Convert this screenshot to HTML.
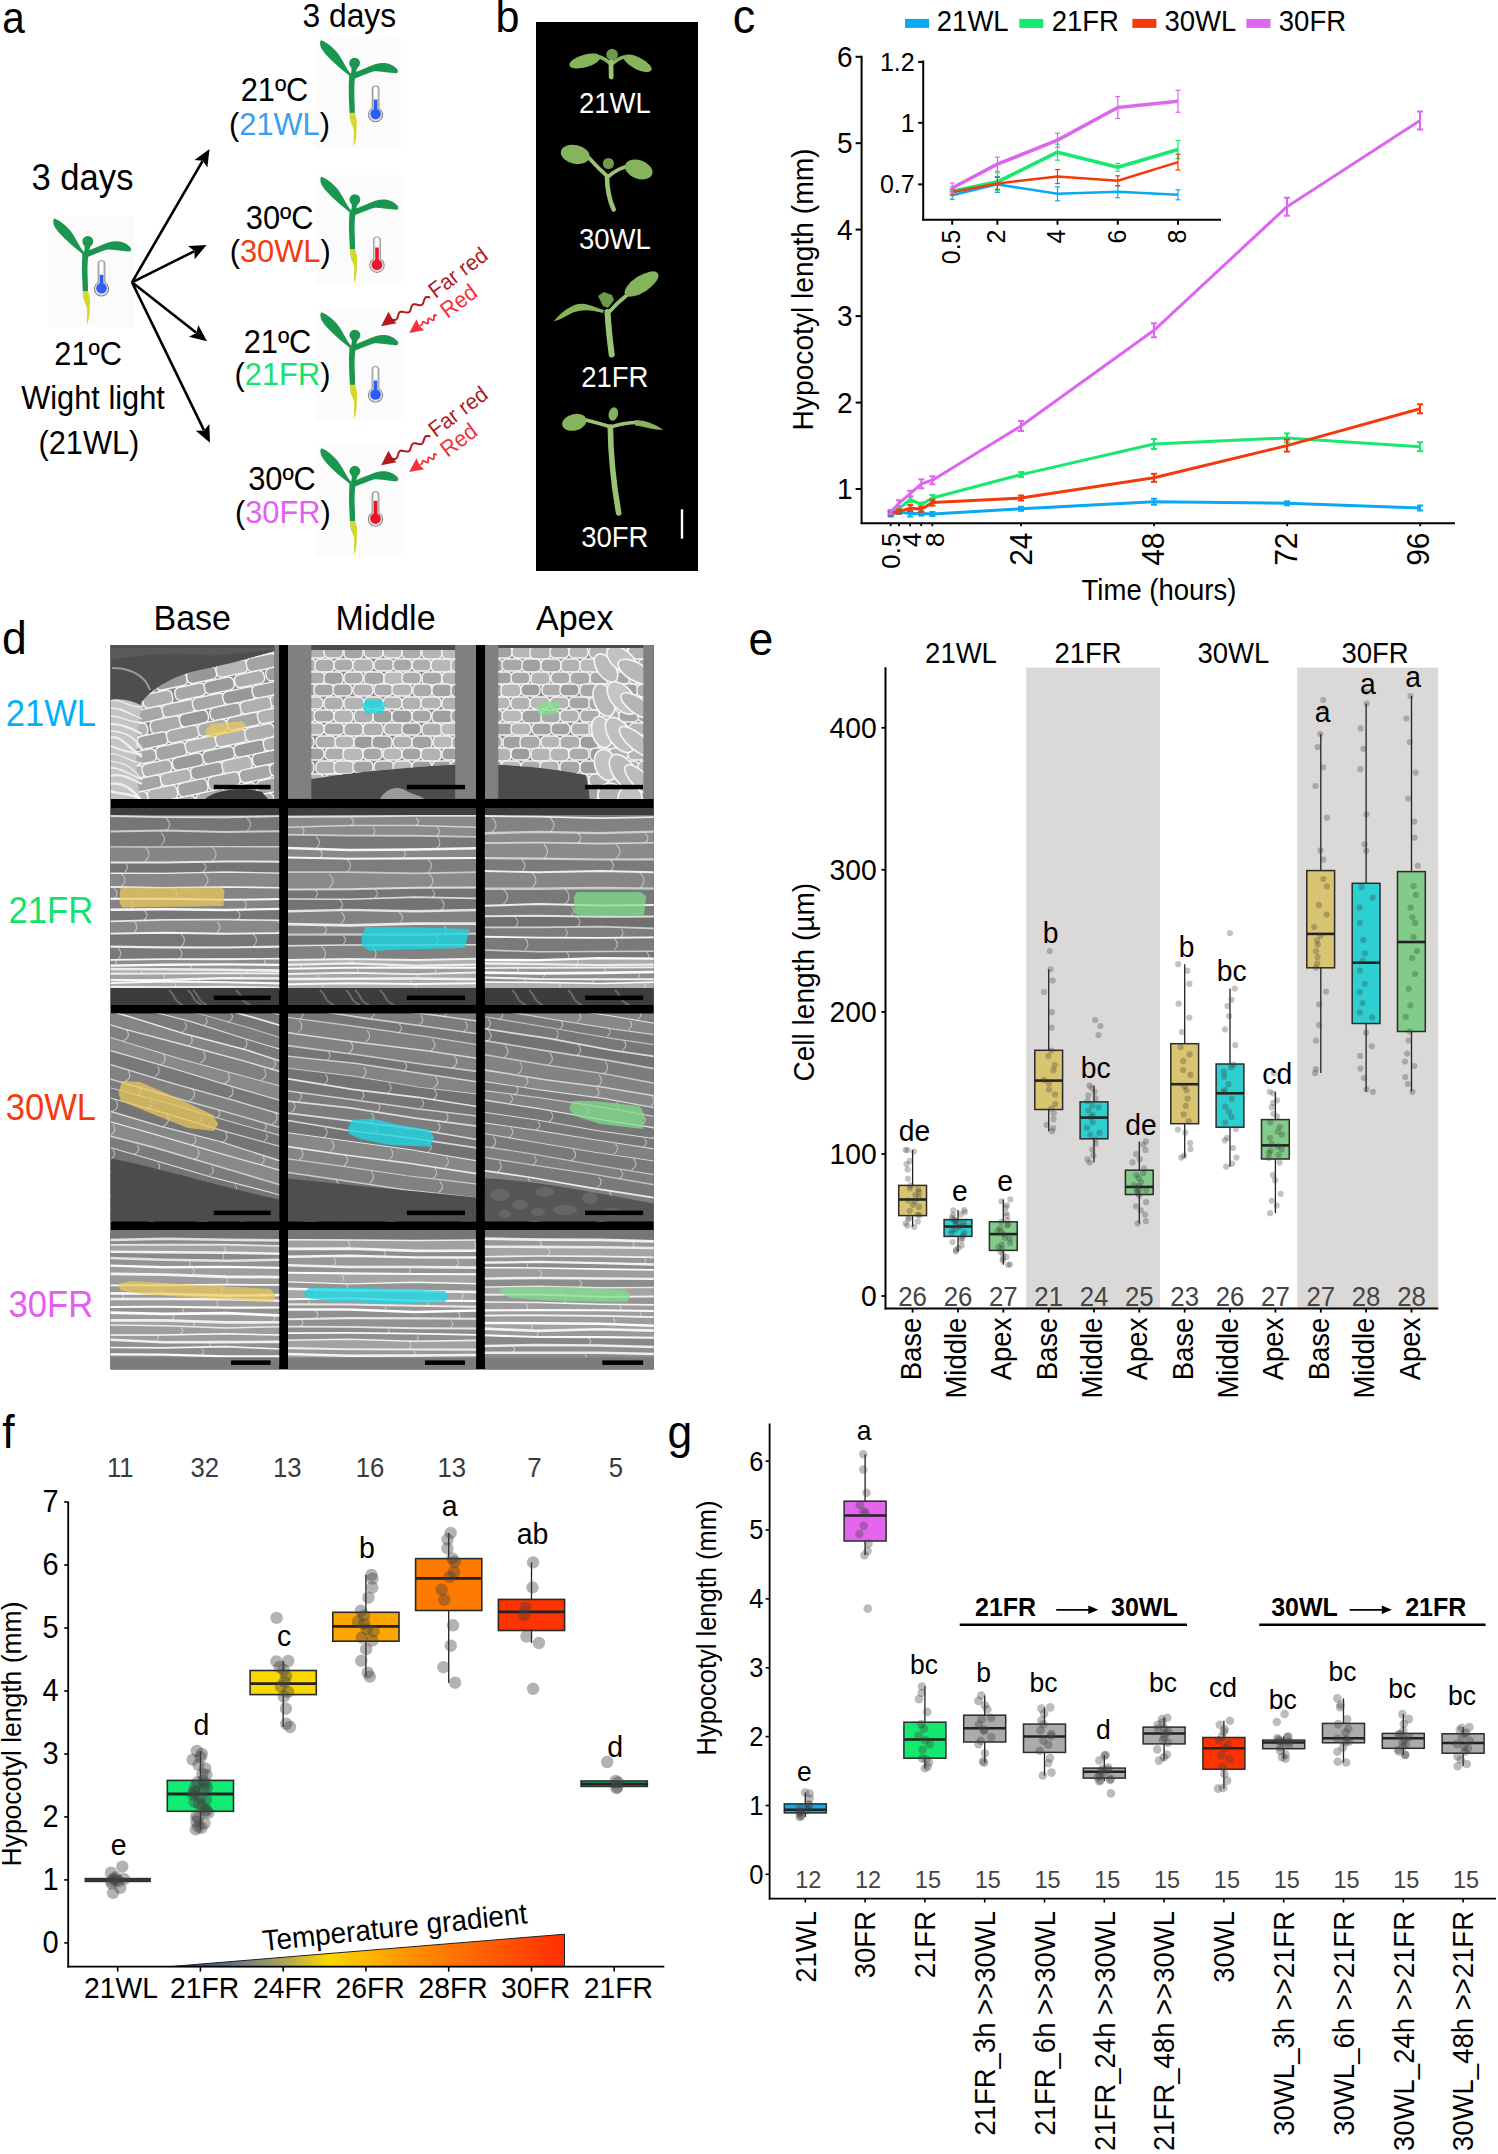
<!DOCTYPE html>
<html><head><meta charset="utf-8"><title>Figure</title>
<style>
html,body{margin:0;padding:0;background:#fff;}
body{width:1498px;height:2154px;overflow:hidden;}
svg{display:block;font-family:"Liberation Sans", sans-serif;}
.h{stroke:#f4f4f4;stroke-width:1.4}
.e{stroke:#f2f2f2;stroke-opacity:.85;stroke-width:1.3}
</style></head><body>
<svg width="1498" height="2154" viewBox="0 0 1498 2154">
<rect width="1498" height="2154" fill="#fff"/>
<defs>
<g id="seed"><rect x="0" y="0" width="86" height="110" fill="#fbfbfb"/><path d="M6.3,1.7 C9,2.6 12.5,4.7 16,7.8 C20.5,11.5 24,16 26.8,20.9 C29.5,25.5 32,30.5 35.2,34.4 L37,36.6 L35,37.6 C31.5,35 28.5,32.5 26,30.5 C22,27 17.5,23 12.5,17.8 C8.5,13.5 5.8,10 5.2,6.5 C4.8,3.5 5.3,2 6.3,1.7 Z" fill="#1b9650"/><circle cx="39.6" cy="24.6" r="5.4" fill="#1b9650"/><path d="M36.2,27 L43,27 L41.2,33 L40.8,37 L35.5,37 L36.5,32 Z" fill="#1b9650"/><path d="M38.3,34.6 C42,33.2 46,31.5 49.5,30 C53,28.5 56.5,27 60,25.8 C64,24.6 68,24.3 71.5,24.8 C75.5,25.4 78.5,27.2 81,29.5 C82.3,30.6 83,31.5 82.9,33.2 C82.5,34.6 81,34.8 79,34.6 C75,34.3 71,33.6 67,33.2 C63.5,32.9 60.5,32.4 57.5,33.2 C53.5,34.4 49.5,36.3 45.5,37.7 C43.5,38.4 41.5,39.3 40,40 Z" fill="#1b9650"/><path d="M34.3,35.5 L40.5,35.5 C39.8,41 39.3,46 39.3,51 C39.2,58 39.8,66 39.8,74.5 L34.6,74.5 C34.3,67 33.8,60 33.7,53 C33.6,47 34,41 34.3,35.5 Z" fill="#1b9650"/><path d="M34.6,74.3 L39.8,74.3 C40.5,77 41.7,80 41.8,83 C41.9,87 41.5,91 41.4,95 C41.3,99 40.6,103 39.3,107 L38.7,107 C38.6,103 38.6,99.5 38.9,96 C39.1,93 38.8,90.5 37.6,88 C36.3,85 35.1,82.5 34.9,79.5 C34.7,77.5 34.6,76 34.6,74.3 Z" fill="#d6d72c"/></g>
</defs>
<use href="#seed" x="48.2" y="216.8"/>
<path d="M98.2,282.6 L98.2,264.0 A3.3,3.3 0 0 1 104.8,264.0 L104.8,282.6 A7.1,7.1 0 1 1 98.2,282.6 Z" fill="#fff" stroke="#8a8a8a" stroke-width="1.1"/>
<path d="M99.4,283.3 L99.4,263.1 A2.1,2.1 0 0 1 103.6,263.1 L103.6,283.3 A5.9,5.9 0 1 1 99.4,283.3 Z" fill="#fff" stroke="#c8c8c8" stroke-width="0.8"/>
<rect x="99.7" y="274.8" width="3.6" height="13.5" fill="#2f5cf5"/>
<circle cx="101.5" cy="288.3" r="5.3" fill="#2f5cf5"/>
<use href="#seed" x="315.0" y="38.5"/>
<path d="M372.3,108.4 L372.3,89.4 A3.3,3.3 0 0 1 378.9,89.4 L378.9,108.4 A7.1,7.1 0 1 1 372.3,108.4 Z" fill="#fff" stroke="#8a8a8a" stroke-width="1.1"/>
<path d="M373.5,109.1 L373.5,88.5 A2.1,2.1 0 0 1 377.7,88.5 L377.7,109.1 A5.9,5.9 0 1 1 373.5,109.1 Z" fill="#fff" stroke="#c8c8c8" stroke-width="0.8"/>
<rect x="373.8" y="99.5" width="3.6" height="14.6" fill="#2f5cf5"/>
<circle cx="375.6" cy="114.1" r="5.3" fill="#2f5cf5"/>
<use href="#seed" x="315.3" y="175.0"/>
<path d="M373.7,259.0 L373.7,240.3 A3.3,3.3 0 0 1 380.3,240.3 L380.3,259.0 A7.1,7.1 0 1 1 373.7,259.0 Z" fill="#fff" stroke="#8a8a8a" stroke-width="1.1"/>
<path d="M374.9,259.7 L374.9,239.4 A2.1,2.1 0 0 1 379.1,239.4 L379.1,259.7 A5.9,5.9 0 1 1 374.9,259.7 Z" fill="#fff" stroke="#c8c8c8" stroke-width="0.8"/>
<rect x="375.2" y="247.5" width="3.6" height="17.2" fill="#ec1329"/>
<circle cx="377.0" cy="264.7" r="5.3" fill="#ec1329"/>
<use href="#seed" x="315.3" y="310.5"/>
<path d="M372.2,388.8 L372.2,369.8 A3.3,3.3 0 0 1 378.8,369.8 L378.8,388.8 A7.1,7.1 0 1 1 372.2,388.8 Z" fill="#fff" stroke="#8a8a8a" stroke-width="1.1"/>
<path d="M373.4,389.5 L373.4,368.9 A2.1,2.1 0 0 1 377.6,368.9 L377.6,389.5 A5.9,5.9 0 1 1 373.4,389.5 Z" fill="#fff" stroke="#c8c8c8" stroke-width="0.8"/>
<rect x="373.7" y="380.5" width="3.6" height="14.0" fill="#2f5cf5"/>
<circle cx="375.5" cy="394.5" r="5.3" fill="#2f5cf5"/>
<use href="#seed" x="315.3" y="446.6"/>
<path d="M372.2,512.9 L372.2,495.2 A3.3,3.3 0 0 1 378.8,495.2 L378.8,512.9 A7.1,7.1 0 1 1 372.2,512.9 Z" fill="#fff" stroke="#8a8a8a" stroke-width="1.1"/>
<path d="M373.4,513.6 L373.4,494.3 A2.1,2.1 0 0 1 377.6,494.3 L377.6,513.6 A5.9,5.9 0 1 1 373.4,513.6 Z" fill="#fff" stroke="#c8c8c8" stroke-width="0.8"/>
<rect x="373.7" y="500.8" width="3.6" height="17.8" fill="#ec1329"/>
<circle cx="375.5" cy="518.6" r="5.3" fill="#ec1329"/>
<text transform="translate(2.2,32.6) scale(0.9,1)" font-size="45">a</text>
<text transform="translate(31.5,189.8) scale(1,1.05)" font-size="34.6">3 days</text>
<text transform="translate(302.5,26.8) scale(1,1.05)" font-size="31.8">3 days</text>
<text transform="translate(88.2,364.8) scale(1,1.05)" font-size="30.8" text-anchor="middle">21ºC</text>
<text transform="translate(93.0,409.4) scale(1,1.05)" font-size="30.8" text-anchor="middle">Wight light</text>
<text transform="translate(88.9,453.5) scale(1,1.05)" font-size="30.8" text-anchor="middle">(21WL)</text>
<text transform="translate(274.5,101.0) scale(1,1.05)" font-size="30.8" text-anchor="middle">21ºC</text>
<text x="279.5" y="135.0" font-size="30.8" text-anchor="middle">(<tspan fill="#3aa0ee">21WL</tspan>)</text>
<text transform="translate(279.7,229.2) scale(1,1.05)" font-size="30.8" text-anchor="middle">30ºC</text>
<text x="280.2" y="262.0" font-size="30.8" text-anchor="middle">(<tspan fill="#f23c0e">30WL</tspan>)</text>
<text transform="translate(277.5,353.4) scale(1,1.05)" font-size="30.8" text-anchor="middle">21ºC</text>
<text x="282.5" y="385.0" font-size="30.8" text-anchor="middle">(<tspan fill="#13e36f">21FR</tspan>)</text>
<text transform="translate(282.0,489.6) scale(1,1.05)" font-size="30.8" text-anchor="middle">30ºC</text>
<text x="282.9" y="523.3" font-size="30.8" text-anchor="middle">(<tspan fill="#e45ff0">30FR</tspan>)</text>
<line x1="132.0" y1="282.3" x2="202.5" y2="161.1" stroke="#000" stroke-width="2.6"/>
<path d="M209.5,149.0 L207.4,167.5 L202.7,160.8 L194.5,159.9 Z" fill="#000"/>
<line x1="132.0" y1="282.3" x2="194.1" y2="251.3" stroke="#000" stroke-width="2.6"/>
<path d="M206.6,245.0 L194.7,259.3 L194.4,251.1 L188.0,245.9 Z" fill="#000"/>
<line x1="132.0" y1="282.3" x2="196.0" y2="332.6" stroke="#000" stroke-width="2.6"/>
<path d="M207.0,341.3 L189.0,336.7 L196.3,332.9 L198.3,324.9 Z" fill="#000"/>
<line x1="132.0" y1="282.3" x2="203.9" y2="430.1" stroke="#000" stroke-width="2.6"/>
<path d="M210.0,442.7 L195.8,430.7 L204.1,430.5 L209.3,424.1 Z" fill="#000"/>
<path d="M430.3,297.4 L429.3,297.2 L428.3,297.0 L427.4,296.9 L426.6,297.0 L425.9,297.2 L425.3,297.7 L424.9,298.4 L424.5,299.2 L424.1,300.1 L423.8,301.1 L423.5,302.1 L423.2,303.0 L422.8,303.8 L422.3,304.5 L421.7,304.9 L421.0,305.2 L420.2,305.3 L419.3,305.2 L418.4,305.0 L417.4,304.8 L416.4,304.5 L415.4,304.3 L414.5,304.3 L413.7,304.3 L413.0,304.6 L412.4,305.1 L411.9,305.7 L411.5,306.5 L411.2,307.5 L410.9,308.4 L410.6,309.4 L410.3,310.4 L409.9,311.2 L409.4,311.8 L408.8,312.3 L408.1,312.6 L407.3,312.6 L406.4,312.6 L405.4,312.4 L404.4,312.1 L403.4,311.9 L402.5,311.7 L401.6,311.6 L400.8,311.7 L400.1,312.0 L399.5,312.4 L399.0,313.1 L398.6,313.9 L398.3,314.8 L398.0,315.8 L397.7,316.8 L397.3,317.7 L396.9,318.5 L396.5,319.2 L395.9,319.7 L395.2,319.9 L394.4,320.0 L393.5,319.9 L392.5,319.7 L391.5,319.5" fill="none" stroke="#b3191f" stroke-width="2"/>
<path d="M381.1,326.3 L388.5,311.8 L392.3,318.8 L396.5,323.2 Z" fill="#b3191f"/>
<path d="M436.8,316.0 L435.9,315.5 L435.1,315.1 L434.5,315.0 L434.1,315.4 L433.9,316.0 L433.9,317.0 L433.9,318.0 L433.9,319.0 L433.8,319.8 L433.5,320.2 L432.9,320.3 L432.2,320.0 L431.3,319.5 L430.4,319.0 L429.6,318.5 L428.9,318.4 L428.5,318.5 L428.2,319.1 L428.1,320.0 L428.1,321.0 L428.2,322.0 L428.1,322.9 L427.8,323.5 L427.4,323.6 L426.7,323.5 L425.9,323.0 L425.0,322.5 L424.1,322.0 L423.4,321.7 L422.8,321.8 L422.5,322.2 L422.4,323.0 L422.4,324.0 L422.1,324.5 L421.7,324.8 L421.2,325.0 L420.8,325.2 L420.4,325.5 L419.9,325.8 L419.5,326.0" fill="none" stroke="#f2333d" stroke-width="1.8"/>
<path d="M409.2,332.9 L416.5,319.2 L419.5,326.0 L424.2,330.3 Z" fill="#f2333d"/>
<text transform="translate(435.5,299.0) rotate(-37) scale(1,1.05)" font-size="21" fill="#b3191f">Far red</text>
<text transform="translate(447.5,319.0) rotate(-37) scale(1,1.05)" font-size="21.5" fill="#f2333d">Red</text>
<path d="M430.3,436.4 L429.3,436.2 L428.3,436.0 L427.4,435.9 L426.6,436.0 L425.9,436.2 L425.3,436.7 L424.9,437.4 L424.5,438.2 L424.1,439.1 L423.8,440.1 L423.5,441.1 L423.2,442.0 L422.8,442.8 L422.3,443.5 L421.7,443.9 L421.0,444.2 L420.2,444.3 L419.3,444.2 L418.4,444.0 L417.4,443.8 L416.4,443.5 L415.4,443.3 L414.5,443.3 L413.7,443.3 L413.0,443.6 L412.4,444.1 L411.9,444.7 L411.5,445.5 L411.2,446.5 L410.9,447.4 L410.6,448.4 L410.3,449.4 L409.9,450.2 L409.4,450.8 L408.8,451.3 L408.1,451.6 L407.3,451.6 L406.4,451.6 L405.4,451.4 L404.4,451.1 L403.4,450.9 L402.5,450.7 L401.6,450.6 L400.8,450.7 L400.1,451.0 L399.5,451.4 L399.0,452.1 L398.6,452.9 L398.3,453.8 L398.0,454.8 L397.7,455.8 L397.3,456.7 L396.9,457.5 L396.5,458.2 L395.9,458.7 L395.2,458.9 L394.4,459.0 L393.5,458.9 L392.5,458.7 L391.5,458.5" fill="none" stroke="#b3191f" stroke-width="2"/>
<path d="M381.1,465.3 L388.5,450.8 L392.3,457.8 L396.5,462.2 Z" fill="#b3191f"/>
<path d="M436.8,455.0 L435.9,454.5 L435.1,454.1 L434.5,454.0 L434.1,454.4 L433.9,455.0 L433.9,456.0 L433.9,457.0 L433.9,458.0 L433.8,458.8 L433.5,459.2 L432.9,459.3 L432.2,459.0 L431.3,458.5 L430.4,458.0 L429.6,457.5 L428.9,457.4 L428.5,457.5 L428.2,458.1 L428.1,459.0 L428.1,460.0 L428.2,461.0 L428.1,461.9 L427.8,462.5 L427.4,462.6 L426.7,462.5 L425.9,462.0 L425.0,461.5 L424.1,461.0 L423.4,460.7 L422.8,460.8 L422.5,461.2 L422.4,462.0 L422.4,463.0 L422.1,463.5 L421.7,463.8 L421.2,464.0 L420.8,464.2 L420.4,464.5 L419.9,464.8 L419.5,465.0" fill="none" stroke="#f2333d" stroke-width="1.8"/>
<path d="M409.2,471.9 L416.5,458.2 L419.5,465.0 L424.2,469.3 Z" fill="#f2333d"/>
<text transform="translate(435.5,438.0) rotate(-37) scale(1,1.05)" font-size="21" fill="#b3191f">Far red</text>
<text transform="translate(447.5,458.0) rotate(-37) scale(1,1.05)" font-size="21.5" fill="#f2333d">Red</text>
<text transform="translate(495.6,32.3) scale(0.97,1)" font-size="44.5">b</text>
<rect x="536.0" y="22.0" width="162.0" height="549.0" fill="#000"/>
<path d="M600,57 Q606,59 611,64" fill="none" stroke="#86b45c" stroke-width="3.5" stroke-linecap="round"/>
<path d="M624,57 Q617,59 612,64" fill="none" stroke="#86b45c" stroke-width="3.5" stroke-linecap="round"/>
<ellipse cx="584.9" cy="61" rx="16" ry="6.3" transform="rotate(-16 584.9 61)" fill="#86b45c"/>
<ellipse cx="637.6" cy="63.3" rx="15.5" ry="6" transform="rotate(27 637.6 63.3)" fill="#86b45c"/>
<circle cx="612.1" cy="54.5" r="5.8" fill="#6f9a4c"/>
<path d="M611,62 L611.2,77" fill="none" stroke="#9cc375" stroke-width="4.8" stroke-linecap="round"/>
<path d="M589,158 Q598,168 607,176" fill="none" stroke="#9cc375" stroke-width="3.8" stroke-linecap="round"/>
<path d="M625,167 Q616,170 609,176" fill="none" stroke="#9cc375" stroke-width="3.8" stroke-linecap="round"/>
<ellipse cx="575.2" cy="154.4" rx="14.6" ry="9.3" transform="rotate(12 575.2 154.4)" fill="#86b45c"/>
<ellipse cx="638.8" cy="169.4" rx="14.2" ry="9.3" transform="rotate(20 638.8 169.4)" fill="#86b45c"/>
<circle cx="608.4" cy="163.5" r="5.6" fill="#6f9a4c"/>
<path d="M607,176 Q607,195 613.7,209.5" fill="none" stroke="#9cc375" stroke-width="4.6" stroke-linecap="round"/>
<path d="M553.9,321 C560,314 568,307 576,304.5 C583,302.5 590,305 596,307.5 L604,310 L603,313 L594,311 C585,309.5 577,310.5 570,314 C564,317.5 558,320.5 553.9,321 Z" fill="#86b45c"/>
<path d="M609.6,311.5 Q617,303 627,295" fill="none" stroke="#9cc375" stroke-width="3.8" stroke-linecap="round"/>
<ellipse cx="641.5" cy="284" rx="19.5" ry="8.2" transform="rotate(-33 641.5 284)" fill="#86b45c"/>
<path d="M598,296 L604,292 L612,295 L614,300 L608,308 L603,306 Z" fill="#6f9a4c"/>
<path d="M607.5,312 Q609,335 611.7,354.5" fill="none" stroke="#9cc375" stroke-width="6" stroke-linecap="round"/>
<path d="M586,420 Q598,423 609.5,426.5" fill="none" stroke="#9cc375" stroke-width="3.6" stroke-linecap="round"/>
<path d="M612.4,426.5 Q625,422.5 637.5,422.5" fill="none" stroke="#9cc375" stroke-width="3.6" stroke-linecap="round"/>
<path d="M635,420 C645,420 655,424 663.3,429.9 C655,430 645,427 635,425.5 Z" fill="#86b45c"/>
<ellipse cx="574.3" cy="422.3" rx="12.4" ry="8.2" transform="rotate(-15 574.3 422.3)" fill="#86b45c"/>
<ellipse cx="613.3" cy="414" rx="4.6" ry="6.8" transform="rotate(15 613.3 414)" fill="#86b45c"/>
<path d="M610.3,427 Q611,470 618.7,513" fill="none" stroke="#9cc375" stroke-width="5.6" stroke-linecap="round"/>
<line x1="682.0" y1="509.3" x2="682.0" y2="538.6" stroke="#fff" stroke-width="2.4"/>
<text transform="translate(614.8,113.0) scale(1,1.05)" font-size="27.5" text-anchor="middle" fill="#fff">21WL</text>
<text transform="translate(614.8,249.0) scale(1,1.05)" font-size="27.5" text-anchor="middle" fill="#fff">30WL</text>
<text transform="translate(614.8,387.4) scale(1,1.05)" font-size="27.5" text-anchor="middle" fill="#fff">21FR</text>
<text transform="translate(614.8,546.6) scale(1,1.05)" font-size="27.5" text-anchor="middle" fill="#fff">30FR</text>
<text transform="translate(732.8,32.5) scale(1,1.05)" font-size="45">c</text>
<rect x="905.1" y="18.9" width="24.0" height="9.0" fill="#0aa8f2"/>
<text transform="translate(936.8,31.0) scale(1,1.05)" font-size="27.5">21WL</text>
<rect x="1019.3" y="18.9" width="24.0" height="9.0" fill="#16e96d"/>
<text transform="translate(1051.7,31.0) scale(1,1.05)" font-size="27.5">21FR</text>
<rect x="1132.4" y="18.9" width="24.0" height="9.0" fill="#f23a0c"/>
<text transform="translate(1164.4,31.0) scale(1,1.05)" font-size="27.5">30WL</text>
<rect x="1246.4" y="18.9" width="24.0" height="9.0" fill="#dd66f0"/>
<text transform="translate(1278.8,31.0) scale(1,1.05)" font-size="27.5">30FR</text>
<line x1="861.6" y1="55.8" x2="861.6" y2="524.0" stroke="#000" stroke-width="2"/>
<line x1="860.6" y1="523.2" x2="1455.0" y2="523.2" stroke="#000" stroke-width="2"/>
<line x1="855.6" y1="489.0" x2="861.6" y2="489.0" stroke="#000" stroke-width="2"/>
<text transform="translate(852.6,499.0) scale(1,1.05)" font-size="28" text-anchor="end">1</text>
<line x1="855.6" y1="402.6" x2="861.6" y2="402.6" stroke="#000" stroke-width="2"/>
<text transform="translate(852.6,412.6) scale(1,1.05)" font-size="28" text-anchor="end">2</text>
<line x1="855.6" y1="316.1" x2="861.6" y2="316.1" stroke="#000" stroke-width="2"/>
<text transform="translate(852.6,326.1) scale(1,1.05)" font-size="28" text-anchor="end">3</text>
<line x1="855.6" y1="229.6" x2="861.6" y2="229.6" stroke="#000" stroke-width="2"/>
<text transform="translate(852.6,239.6) scale(1,1.05)" font-size="28" text-anchor="end">4</text>
<line x1="855.6" y1="143.2" x2="861.6" y2="143.2" stroke="#000" stroke-width="2"/>
<text transform="translate(852.6,153.2) scale(1,1.05)" font-size="28" text-anchor="end">5</text>
<line x1="855.6" y1="56.8" x2="861.6" y2="56.8" stroke="#000" stroke-width="2"/>
<text transform="translate(852.6,66.8) scale(1,1.05)" font-size="28" text-anchor="end">6</text>
<line x1="890.7" y1="523.2" x2="890.7" y2="526.2" stroke="#000" stroke-width="1.8"/>
<line x1="899.0" y1="523.2" x2="899.0" y2="526.2" stroke="#000" stroke-width="1.8"/>
<line x1="910.1" y1="523.2" x2="910.1" y2="526.2" stroke="#000" stroke-width="1.8"/>
<line x1="921.2" y1="523.2" x2="921.2" y2="526.2" stroke="#000" stroke-width="1.8"/>
<line x1="932.3" y1="523.2" x2="932.3" y2="526.2" stroke="#000" stroke-width="1.8"/>
<line x1="1021.0" y1="523.2" x2="1021.0" y2="526.2" stroke="#000" stroke-width="1.8"/>
<line x1="1154.1" y1="523.2" x2="1154.1" y2="526.2" stroke="#000" stroke-width="1.8"/>
<line x1="1287.2" y1="523.2" x2="1287.2" y2="526.2" stroke="#000" stroke-width="1.8"/>
<line x1="1420.2" y1="523.2" x2="1420.2" y2="526.2" stroke="#000" stroke-width="1.8"/>
<text transform="translate(899.5,532.5) rotate(-90) scale(1,1)" font-size="26" text-anchor="end">0.5</text>
<text transform="translate(920.5,532.5) rotate(-90) scale(1,1)" font-size="26" text-anchor="end">4</text>
<text transform="translate(943.5,532.5) rotate(-90) scale(1,1)" font-size="26" text-anchor="end">8</text>
<text transform="translate(1031.7,532.5) rotate(-90) scale(1,1.03)" font-size="30" text-anchor="end">24</text>
<text transform="translate(1164.2,532.5) rotate(-90) scale(1,1.03)" font-size="30" text-anchor="end">48</text>
<text transform="translate(1297.2,532.5) rotate(-90) scale(1,1.03)" font-size="30" text-anchor="end">72</text>
<text transform="translate(1429.2,532.5) rotate(-90) scale(1,1.03)" font-size="30" text-anchor="end">96</text>
<text transform="translate(813.3,289.5) rotate(-90) scale(1,1.05)" font-size="28.2" text-anchor="middle">Hypocotyl length (mm)</text>
<text transform="translate(1159.0,600.0) scale(1,1.05)" font-size="27.5" text-anchor="middle">Time (hours)</text>
<path d="M890.7,514.5 L899.0,512.0 L910.2,513.6 L921.3,513.6 L932.4,514.0 L1021.0,508.8 L1154.0,501.7 L1287.0,503.3 L1420.0,508.0" fill="none" stroke="#0aa8f2" stroke-width="3" stroke-linejoin="round"/>
<line x1="890.7" y1="512.5" x2="890.7" y2="516.5" stroke="#0aa8f2" stroke-width="2"/>
<line x1="887.7" y1="512.5" x2="893.7" y2="512.5" stroke="#0aa8f2" stroke-width="2"/>
<line x1="887.7" y1="516.5" x2="893.7" y2="516.5" stroke="#0aa8f2" stroke-width="2"/>
<line x1="899.0" y1="510.0" x2="899.0" y2="514.0" stroke="#0aa8f2" stroke-width="2"/>
<line x1="896.0" y1="510.0" x2="902.0" y2="510.0" stroke="#0aa8f2" stroke-width="2"/>
<line x1="896.0" y1="514.0" x2="902.0" y2="514.0" stroke="#0aa8f2" stroke-width="2"/>
<line x1="910.2" y1="510.6" x2="910.2" y2="516.6" stroke="#0aa8f2" stroke-width="2"/>
<line x1="907.2" y1="510.6" x2="913.2" y2="510.6" stroke="#0aa8f2" stroke-width="2"/>
<line x1="907.2" y1="516.6" x2="913.2" y2="516.6" stroke="#0aa8f2" stroke-width="2"/>
<line x1="921.3" y1="511.6" x2="921.3" y2="515.6" stroke="#0aa8f2" stroke-width="2"/>
<line x1="918.3" y1="511.6" x2="924.3" y2="511.6" stroke="#0aa8f2" stroke-width="2"/>
<line x1="918.3" y1="515.6" x2="924.3" y2="515.6" stroke="#0aa8f2" stroke-width="2"/>
<line x1="932.4" y1="512.0" x2="932.4" y2="516.0" stroke="#0aa8f2" stroke-width="2"/>
<line x1="929.4" y1="512.0" x2="935.4" y2="512.0" stroke="#0aa8f2" stroke-width="2"/>
<line x1="929.4" y1="516.0" x2="935.4" y2="516.0" stroke="#0aa8f2" stroke-width="2"/>
<line x1="1021.0" y1="506.8" x2="1021.0" y2="510.8" stroke="#0aa8f2" stroke-width="2"/>
<line x1="1018.0" y1="506.8" x2="1024.0" y2="506.8" stroke="#0aa8f2" stroke-width="2"/>
<line x1="1018.0" y1="510.8" x2="1024.0" y2="510.8" stroke="#0aa8f2" stroke-width="2"/>
<line x1="1154.0" y1="498.7" x2="1154.0" y2="504.7" stroke="#0aa8f2" stroke-width="2"/>
<line x1="1151.0" y1="498.7" x2="1157.0" y2="498.7" stroke="#0aa8f2" stroke-width="2"/>
<line x1="1151.0" y1="504.7" x2="1157.0" y2="504.7" stroke="#0aa8f2" stroke-width="2"/>
<line x1="1287.0" y1="501.3" x2="1287.0" y2="505.3" stroke="#0aa8f2" stroke-width="2"/>
<line x1="1284.0" y1="501.3" x2="1290.0" y2="501.3" stroke="#0aa8f2" stroke-width="2"/>
<line x1="1284.0" y1="505.3" x2="1290.0" y2="505.3" stroke="#0aa8f2" stroke-width="2"/>
<line x1="1420.0" y1="505.5" x2="1420.0" y2="510.5" stroke="#0aa8f2" stroke-width="2"/>
<line x1="1417.0" y1="505.5" x2="1423.0" y2="505.5" stroke="#0aa8f2" stroke-width="2"/>
<line x1="1417.0" y1="510.5" x2="1423.0" y2="510.5" stroke="#0aa8f2" stroke-width="2"/>
<path d="M890.7,512.8 L899.0,508.5 L910.2,499.4 L921.3,504.6 L932.4,498.0 L1021.0,474.6 L1154.0,444.0 L1287.0,437.9 L1420.0,446.7" fill="none" stroke="#16e96d" stroke-width="3" stroke-linejoin="round"/>
<line x1="890.7" y1="510.8" x2="890.7" y2="514.8" stroke="#16e96d" stroke-width="2"/>
<line x1="887.7" y1="510.8" x2="893.7" y2="510.8" stroke="#16e96d" stroke-width="2"/>
<line x1="887.7" y1="514.8" x2="893.7" y2="514.8" stroke="#16e96d" stroke-width="2"/>
<line x1="899.0" y1="506.5" x2="899.0" y2="510.5" stroke="#16e96d" stroke-width="2"/>
<line x1="896.0" y1="506.5" x2="902.0" y2="506.5" stroke="#16e96d" stroke-width="2"/>
<line x1="896.0" y1="510.5" x2="902.0" y2="510.5" stroke="#16e96d" stroke-width="2"/>
<line x1="910.2" y1="496.4" x2="910.2" y2="502.4" stroke="#16e96d" stroke-width="2"/>
<line x1="907.2" y1="496.4" x2="913.2" y2="496.4" stroke="#16e96d" stroke-width="2"/>
<line x1="907.2" y1="502.4" x2="913.2" y2="502.4" stroke="#16e96d" stroke-width="2"/>
<line x1="921.3" y1="502.6" x2="921.3" y2="506.6" stroke="#16e96d" stroke-width="2"/>
<line x1="918.3" y1="502.6" x2="924.3" y2="502.6" stroke="#16e96d" stroke-width="2"/>
<line x1="918.3" y1="506.6" x2="924.3" y2="506.6" stroke="#16e96d" stroke-width="2"/>
<line x1="932.4" y1="495.0" x2="932.4" y2="501.0" stroke="#16e96d" stroke-width="2"/>
<line x1="929.4" y1="495.0" x2="935.4" y2="495.0" stroke="#16e96d" stroke-width="2"/>
<line x1="929.4" y1="501.0" x2="935.4" y2="501.0" stroke="#16e96d" stroke-width="2"/>
<line x1="1021.0" y1="472.1" x2="1021.0" y2="477.1" stroke="#16e96d" stroke-width="2"/>
<line x1="1018.0" y1="472.1" x2="1024.0" y2="472.1" stroke="#16e96d" stroke-width="2"/>
<line x1="1018.0" y1="477.1" x2="1024.0" y2="477.1" stroke="#16e96d" stroke-width="2"/>
<line x1="1154.0" y1="439.0" x2="1154.0" y2="449.0" stroke="#16e96d" stroke-width="2"/>
<line x1="1151.0" y1="439.0" x2="1157.0" y2="439.0" stroke="#16e96d" stroke-width="2"/>
<line x1="1151.0" y1="449.0" x2="1157.0" y2="449.0" stroke="#16e96d" stroke-width="2"/>
<line x1="1287.0" y1="433.4" x2="1287.0" y2="442.4" stroke="#16e96d" stroke-width="2"/>
<line x1="1284.0" y1="433.4" x2="1290.0" y2="433.4" stroke="#16e96d" stroke-width="2"/>
<line x1="1284.0" y1="442.4" x2="1290.0" y2="442.4" stroke="#16e96d" stroke-width="2"/>
<line x1="1420.0" y1="442.2" x2="1420.0" y2="451.2" stroke="#16e96d" stroke-width="2"/>
<line x1="1417.0" y1="442.2" x2="1423.0" y2="442.2" stroke="#16e96d" stroke-width="2"/>
<line x1="1417.0" y1="451.2" x2="1423.0" y2="451.2" stroke="#16e96d" stroke-width="2"/>
<path d="M890.7,513.3 L899.0,511.4 L910.2,508.1 L921.3,509.3 L932.4,502.6 L1021.0,498.0 L1154.0,477.8 L1287.0,445.6 L1420.0,408.8" fill="none" stroke="#f23a0c" stroke-width="3" stroke-linejoin="round"/>
<line x1="890.7" y1="511.3" x2="890.7" y2="515.3" stroke="#f23a0c" stroke-width="2"/>
<line x1="887.7" y1="511.3" x2="893.7" y2="511.3" stroke="#f23a0c" stroke-width="2"/>
<line x1="887.7" y1="515.3" x2="893.7" y2="515.3" stroke="#f23a0c" stroke-width="2"/>
<line x1="899.0" y1="509.4" x2="899.0" y2="513.4" stroke="#f23a0c" stroke-width="2"/>
<line x1="896.0" y1="509.4" x2="902.0" y2="509.4" stroke="#f23a0c" stroke-width="2"/>
<line x1="896.0" y1="513.4" x2="902.0" y2="513.4" stroke="#f23a0c" stroke-width="2"/>
<line x1="910.2" y1="505.1" x2="910.2" y2="511.1" stroke="#f23a0c" stroke-width="2"/>
<line x1="907.2" y1="505.1" x2="913.2" y2="505.1" stroke="#f23a0c" stroke-width="2"/>
<line x1="907.2" y1="511.1" x2="913.2" y2="511.1" stroke="#f23a0c" stroke-width="2"/>
<line x1="921.3" y1="506.8" x2="921.3" y2="511.8" stroke="#f23a0c" stroke-width="2"/>
<line x1="918.3" y1="506.8" x2="924.3" y2="506.8" stroke="#f23a0c" stroke-width="2"/>
<line x1="918.3" y1="511.8" x2="924.3" y2="511.8" stroke="#f23a0c" stroke-width="2"/>
<line x1="932.4" y1="499.6" x2="932.4" y2="505.6" stroke="#f23a0c" stroke-width="2"/>
<line x1="929.4" y1="499.6" x2="935.4" y2="499.6" stroke="#f23a0c" stroke-width="2"/>
<line x1="929.4" y1="505.6" x2="935.4" y2="505.6" stroke="#f23a0c" stroke-width="2"/>
<line x1="1021.0" y1="495.5" x2="1021.0" y2="500.5" stroke="#f23a0c" stroke-width="2"/>
<line x1="1018.0" y1="495.5" x2="1024.0" y2="495.5" stroke="#f23a0c" stroke-width="2"/>
<line x1="1018.0" y1="500.5" x2="1024.0" y2="500.5" stroke="#f23a0c" stroke-width="2"/>
<line x1="1154.0" y1="473.8" x2="1154.0" y2="481.8" stroke="#f23a0c" stroke-width="2"/>
<line x1="1151.0" y1="473.8" x2="1157.0" y2="473.8" stroke="#f23a0c" stroke-width="2"/>
<line x1="1151.0" y1="481.8" x2="1157.0" y2="481.8" stroke="#f23a0c" stroke-width="2"/>
<line x1="1287.0" y1="439.6" x2="1287.0" y2="451.6" stroke="#f23a0c" stroke-width="2"/>
<line x1="1284.0" y1="439.6" x2="1290.0" y2="439.6" stroke="#f23a0c" stroke-width="2"/>
<line x1="1284.0" y1="451.6" x2="1290.0" y2="451.6" stroke="#f23a0c" stroke-width="2"/>
<line x1="1420.0" y1="404.3" x2="1420.0" y2="413.3" stroke="#f23a0c" stroke-width="2"/>
<line x1="1417.0" y1="404.3" x2="1423.0" y2="404.3" stroke="#f23a0c" stroke-width="2"/>
<line x1="1417.0" y1="413.3" x2="1423.0" y2="413.3" stroke="#f23a0c" stroke-width="2"/>
<path d="M890.7,512.0 L899.0,503.3 L910.2,493.7 L921.3,483.8 L932.4,480.3 L1021.0,426.0 L1154.0,330.3 L1287.0,206.7 L1420.0,120.5" fill="none" stroke="#dd66f0" stroke-width="3" stroke-linejoin="round"/>
<line x1="890.7" y1="510.0" x2="890.7" y2="514.0" stroke="#dd66f0" stroke-width="2"/>
<line x1="887.7" y1="510.0" x2="893.7" y2="510.0" stroke="#dd66f0" stroke-width="2"/>
<line x1="887.7" y1="514.0" x2="893.7" y2="514.0" stroke="#dd66f0" stroke-width="2"/>
<line x1="899.0" y1="500.3" x2="899.0" y2="506.3" stroke="#dd66f0" stroke-width="2"/>
<line x1="896.0" y1="500.3" x2="902.0" y2="500.3" stroke="#dd66f0" stroke-width="2"/>
<line x1="896.0" y1="506.3" x2="902.0" y2="506.3" stroke="#dd66f0" stroke-width="2"/>
<line x1="910.2" y1="490.7" x2="910.2" y2="496.7" stroke="#dd66f0" stroke-width="2"/>
<line x1="907.2" y1="490.7" x2="913.2" y2="490.7" stroke="#dd66f0" stroke-width="2"/>
<line x1="907.2" y1="496.7" x2="913.2" y2="496.7" stroke="#dd66f0" stroke-width="2"/>
<line x1="921.3" y1="479.3" x2="921.3" y2="488.3" stroke="#dd66f0" stroke-width="2"/>
<line x1="918.3" y1="479.3" x2="924.3" y2="479.3" stroke="#dd66f0" stroke-width="2"/>
<line x1="918.3" y1="488.3" x2="924.3" y2="488.3" stroke="#dd66f0" stroke-width="2"/>
<line x1="932.4" y1="476.3" x2="932.4" y2="484.3" stroke="#dd66f0" stroke-width="2"/>
<line x1="929.4" y1="476.3" x2="935.4" y2="476.3" stroke="#dd66f0" stroke-width="2"/>
<line x1="929.4" y1="484.3" x2="935.4" y2="484.3" stroke="#dd66f0" stroke-width="2"/>
<line x1="1021.0" y1="421.0" x2="1021.0" y2="431.0" stroke="#dd66f0" stroke-width="2"/>
<line x1="1018.0" y1="421.0" x2="1024.0" y2="421.0" stroke="#dd66f0" stroke-width="2"/>
<line x1="1018.0" y1="431.0" x2="1024.0" y2="431.0" stroke="#dd66f0" stroke-width="2"/>
<line x1="1154.0" y1="323.3" x2="1154.0" y2="337.3" stroke="#dd66f0" stroke-width="2"/>
<line x1="1151.0" y1="323.3" x2="1157.0" y2="323.3" stroke="#dd66f0" stroke-width="2"/>
<line x1="1151.0" y1="337.3" x2="1157.0" y2="337.3" stroke="#dd66f0" stroke-width="2"/>
<line x1="1287.0" y1="197.7" x2="1287.0" y2="215.7" stroke="#dd66f0" stroke-width="2"/>
<line x1="1284.0" y1="197.7" x2="1290.0" y2="197.7" stroke="#dd66f0" stroke-width="2"/>
<line x1="1284.0" y1="215.7" x2="1290.0" y2="215.7" stroke="#dd66f0" stroke-width="2"/>
<line x1="1420.0" y1="111.5" x2="1420.0" y2="129.5" stroke="#dd66f0" stroke-width="2"/>
<line x1="1417.0" y1="111.5" x2="1423.0" y2="111.5" stroke="#dd66f0" stroke-width="2"/>
<line x1="1417.0" y1="129.5" x2="1423.0" y2="129.5" stroke="#dd66f0" stroke-width="2"/>
<line x1="923.2" y1="60.5" x2="923.2" y2="220.5" stroke="#000" stroke-width="2"/>
<line x1="922.2" y1="219.7" x2="1221.0" y2="219.7" stroke="#000" stroke-width="2"/>
<line x1="918.2" y1="61.9" x2="923.2" y2="61.9" stroke="#000" stroke-width="2"/>
<text transform="translate(914.7,70.9) scale(1,1.05)" font-size="25" text-anchor="end">1.2</text>
<line x1="918.2" y1="122.8" x2="923.2" y2="122.8" stroke="#000" stroke-width="2"/>
<text transform="translate(914.7,131.8) scale(1,1.05)" font-size="25" text-anchor="end">1</text>
<line x1="918.2" y1="184.4" x2="923.2" y2="184.4" stroke="#000" stroke-width="2"/>
<text transform="translate(914.7,193.4) scale(1,1.05)" font-size="25" text-anchor="end">0.7</text>
<line x1="952.2" y1="219.7" x2="952.2" y2="224.7" stroke="#000" stroke-width="2"/>
<text transform="translate(960.0,229.5) rotate(-90) scale(1,1.05)" font-size="25" text-anchor="end">0.5</text>
<line x1="997.4" y1="219.7" x2="997.4" y2="224.7" stroke="#000" stroke-width="2"/>
<text transform="translate(1005.1,229.5) rotate(-90) scale(1,1.05)" font-size="25" text-anchor="end">2</text>
<line x1="1057.5" y1="219.7" x2="1057.5" y2="224.7" stroke="#000" stroke-width="2"/>
<text transform="translate(1065.3,229.5) rotate(-90) scale(1,1.05)" font-size="25" text-anchor="end">4</text>
<line x1="1117.8" y1="219.7" x2="1117.8" y2="224.7" stroke="#000" stroke-width="2"/>
<text transform="translate(1125.5,229.5) rotate(-90) scale(1,1.05)" font-size="25" text-anchor="end">6</text>
<line x1="1178.0" y1="219.7" x2="1178.0" y2="224.7" stroke="#000" stroke-width="2"/>
<text transform="translate(1185.8,229.5) rotate(-90) scale(1,1.05)" font-size="25" text-anchor="end">8</text>
<path d="M952.2,195.3 L997.4,184.4 L1057.5,193.8 L1117.8,191.7 L1178.0,194.8" fill="none" stroke="#0aa8f2" stroke-width="2.5" stroke-linejoin="round"/>
<line x1="952.2" y1="191.3" x2="952.2" y2="199.3" stroke="#0aa8f2" stroke-width="1.2"/>
<line x1="949.7" y1="191.3" x2="954.7" y2="191.3" stroke="#0aa8f2" stroke-width="1.2"/>
<line x1="949.7" y1="199.3" x2="954.7" y2="199.3" stroke="#0aa8f2" stroke-width="1.2"/>
<line x1="997.4" y1="176.4" x2="997.4" y2="192.4" stroke="#0aa8f2" stroke-width="1.2"/>
<line x1="994.9" y1="176.4" x2="999.9" y2="176.4" stroke="#0aa8f2" stroke-width="1.2"/>
<line x1="994.9" y1="192.4" x2="999.9" y2="192.4" stroke="#0aa8f2" stroke-width="1.2"/>
<line x1="1057.5" y1="186.8" x2="1057.5" y2="200.8" stroke="#0aa8f2" stroke-width="1.2"/>
<line x1="1055.0" y1="186.8" x2="1060.0" y2="186.8" stroke="#0aa8f2" stroke-width="1.2"/>
<line x1="1055.0" y1="200.8" x2="1060.0" y2="200.8" stroke="#0aa8f2" stroke-width="1.2"/>
<line x1="1117.8" y1="185.7" x2="1117.8" y2="197.7" stroke="#0aa8f2" stroke-width="1.2"/>
<line x1="1115.2" y1="185.7" x2="1120.2" y2="185.7" stroke="#0aa8f2" stroke-width="1.2"/>
<line x1="1115.2" y1="197.7" x2="1120.2" y2="197.7" stroke="#0aa8f2" stroke-width="1.2"/>
<line x1="1178.0" y1="189.8" x2="1178.0" y2="199.8" stroke="#0aa8f2" stroke-width="1.2"/>
<line x1="1175.5" y1="189.8" x2="1180.5" y2="189.8" stroke="#0aa8f2" stroke-width="1.2"/>
<line x1="1175.5" y1="199.8" x2="1180.5" y2="199.8" stroke="#0aa8f2" stroke-width="1.2"/>
<path d="M952.2,191.2 L997.4,181.8 L1057.5,152.2 L1117.8,167.3 L1178.0,149.6" fill="none" stroke="#16e96d" stroke-width="3.6" stroke-linejoin="round"/>
<line x1="952.2" y1="187.2" x2="952.2" y2="195.2" stroke="#16e96d" stroke-width="1.2"/>
<line x1="949.7" y1="187.2" x2="954.7" y2="187.2" stroke="#16e96d" stroke-width="1.2"/>
<line x1="949.7" y1="195.2" x2="954.7" y2="195.2" stroke="#16e96d" stroke-width="1.2"/>
<line x1="997.4" y1="172.8" x2="997.4" y2="190.8" stroke="#16e96d" stroke-width="1.2"/>
<line x1="994.9" y1="172.8" x2="999.9" y2="172.8" stroke="#16e96d" stroke-width="1.2"/>
<line x1="994.9" y1="190.8" x2="999.9" y2="190.8" stroke="#16e96d" stroke-width="1.2"/>
<line x1="1057.5" y1="144.2" x2="1057.5" y2="160.2" stroke="#16e96d" stroke-width="1.2"/>
<line x1="1055.0" y1="144.2" x2="1060.0" y2="144.2" stroke="#16e96d" stroke-width="1.2"/>
<line x1="1055.0" y1="160.2" x2="1060.0" y2="160.2" stroke="#16e96d" stroke-width="1.2"/>
<line x1="1117.8" y1="163.3" x2="1117.8" y2="171.3" stroke="#16e96d" stroke-width="1.2"/>
<line x1="1115.2" y1="163.3" x2="1120.2" y2="163.3" stroke="#16e96d" stroke-width="1.2"/>
<line x1="1115.2" y1="171.3" x2="1120.2" y2="171.3" stroke="#16e96d" stroke-width="1.2"/>
<line x1="1178.0" y1="140.6" x2="1178.0" y2="158.6" stroke="#16e96d" stroke-width="1.2"/>
<line x1="1175.5" y1="140.6" x2="1180.5" y2="140.6" stroke="#16e96d" stroke-width="1.2"/>
<line x1="1175.5" y1="158.6" x2="1180.5" y2="158.6" stroke="#16e96d" stroke-width="1.2"/>
<path d="M952.2,192.2 L997.4,183.4 L1057.5,176.6 L1117.8,180.8 L1178.0,162.1" fill="none" stroke="#f23a0c" stroke-width="2.5" stroke-linejoin="round"/>
<line x1="952.2" y1="189.2" x2="952.2" y2="195.2" stroke="#f23a0c" stroke-width="1.2"/>
<line x1="949.7" y1="189.2" x2="954.7" y2="189.2" stroke="#f23a0c" stroke-width="1.2"/>
<line x1="949.7" y1="195.2" x2="954.7" y2="195.2" stroke="#f23a0c" stroke-width="1.2"/>
<line x1="997.4" y1="177.4" x2="997.4" y2="189.4" stroke="#f23a0c" stroke-width="1.2"/>
<line x1="994.9" y1="177.4" x2="999.9" y2="177.4" stroke="#f23a0c" stroke-width="1.2"/>
<line x1="994.9" y1="189.4" x2="999.9" y2="189.4" stroke="#f23a0c" stroke-width="1.2"/>
<line x1="1057.5" y1="169.6" x2="1057.5" y2="183.6" stroke="#f23a0c" stroke-width="1.2"/>
<line x1="1055.0" y1="169.6" x2="1060.0" y2="169.6" stroke="#f23a0c" stroke-width="1.2"/>
<line x1="1055.0" y1="183.6" x2="1060.0" y2="183.6" stroke="#f23a0c" stroke-width="1.2"/>
<line x1="1117.8" y1="175.8" x2="1117.8" y2="185.8" stroke="#f23a0c" stroke-width="1.2"/>
<line x1="1115.2" y1="175.8" x2="1120.2" y2="175.8" stroke="#f23a0c" stroke-width="1.2"/>
<line x1="1115.2" y1="185.8" x2="1120.2" y2="185.8" stroke="#f23a0c" stroke-width="1.2"/>
<line x1="1178.0" y1="154.1" x2="1178.0" y2="170.1" stroke="#f23a0c" stroke-width="1.2"/>
<line x1="1175.5" y1="154.1" x2="1180.5" y2="154.1" stroke="#f23a0c" stroke-width="1.2"/>
<line x1="1175.5" y1="170.1" x2="1180.5" y2="170.1" stroke="#f23a0c" stroke-width="1.2"/>
<path d="M952.2,188.0 L997.4,164.2 L1057.5,140.2 L1117.8,107.5 L1178.0,101.3" fill="none" stroke="#dd66f0" stroke-width="3.6" stroke-linejoin="round"/>
<line x1="952.2" y1="183.0" x2="952.2" y2="193.0" stroke="#dd66f0" stroke-width="1.2"/>
<line x1="949.7" y1="183.0" x2="954.7" y2="183.0" stroke="#dd66f0" stroke-width="1.2"/>
<line x1="949.7" y1="193.0" x2="954.7" y2="193.0" stroke="#dd66f0" stroke-width="1.2"/>
<line x1="997.4" y1="157.2" x2="997.4" y2="171.2" stroke="#dd66f0" stroke-width="1.2"/>
<line x1="994.9" y1="157.2" x2="999.9" y2="157.2" stroke="#dd66f0" stroke-width="1.2"/>
<line x1="994.9" y1="171.2" x2="999.9" y2="171.2" stroke="#dd66f0" stroke-width="1.2"/>
<line x1="1057.5" y1="133.2" x2="1057.5" y2="147.2" stroke="#dd66f0" stroke-width="1.2"/>
<line x1="1055.0" y1="133.2" x2="1060.0" y2="133.2" stroke="#dd66f0" stroke-width="1.2"/>
<line x1="1055.0" y1="147.2" x2="1060.0" y2="147.2" stroke="#dd66f0" stroke-width="1.2"/>
<line x1="1117.8" y1="96.5" x2="1117.8" y2="118.5" stroke="#dd66f0" stroke-width="1.2"/>
<line x1="1115.2" y1="96.5" x2="1120.2" y2="96.5" stroke="#dd66f0" stroke-width="1.2"/>
<line x1="1115.2" y1="118.5" x2="1120.2" y2="118.5" stroke="#dd66f0" stroke-width="1.2"/>
<line x1="1178.0" y1="90.3" x2="1178.0" y2="112.3" stroke="#dd66f0" stroke-width="1.2"/>
<line x1="1175.5" y1="90.3" x2="1180.5" y2="90.3" stroke="#dd66f0" stroke-width="1.2"/>
<line x1="1175.5" y1="112.3" x2="1180.5" y2="112.3" stroke="#dd66f0" stroke-width="1.2"/>
<text transform="translate(2.0,654.3) scale(1,1.05)" font-size="44.5">d</text>
<text transform="translate(192.2,630.3) scale(1,1.04)" font-size="34" text-anchor="middle">Base</text>
<text transform="translate(385.5,630.3) scale(1,1.04)" font-size="34" text-anchor="middle">Middle</text>
<text transform="translate(574.7,630.3) scale(1,1.04)" font-size="34" text-anchor="middle">Apex</text>
<text transform="translate(50.9,726.0) scale(1,1.08)" font-size="34.6" text-anchor="middle" fill="#08aef4">21WL</text>
<text transform="translate(50.9,923.0) scale(1,1.08)" font-size="34.6" text-anchor="middle" fill="#12e36f">21FR</text>
<text transform="translate(50.9,1119.7) scale(1,1.08)" font-size="34.6" text-anchor="middle" fill="#f23c0e">30WL</text>
<text transform="translate(50.9,1316.5) scale(1,1.08)" font-size="34.6" text-anchor="middle" fill="#e45ff0">30FR</text>
<rect x="110.5" y="645.0" width="543.3" height="724.4" fill="#000"/>
<defs><filter id="sb" x="-5%" y="-5%" width="110%" height="110%"><feGaussianBlur stdDeviation="0.55"/></filter>
<clipPath id="cp00"><rect x="110.5" y="645" width="168.7" height="153.9"/></clipPath>
<clipPath id="cp01"><rect x="288" y="645" width="188.1" height="153.9"/></clipPath>
<clipPath id="cp02"><rect x="484.9" y="645" width="168.9" height="153.9"/></clipPath>
<clipPath id="cp10"><rect x="110.5" y="808" width="168.7" height="197.0"/></clipPath>
<clipPath id="cp11"><rect x="288" y="808" width="188.1" height="197.0"/></clipPath>
<clipPath id="cp12"><rect x="484.9" y="808" width="168.9" height="197.0"/></clipPath>
<clipPath id="cp20"><rect x="110.5" y="1013.6" width="168.7" height="207.7"/></clipPath>
<clipPath id="cp21"><rect x="288" y="1013.6" width="188.1" height="207.7"/></clipPath>
<clipPath id="cp22"><rect x="484.9" y="1013.6" width="168.9" height="207.7"/></clipPath>
<clipPath id="cp30"><rect x="110.5" y="1230" width="168.7" height="139.4"/></clipPath>
<clipPath id="cp31"><rect x="288" y="1230" width="188.1" height="139.4"/></clipPath>
<clipPath id="cp32"><rect x="484.9" y="1230" width="168.9" height="139.4"/></clipPath>
</defs>
<g clip-path="url(#cp00)">
<rect x="110.5" y="645.0" width="168.7" height="153.9" fill="#4e4e4e"/>
<path d="M110.5,660 C140,655 170,652 200,655 C220,657 240,652 274,650 L274,648 L110.5,648 Z" fill="#5a5a5a"/>
<path d="M112,668 C130,668 145,675 150,690" fill="none" stroke="#9a9a9a" stroke-width="2"/>
<clipPath id="hy1"><path d="M138,708 C148,690 172,676 200,670 C230,664 255,657 274.4,651 L274.4,799 L128,799 C126,760 130,725 138,708 Z"/></clipPath>
<g clip-path="url(#hy1)">
<rect x="110.0" y="645.0" width="170.0" height="155.0" fill="#8a8a8a"/>
<g transform="rotate(-12 200 730)">
<rect class="h" x="90" y="630" width="31" height="13" rx="5" fill="#a6a6a6"/>
<rect class="h" x="119" y="630" width="31" height="14" rx="5" fill="#b1b1b1"/>
<rect class="h" x="152" y="630" width="31" height="13" rx="5" fill="#9b9b9b"/>
<rect class="h" x="182" y="630" width="31" height="13" rx="5" fill="#b4b4b4"/>
<rect class="h" x="214" y="630" width="32" height="13" rx="5" fill="#b6b6b6"/>
<rect class="h" x="244" y="630" width="31" height="13" rx="5" fill="#ababab"/>
<rect class="h" x="274" y="630" width="30" height="13" rx="5" fill="#9e9e9e"/>
<rect class="h" x="307" y="630" width="32" height="13" rx="5" fill="#a2a2a2"/>
<rect class="h" x="105" y="644" width="31" height="14" rx="5" fill="#acacac"/>
<rect class="h" x="135" y="644" width="30" height="13" rx="5" fill="#acacac"/>
<rect class="h" x="167" y="644" width="30" height="14" rx="5" fill="#b2b2b2"/>
<rect class="h" x="198" y="644" width="30" height="13" rx="5" fill="#a8a8a8"/>
<rect class="h" x="229" y="644" width="30" height="13" rx="5" fill="#a4a4a4"/>
<rect class="h" x="259" y="644" width="30" height="13" rx="5" fill="#989898"/>
<rect class="h" x="290" y="644" width="32" height="13" rx="5" fill="#b5b5b5"/>
<rect class="h" x="322" y="644" width="30" height="13" rx="5" fill="#a5a5a5"/>
<rect class="h" x="90" y="657" width="30" height="13" rx="5" fill="#a0a0a0"/>
<rect class="h" x="119" y="657" width="31" height="13" rx="5" fill="#a5a5a5"/>
<rect class="h" x="150" y="657" width="32" height="13" rx="5" fill="#9b9b9b"/>
<rect class="h" x="182" y="657" width="29" height="13" rx="5" fill="#adadad"/>
<rect class="h" x="212" y="657" width="31" height="13" rx="5" fill="#afafaf"/>
<rect class="h" x="244" y="657" width="32" height="13" rx="5" fill="#a4a4a4"/>
<rect class="h" x="275" y="657" width="31" height="13" rx="5" fill="#b1b1b1"/>
<rect class="h" x="305" y="657" width="31" height="14" rx="5" fill="#9d9d9d"/>
<rect class="h" x="105" y="670" width="31" height="14" rx="5" fill="#9b9b9b"/>
<rect class="h" x="135" y="670" width="30" height="13" rx="5" fill="#989898"/>
<rect class="h" x="166" y="670" width="32" height="13" rx="5" fill="#9a9a9a"/>
<rect class="h" x="198" y="670" width="30" height="13" rx="5" fill="#989898"/>
<rect class="h" x="228" y="670" width="32" height="13" rx="5" fill="#b6b6b6"/>
<rect class="h" x="259" y="670" width="31" height="14" rx="5" fill="#a4a4a4"/>
<rect class="h" x="291" y="670" width="30" height="13" rx="5" fill="#b2b2b2"/>
<rect class="h" x="321" y="670" width="32" height="13" rx="5" fill="#acacac"/>
<rect class="h" x="90" y="684" width="33" height="13" rx="5" fill="#b4b4b4"/>
<rect class="h" x="119" y="684" width="31" height="13" rx="5" fill="#9b9b9b"/>
<rect class="h" x="150" y="684" width="30" height="14" rx="5" fill="#aeaeae"/>
<rect class="h" x="183" y="684" width="31" height="13" rx="5" fill="#a7a7a7"/>
<rect class="h" x="213" y="684" width="30" height="13" rx="5" fill="#9a9a9a"/>
<rect class="h" x="244" y="684" width="30" height="13" rx="5" fill="#ababab"/>
<rect class="h" x="276" y="684" width="32" height="13" rx="5" fill="#9e9e9e"/>
<rect class="h" x="306" y="684" width="32" height="13" rx="5" fill="#9f9f9f"/>
<rect class="h" x="104" y="698" width="30" height="13" rx="5" fill="#aaaaaa"/>
<rect class="h" x="135" y="698" width="33" height="13" rx="5" fill="#a6a6a6"/>
<rect class="h" x="167" y="698" width="33" height="13" rx="5" fill="#aaaaaa"/>
<rect class="h" x="198" y="698" width="33" height="13" rx="5" fill="#a7a7a7"/>
<rect class="h" x="229" y="698" width="33" height="13" rx="5" fill="#989898"/>
<rect class="h" x="259" y="698" width="31" height="13" rx="5" fill="#a1a1a1"/>
<rect class="h" x="290" y="698" width="31" height="14" rx="5" fill="#a9a9a9"/>
<rect class="h" x="322" y="698" width="31" height="13" rx="5" fill="#afafaf"/>
<rect class="h" x="90" y="711" width="32" height="14" rx="5" fill="#a3a3a3"/>
<rect class="h" x="119" y="711" width="30" height="13" rx="5" fill="#b3b3b3"/>
<rect class="h" x="152" y="711" width="31" height="14" rx="5" fill="#aaaaaa"/>
<rect class="h" x="182" y="711" width="29" height="13" rx="5" fill="#989898"/>
<rect class="h" x="213" y="711" width="32" height="13" rx="5" fill="#a0a0a0"/>
<rect class="h" x="244" y="711" width="32" height="13" rx="5" fill="#afafaf"/>
<rect class="h" x="275" y="711" width="32" height="13" rx="5" fill="#a9a9a9"/>
<rect class="h" x="305" y="711" width="30" height="13" rx="5" fill="#ababab"/>
<rect class="h" x="105" y="724" width="30" height="13" rx="5" fill="#9b9b9b"/>
<rect class="h" x="136" y="724" width="31" height="13" rx="5" fill="#a0a0a0"/>
<rect class="h" x="166" y="724" width="33" height="13" rx="5" fill="#ababab"/>
<rect class="h" x="198" y="724" width="30" height="13" rx="5" fill="#adadad"/>
<rect class="h" x="228" y="724" width="33" height="13" rx="5" fill="#a4a4a4"/>
<rect class="h" x="259" y="724" width="32" height="13" rx="5" fill="#b1b1b1"/>
<rect class="h" x="290" y="724" width="32" height="13" rx="5" fill="#9f9f9f"/>
<rect class="h" x="321" y="724" width="31" height="13" rx="5" fill="#a7a7a7"/>
<rect class="h" x="88" y="738" width="31" height="14" rx="5" fill="#9a9a9a"/>
<rect class="h" x="119" y="738" width="33" height="13" rx="5" fill="#a6a6a6"/>
<rect class="h" x="152" y="738" width="31" height="14" rx="5" fill="#a4a4a4"/>
<rect class="h" x="182" y="738" width="32" height="13" rx="5" fill="#b2b2b2"/>
<rect class="h" x="213" y="738" width="32" height="13" rx="5" fill="#b2b2b2"/>
<rect class="h" x="243" y="738" width="30" height="14" rx="5" fill="#aeaeae"/>
<rect class="h" x="275" y="738" width="30" height="13" rx="5" fill="#aaaaaa"/>
<rect class="h" x="306" y="738" width="30" height="13" rx="5" fill="#989898"/>
<rect class="h" x="105" y="752" width="32" height="13" rx="5" fill="#b1b1b1"/>
<rect class="h" x="135" y="752" width="30" height="13" rx="5" fill="#acacac"/>
<rect class="h" x="166" y="752" width="31" height="13" rx="5" fill="#9a9a9a"/>
<rect class="h" x="197" y="752" width="32" height="13" rx="5" fill="#9d9d9d"/>
<rect class="h" x="229" y="752" width="32" height="13" rx="5" fill="#999999"/>
<rect class="h" x="259" y="752" width="30" height="13" rx="5" fill="#aeaeae"/>
<rect class="h" x="291" y="752" width="33" height="13" rx="5" fill="#9d9d9d"/>
<rect class="h" x="322" y="752" width="31" height="14" rx="5" fill="#9a9a9a"/>
<rect class="h" x="89" y="765" width="31" height="14" rx="5" fill="#a6a6a6"/>
<rect class="h" x="121" y="765" width="31" height="13" rx="5" fill="#a4a4a4"/>
<rect class="h" x="151" y="765" width="31" height="13" rx="5" fill="#b2b2b2"/>
<rect class="h" x="182" y="765" width="33" height="13" rx="5" fill="#9e9e9e"/>
<rect class="h" x="214" y="765" width="30" height="14" rx="5" fill="#b5b5b5"/>
<rect class="h" x="245" y="765" width="32" height="13" rx="5" fill="#9a9a9a"/>
<rect class="h" x="276" y="765" width="33" height="13" rx="5" fill="#a2a2a2"/>
<rect class="h" x="305" y="765" width="30" height="13" rx="5" fill="#a8a8a8"/>
<rect class="h" x="105" y="778" width="30" height="13" rx="5" fill="#b0b0b0"/>
<rect class="h" x="135" y="778" width="30" height="14" rx="5" fill="#b3b3b3"/>
<rect class="h" x="166" y="778" width="30" height="14" rx="5" fill="#a2a2a2"/>
<rect class="h" x="197" y="778" width="32" height="14" rx="5" fill="#a8a8a8"/>
<rect class="h" x="229" y="778" width="33" height="13" rx="5" fill="#a6a6a6"/>
<rect class="h" x="260" y="778" width="33" height="13" rx="5" fill="#9a9a9a"/>
<rect class="h" x="291" y="778" width="32" height="13" rx="5" fill="#b2b2b2"/>
<rect class="h" x="322" y="778" width="32" height="13" rx="5" fill="#b2b2b2"/>
<rect class="h" x="89" y="792" width="33" height="13" rx="5" fill="#b6b6b6"/>
<rect class="h" x="119" y="792" width="32" height="14" rx="5" fill="#b3b3b3"/>
<rect class="h" x="151" y="792" width="30" height="13" rx="5" fill="#a7a7a7"/>
<rect class="h" x="182" y="792" width="30" height="13" rx="5" fill="#ababab"/>
<rect class="h" x="212" y="792" width="31" height="13" rx="5" fill="#b5b5b5"/>
<rect class="h" x="244" y="792" width="31" height="14" rx="5" fill="#a7a7a7"/>
<rect class="h" x="276" y="792" width="30" height="13" rx="5" fill="#a6a6a6"/>
<rect class="h" x="307" y="792" width="31" height="14" rx="5" fill="#a0a0a0"/>
<rect class="h" x="104" y="806" width="30" height="13" rx="5" fill="#b4b4b4"/>
<rect class="h" x="135" y="806" width="32" height="14" rx="5" fill="#a2a2a2"/>
<rect class="h" x="166" y="806" width="30" height="13" rx="5" fill="#a0a0a0"/>
<rect class="h" x="197" y="806" width="30" height="14" rx="5" fill="#9e9e9e"/>
<rect class="h" x="228" y="806" width="30" height="13" rx="5" fill="#afafaf"/>
<rect class="h" x="259" y="806" width="31" height="13" rx="5" fill="#afafaf"/>
<rect class="h" x="291" y="806" width="31" height="14" rx="5" fill="#aeaeae"/>
<rect class="h" x="321" y="806" width="30" height="13" rx="5" fill="#a4a4a4"/>
<rect class="h" x="89" y="819" width="32" height="14" rx="5" fill="#a9a9a9"/>
<rect class="h" x="120" y="819" width="30" height="13" rx="5" fill="#a8a8a8"/>
<rect class="h" x="151" y="819" width="30" height="13" rx="5" fill="#9c9c9c"/>
<rect class="h" x="183" y="819" width="30" height="13" rx="5" fill="#b4b4b4"/>
<rect class="h" x="214" y="819" width="30" height="13" rx="5" fill="#9e9e9e"/>
<rect class="h" x="245" y="819" width="30" height="14" rx="5" fill="#9c9c9c"/>
<rect class="h" x="274" y="819" width="32" height="13" rx="5" fill="#a4a4a4"/>
<rect class="h" x="306" y="819" width="30" height="14" rx="5" fill="#b1b1b1"/>
<rect class="h" x="105" y="832" width="32" height="13" rx="5" fill="#b1b1b1"/>
<rect class="h" x="136" y="832" width="30" height="13" rx="5" fill="#b5b5b5"/>
<rect class="h" x="167" y="832" width="32" height="13" rx="5" fill="#acacac"/>
<rect class="h" x="198" y="832" width="32" height="13" rx="5" fill="#9e9e9e"/>
<rect class="h" x="228" y="832" width="32" height="13" rx="5" fill="#b0b0b0"/>
<rect class="h" x="260" y="832" width="31" height="13" rx="5" fill="#9c9c9c"/>
<rect class="h" x="290" y="832" width="30" height="13" rx="5" fill="#9d9d9d"/>
<rect class="h" x="321" y="832" width="33" height="14" rx="5" fill="#999999"/>
</g>
</g>
<path d="M110.5,700 C120,698 132,700 142,706 C136,730 134,760 140,799 L110.5,799 Z" fill="#c4c4c4" filter="url(#sb)"/>
<path d="M110.5,701 C120,697 130,709 142,707" fill="none" stroke="#f4f4f4" stroke-width="1.3" stroke-opacity="0.85"/>
<path d="M110.5,708 C120,707 130,714 142,719" fill="none" stroke="#f4f4f4" stroke-width="1.5" stroke-opacity="0.85"/>
<path d="M110.5,716 C120,715 130,724 142,722" fill="none" stroke="#f4f4f4" stroke-width="1.5" stroke-opacity="0.85"/>
<path d="M110.5,724 C120,723 130,728 142,734" fill="none" stroke="#f4f4f4" stroke-width="2.5" stroke-opacity="0.85"/>
<path d="M110.5,731 C120,732 130,732 142,748" fill="none" stroke="#f4f4f4" stroke-width="1.7" stroke-opacity="0.85"/>
<path d="M110.5,738 C120,734 130,749 142,757" fill="none" stroke="#f4f4f4" stroke-width="2.5" stroke-opacity="0.85"/>
<path d="M110.5,746 C120,750 130,753 142,754" fill="none" stroke="#f4f4f4" stroke-width="2.0" stroke-opacity="0.85"/>
<path d="M110.5,754 C120,752 130,763 142,763" fill="none" stroke="#f4f4f4" stroke-width="1.4" stroke-opacity="0.85"/>
<path d="M110.5,761 C120,763 130,763 142,780" fill="none" stroke="#f4f4f4" stroke-width="1.4" stroke-opacity="0.85"/>
<path d="M110.5,768 C120,767 130,775 142,779" fill="none" stroke="#f4f4f4" stroke-width="1.8" stroke-opacity="0.85"/>
<path d="M110.5,776 C120,773 130,778 142,784" fill="none" stroke="#f4f4f4" stroke-width="2.3" stroke-opacity="0.85"/>
<path d="M110.5,784 C120,782 130,785 142,802" fill="none" stroke="#f4f4f4" stroke-width="2.6" stroke-opacity="0.85"/>
<path d="M110.5,791 C120,795 130,792 142,800" fill="none" stroke="#f4f4f4" stroke-width="2.5" stroke-opacity="0.85"/>
<path d="M205,799 C215,790 240,786 262,792 L268,799 Z" fill="#3c3c3c"/>
<rect x="274.4" y="645.0" width="4.8" height="153.9" fill="#808080"/>
</g>
<g clip-path="url(#cp01)">
<rect x="288.0" y="645.0" width="188.1" height="153.9" fill="#808080"/>
<rect x="311.3" y="645.0" width="143.9" height="153.9" fill="#4c4c4c"/>
<clipPath id="hy2"><path d="M311.3,650 L455.2,650 L455.2,764.7 C420,766 380,770 345,774 C330,776 318,778 311.3,779 Z"/></clipPath>
<g clip-path="url(#hy2)">
<rect x="311.3" y="645.0" width="144.0" height="140.0" fill="#8a8a8a"/>
<rect class="h" x="285" y="646" width="19" height="12" rx="5" fill="#a1a1a1"/>
<rect class="h" x="306" y="646" width="20" height="12" rx="5" fill="#b0b0b0"/>
<rect class="h" x="324" y="646" width="19" height="12" rx="5" fill="#aeaeae"/>
<rect class="h" x="344" y="646" width="19" height="13" rx="5" fill="#a4a4a4"/>
<rect class="h" x="364" y="646" width="19" height="12" rx="5" fill="#b0b0b0"/>
<rect class="h" x="383" y="646" width="19" height="12" rx="5" fill="#b8b8b8"/>
<rect class="h" x="402" y="646" width="19" height="13" rx="5" fill="#acacac"/>
<rect class="h" x="422" y="646" width="20" height="13" rx="5" fill="#b5b5b5"/>
<rect class="h" x="442" y="646" width="20" height="13" rx="5" fill="#bababa"/>
<rect class="h" x="460" y="646" width="19" height="13" rx="5" fill="#ababab"/>
<rect class="h" x="295" y="659" width="21" height="13" rx="5" fill="#afafaf"/>
<rect class="h" x="315" y="659" width="19" height="13" rx="5" fill="#acacac"/>
<rect class="h" x="334" y="659" width="19" height="12" rx="5" fill="#ababab"/>
<rect class="h" x="353" y="659" width="20" height="13" rx="5" fill="#b2b2b2"/>
<rect class="h" x="374" y="659" width="20" height="12" rx="5" fill="#aeaeae"/>
<rect class="h" x="393" y="659" width="19" height="12" rx="5" fill="#a8a8a8"/>
<rect class="h" x="412" y="659" width="19" height="12" rx="5" fill="#aeaeae"/>
<rect class="h" x="431" y="659" width="21" height="13" rx="5" fill="#b8b8b8"/>
<rect class="h" x="451" y="659" width="19" height="13" rx="5" fill="#b4b4b4"/>
<rect class="h" x="472" y="659" width="19" height="13" rx="5" fill="#b3b3b3"/>
<rect class="h" x="286" y="672" width="20" height="12" rx="5" fill="#a3a3a3"/>
<rect class="h" x="305" y="672" width="20" height="12" rx="5" fill="#aaaaaa"/>
<rect class="h" x="324" y="672" width="19" height="13" rx="5" fill="#a0a0a0"/>
<rect class="h" x="344" y="672" width="19" height="12" rx="5" fill="#aaaaaa"/>
<rect class="h" x="364" y="672" width="20" height="13" rx="5" fill="#a7a7a7"/>
<rect class="h" x="384" y="672" width="20" height="13" rx="5" fill="#bababa"/>
<rect class="h" x="402" y="672" width="19" height="12" rx="5" fill="#acacac"/>
<rect class="h" x="422" y="672" width="20" height="13" rx="5" fill="#a7a7a7"/>
<rect class="h" x="442" y="672" width="19" height="13" rx="5" fill="#b2b2b2"/>
<rect class="h" x="462" y="672" width="20" height="13" rx="5" fill="#a2a2a2"/>
<rect class="h" x="296" y="684" width="21" height="12" rx="5" fill="#a2a2a2"/>
<rect class="h" x="314" y="684" width="20" height="12" rx="5" fill="#a4a4a4"/>
<rect class="h" x="333" y="684" width="19" height="12" rx="5" fill="#a3a3a3"/>
<rect class="h" x="353" y="684" width="20" height="12" rx="5" fill="#b1b1b1"/>
<rect class="h" x="374" y="684" width="19" height="12" rx="5" fill="#ababab"/>
<rect class="h" x="392" y="684" width="20" height="12" rx="5" fill="#b3b3b3"/>
<rect class="h" x="413" y="684" width="19" height="13" rx="5" fill="#aaaaaa"/>
<rect class="h" x="432" y="684" width="20" height="13" rx="5" fill="#a2a2a2"/>
<rect class="h" x="451" y="684" width="19" height="13" rx="5" fill="#a0a0a0"/>
<rect class="h" x="472" y="684" width="19" height="13" rx="5" fill="#a6a6a6"/>
<rect class="h" x="286" y="697" width="19" height="13" rx="5" fill="#a1a1a1"/>
<rect class="h" x="304" y="697" width="19" height="12" rx="5" fill="#b8b8b8"/>
<rect class="h" x="324" y="697" width="19" height="13" rx="5" fill="#aeaeae"/>
<rect class="h" x="344" y="697" width="20" height="13" rx="5" fill="#b4b4b4"/>
<rect class="h" x="364" y="697" width="19" height="12" rx="5" fill="#afafaf"/>
<rect class="h" x="383" y="697" width="19" height="12" rx="5" fill="#b2b2b2"/>
<rect class="h" x="402" y="697" width="19" height="13" rx="5" fill="#b1b1b1"/>
<rect class="h" x="421" y="697" width="20" height="12" rx="5" fill="#b2b2b2"/>
<rect class="h" x="442" y="697" width="19" height="13" rx="5" fill="#b1b1b1"/>
<rect class="h" x="462" y="697" width="20" height="12" rx="5" fill="#a5a5a5"/>
<rect class="h" x="296" y="710" width="20" height="12" rx="5" fill="#b3b3b3"/>
<rect class="h" x="314" y="710" width="20" height="12" rx="5" fill="#a7a7a7"/>
<rect class="h" x="334" y="710" width="19" height="13" rx="5" fill="#b5b5b5"/>
<rect class="h" x="354" y="710" width="19" height="13" rx="5" fill="#adadad"/>
<rect class="h" x="373" y="710" width="19" height="13" rx="5" fill="#9e9e9e"/>
<rect class="h" x="392" y="710" width="20" height="13" rx="5" fill="#9c9c9c"/>
<rect class="h" x="412" y="710" width="19" height="12" rx="5" fill="#a5a5a5"/>
<rect class="h" x="432" y="710" width="21" height="13" rx="5" fill="#9e9e9e"/>
<rect class="h" x="451" y="710" width="20" height="12" rx="5" fill="#a6a6a6"/>
<rect class="h" x="472" y="710" width="19" height="13" rx="5" fill="#9e9e9e"/>
<rect class="h" x="285" y="723" width="19" height="13" rx="5" fill="#b6b6b6"/>
<rect class="h" x="304" y="723" width="20" height="12" rx="5" fill="#b4b4b4"/>
<rect class="h" x="324" y="723" width="20" height="12" rx="5" fill="#a7a7a7"/>
<rect class="h" x="344" y="723" width="19" height="13" rx="5" fill="#ababab"/>
<rect class="h" x="363" y="723" width="20" height="13" rx="5" fill="#afafaf"/>
<rect class="h" x="384" y="723" width="20" height="12" rx="5" fill="#b1b1b1"/>
<rect class="h" x="402" y="723" width="19" height="12" rx="5" fill="#9e9e9e"/>
<rect class="h" x="422" y="723" width="20" height="13" rx="5" fill="#acacac"/>
<rect class="h" x="441" y="723" width="19" height="12" rx="5" fill="#b9b9b9"/>
<rect class="h" x="461" y="723" width="19" height="12" rx="5" fill="#b0b0b0"/>
<rect class="h" x="295" y="736" width="19" height="12" rx="5" fill="#a9a9a9"/>
<rect class="h" x="316" y="736" width="20" height="12" rx="5" fill="#ababab"/>
<rect class="h" x="335" y="736" width="19" height="12" rx="5" fill="#b4b4b4"/>
<rect class="h" x="354" y="736" width="20" height="13" rx="5" fill="#9c9c9c"/>
<rect class="h" x="372" y="736" width="20" height="13" rx="5" fill="#9f9f9f"/>
<rect class="h" x="393" y="736" width="19" height="12" rx="5" fill="#afafaf"/>
<rect class="h" x="412" y="736" width="20" height="13" rx="5" fill="#a1a1a1"/>
<rect class="h" x="433" y="736" width="20" height="12" rx="5" fill="#b9b9b9"/>
<rect class="h" x="452" y="736" width="19" height="13" rx="5" fill="#ababab"/>
<rect class="h" x="471" y="736" width="20" height="12" rx="5" fill="#bababa"/>
<rect class="h" x="286" y="748" width="19" height="13" rx="5" fill="#ababab"/>
<rect class="h" x="304" y="748" width="20" height="12" rx="5" fill="#a0a0a0"/>
<rect class="h" x="325" y="748" width="20" height="12" rx="5" fill="#acacac"/>
<rect class="h" x="343" y="748" width="20" height="13" rx="5" fill="#b9b9b9"/>
<rect class="h" x="363" y="748" width="19" height="12" rx="5" fill="#a7a7a7"/>
<rect class="h" x="383" y="748" width="19" height="12" rx="5" fill="#b7b7b7"/>
<rect class="h" x="402" y="748" width="19" height="12" rx="5" fill="#a4a4a4"/>
<rect class="h" x="421" y="748" width="20" height="13" rx="5" fill="#b3b3b3"/>
<rect class="h" x="442" y="748" width="21" height="12" rx="5" fill="#a0a0a0"/>
<rect class="h" x="460" y="748" width="20" height="12" rx="5" fill="#b9b9b9"/>
<rect class="h" x="294" y="761" width="20" height="13" rx="5" fill="#a4a4a4"/>
<rect class="h" x="316" y="761" width="20" height="13" rx="5" fill="#b2b2b2"/>
<rect class="h" x="334" y="761" width="20" height="13" rx="5" fill="#b7b7b7"/>
<rect class="h" x="353" y="761" width="20" height="12" rx="5" fill="#a2a2a2"/>
<rect class="h" x="374" y="761" width="20" height="12" rx="5" fill="#a2a2a2"/>
<rect class="h" x="393" y="761" width="19" height="12" rx="5" fill="#bababa"/>
<rect class="h" x="412" y="761" width="20" height="12" rx="5" fill="#9e9e9e"/>
<rect class="h" x="432" y="761" width="20" height="13" rx="5" fill="#9e9e9e"/>
<rect class="h" x="450" y="761" width="19" height="13" rx="5" fill="#a8a8a8"/>
<rect class="h" x="471" y="761" width="20" height="13" rx="5" fill="#9f9f9f"/>
<rect class="h" x="285" y="774" width="20" height="12" rx="5" fill="#b2b2b2"/>
<rect class="h" x="304" y="774" width="20" height="12" rx="5" fill="#b4b4b4"/>
<rect class="h" x="325" y="774" width="19" height="13" rx="5" fill="#a2a2a2"/>
<rect class="h" x="344" y="774" width="20" height="12" rx="5" fill="#b9b9b9"/>
<rect class="h" x="363" y="774" width="20" height="12" rx="5" fill="#a8a8a8"/>
<rect class="h" x="382" y="774" width="20" height="12" rx="5" fill="#a8a8a8"/>
<rect class="h" x="403" y="774" width="20" height="12" rx="5" fill="#aeaeae"/>
<rect class="h" x="422" y="774" width="20" height="13" rx="5" fill="#a8a8a8"/>
<rect class="h" x="441" y="774" width="19" height="12" rx="5" fill="#b1b1b1"/>
<rect class="h" x="460" y="774" width="20" height="12" rx="5" fill="#9d9d9d"/>
<rect class="h" x="294" y="787" width="20" height="13" rx="5" fill="#a3a3a3"/>
<rect class="h" x="315" y="787" width="19" height="13" rx="5" fill="#b4b4b4"/>
<rect class="h" x="334" y="787" width="19" height="13" rx="5" fill="#acacac"/>
<rect class="h" x="353" y="787" width="19" height="12" rx="5" fill="#b2b2b2"/>
<rect class="h" x="373" y="787" width="19" height="12" rx="5" fill="#9c9c9c"/>
<rect class="h" x="392" y="787" width="20" height="13" rx="5" fill="#b5b5b5"/>
<rect class="h" x="412" y="787" width="20" height="13" rx="5" fill="#9c9c9c"/>
<rect class="h" x="431" y="787" width="19" height="12" rx="5" fill="#aaaaaa"/>
<rect class="h" x="451" y="787" width="19" height="12" rx="5" fill="#b5b5b5"/>
<rect class="h" x="471" y="787" width="19" height="12" rx="5" fill="#a4a4a4"/>
</g>
<path d="M380,799 C385,790 395,785 405,790 C410,794 420,795 425,799 Z" fill="#9a9a9a" filter="url(#sb)"/>
</g>
<g clip-path="url(#cp02)">
<rect x="484.9" y="645.0" width="168.9" height="153.9" fill="#808080"/>
<rect x="498.3" y="645.0" width="145.2" height="153.9" fill="#4c4c4c"/>
<clipPath id="hy3"><path d="M498.3,648 L643.5,648 L643.5,799 L590,799 C588,785 587,778 585.4,774.7 C560,770 530,766 498.3,764.7 Z"/></clipPath>
<g clip-path="url(#hy3)">
<rect x="498.3" y="645.0" width="146.0" height="155.0" fill="#8a8a8a"/>
<rect class="h" x="473" y="646" width="20" height="13" rx="5" fill="#a7a7a7"/>
<rect class="h" x="492" y="646" width="20" height="12" rx="5" fill="#a2a2a2"/>
<rect class="h" x="512" y="646" width="21" height="12" rx="5" fill="#b6b6b6"/>
<rect class="h" x="530" y="646" width="21" height="13" rx="5" fill="#b1b1b1"/>
<rect class="h" x="550" y="646" width="19" height="12" rx="5" fill="#aeaeae"/>
<rect class="h" x="569" y="646" width="19" height="12" rx="5" fill="#b7b7b7"/>
<rect class="h" x="589" y="646" width="19" height="12" rx="5" fill="#b3b3b3"/>
<rect class="h" x="609" y="646" width="19" height="13" rx="5" fill="#adadad"/>
<rect class="h" x="628" y="646" width="19" height="13" rx="5" fill="#b3b3b3"/>
<rect class="h" x="482" y="659" width="21" height="13" rx="5" fill="#9f9f9f"/>
<rect class="h" x="502" y="659" width="21" height="12" rx="5" fill="#a7a7a7"/>
<rect class="h" x="522" y="659" width="19" height="13" rx="5" fill="#a1a1a1"/>
<rect class="h" x="541" y="659" width="20" height="13" rx="5" fill="#a8a8a8"/>
<rect class="h" x="561" y="659" width="19" height="13" rx="5" fill="#b1b1b1"/>
<rect class="h" x="580" y="659" width="19" height="13" rx="5" fill="#b9b9b9"/>
<rect class="h" x="600" y="659" width="19" height="13" rx="5" fill="#9c9c9c"/>
<rect class="h" x="618" y="659" width="19" height="12" rx="5" fill="#acacac"/>
<rect class="h" x="638" y="659" width="19" height="13" rx="5" fill="#acacac"/>
<rect class="h" x="473" y="672" width="19" height="12" rx="5" fill="#9d9d9d"/>
<rect class="h" x="492" y="672" width="20" height="12" rx="5" fill="#a0a0a0"/>
<rect class="h" x="511" y="672" width="19" height="12" rx="5" fill="#a7a7a7"/>
<rect class="h" x="531" y="672" width="19" height="13" rx="5" fill="#b4b4b4"/>
<rect class="h" x="551" y="672" width="19" height="12" rx="5" fill="#aaaaaa"/>
<rect class="h" x="570" y="672" width="20" height="13" rx="5" fill="#a9a9a9"/>
<rect class="h" x="590" y="672" width="19" height="12" rx="5" fill="#a6a6a6"/>
<rect class="h" x="610" y="672" width="20" height="12" rx="5" fill="#a6a6a6"/>
<rect class="h" x="629" y="672" width="20" height="12" rx="5" fill="#a9a9a9"/>
<rect class="h" x="483" y="684" width="20" height="13" rx="5" fill="#a5a5a5"/>
<rect class="h" x="501" y="684" width="20" height="13" rx="5" fill="#b7b7b7"/>
<rect class="h" x="521" y="684" width="19" height="12" rx="5" fill="#9d9d9d"/>
<rect class="h" x="542" y="684" width="20" height="12" rx="5" fill="#adadad"/>
<rect class="h" x="560" y="684" width="19" height="12" rx="5" fill="#9e9e9e"/>
<rect class="h" x="580" y="684" width="21" height="13" rx="5" fill="#a7a7a7"/>
<rect class="h" x="600" y="684" width="20" height="12" rx="5" fill="#a3a3a3"/>
<rect class="h" x="618" y="684" width="20" height="12" rx="5" fill="#9e9e9e"/>
<rect class="h" x="637" y="684" width="19" height="13" rx="5" fill="#adadad"/>
<rect class="h" x="472" y="697" width="20" height="12" rx="5" fill="#b3b3b3"/>
<rect class="h" x="491" y="697" width="19" height="12" rx="5" fill="#b8b8b8"/>
<rect class="h" x="511" y="697" width="19" height="13" rx="5" fill="#b2b2b2"/>
<rect class="h" x="530" y="697" width="20" height="12" rx="5" fill="#b8b8b8"/>
<rect class="h" x="550" y="697" width="19" height="12" rx="5" fill="#b4b4b4"/>
<rect class="h" x="569" y="697" width="21" height="12" rx="5" fill="#a5a5a5"/>
<rect class="h" x="589" y="697" width="20" height="13" rx="5" fill="#a6a6a6"/>
<rect class="h" x="609" y="697" width="20" height="12" rx="5" fill="#a1a1a1"/>
<rect class="h" x="629" y="697" width="20" height="13" rx="5" fill="#adadad"/>
<rect class="h" x="483" y="710" width="20" height="12" rx="5" fill="#9d9d9d"/>
<rect class="h" x="502" y="710" width="20" height="12" rx="5" fill="#bababa"/>
<rect class="h" x="522" y="710" width="20" height="13" rx="5" fill="#a0a0a0"/>
<rect class="h" x="541" y="710" width="19" height="13" rx="5" fill="#a9a9a9"/>
<rect class="h" x="560" y="710" width="19" height="12" rx="5" fill="#b2b2b2"/>
<rect class="h" x="580" y="710" width="20" height="12" rx="5" fill="#acacac"/>
<rect class="h" x="599" y="710" width="20" height="13" rx="5" fill="#b1b1b1"/>
<rect class="h" x="619" y="710" width="20" height="12" rx="5" fill="#a5a5a5"/>
<rect class="h" x="638" y="710" width="20" height="12" rx="5" fill="#a0a0a0"/>
<rect class="h" x="473" y="723" width="20" height="12" rx="5" fill="#aaaaaa"/>
<rect class="h" x="493" y="723" width="20" height="12" rx="5" fill="#9c9c9c"/>
<rect class="h" x="511" y="723" width="20" height="12" rx="5" fill="#b5b5b5"/>
<rect class="h" x="532" y="723" width="20" height="12" rx="5" fill="#a2a2a2"/>
<rect class="h" x="551" y="723" width="19" height="12" rx="5" fill="#a1a1a1"/>
<rect class="h" x="571" y="723" width="20" height="12" rx="5" fill="#afafaf"/>
<rect class="h" x="589" y="723" width="20" height="13" rx="5" fill="#b9b9b9"/>
<rect class="h" x="608" y="723" width="20" height="12" rx="5" fill="#b4b4b4"/>
<rect class="h" x="629" y="723" width="20" height="12" rx="5" fill="#b5b5b5"/>
<rect class="h" x="483" y="736" width="19" height="12" rx="5" fill="#b0b0b0"/>
<rect class="h" x="503" y="736" width="20" height="13" rx="5" fill="#a1a1a1"/>
<rect class="h" x="520" y="736" width="20" height="13" rx="5" fill="#a9a9a9"/>
<rect class="h" x="541" y="736" width="19" height="12" rx="5" fill="#b5b5b5"/>
<rect class="h" x="560" y="736" width="20" height="13" rx="5" fill="#adadad"/>
<rect class="h" x="580" y="736" width="19" height="13" rx="5" fill="#9d9d9d"/>
<rect class="h" x="598" y="736" width="19" height="13" rx="5" fill="#aaaaaa"/>
<rect class="h" x="618" y="736" width="20" height="12" rx="5" fill="#9c9c9c"/>
<rect class="h" x="638" y="736" width="20" height="13" rx="5" fill="#b3b3b3"/>
<rect class="h" x="472" y="748" width="19" height="13" rx="5" fill="#b9b9b9"/>
<rect class="h" x="492" y="748" width="19" height="13" rx="5" fill="#b3b3b3"/>
<rect class="h" x="511" y="748" width="19" height="12" rx="5" fill="#9d9d9d"/>
<rect class="h" x="531" y="748" width="20" height="13" rx="5" fill="#b4b4b4"/>
<rect class="h" x="550" y="748" width="19" height="13" rx="5" fill="#b6b6b6"/>
<rect class="h" x="569" y="748" width="20" height="12" rx="5" fill="#ababab"/>
<rect class="h" x="590" y="748" width="20" height="13" rx="5" fill="#9d9d9d"/>
<rect class="h" x="609" y="748" width="19" height="12" rx="5" fill="#b2b2b2"/>
<rect class="h" x="628" y="748" width="21" height="12" rx="5" fill="#b4b4b4"/>
<rect class="h" x="483" y="761" width="20" height="12" rx="5" fill="#acacac"/>
<rect class="h" x="501" y="761" width="20" height="12" rx="5" fill="#b8b8b8"/>
<rect class="h" x="521" y="761" width="20" height="12" rx="5" fill="#ababab"/>
<rect class="h" x="540" y="761" width="19" height="12" rx="5" fill="#b2b2b2"/>
<rect class="h" x="560" y="761" width="20" height="13" rx="5" fill="#a4a4a4"/>
<rect class="h" x="580" y="761" width="19" height="13" rx="5" fill="#9e9e9e"/>
<rect class="h" x="599" y="761" width="21" height="12" rx="5" fill="#b9b9b9"/>
<rect class="h" x="619" y="761" width="20" height="12" rx="5" fill="#b0b0b0"/>
<rect class="h" x="638" y="761" width="21" height="13" rx="5" fill="#b9b9b9"/>
<rect class="h" x="473" y="774" width="20" height="13" rx="5" fill="#aaaaaa"/>
<rect class="h" x="491" y="774" width="20" height="13" rx="5" fill="#a8a8a8"/>
<rect class="h" x="511" y="774" width="20" height="12" rx="5" fill="#a1a1a1"/>
<rect class="h" x="531" y="774" width="20" height="13" rx="5" fill="#a8a8a8"/>
<rect class="h" x="550" y="774" width="19" height="12" rx="5" fill="#aaaaaa"/>
<rect class="h" x="569" y="774" width="20" height="13" rx="5" fill="#ababab"/>
<rect class="h" x="589" y="774" width="19" height="12" rx="5" fill="#b2b2b2"/>
<rect class="h" x="609" y="774" width="19" height="13" rx="5" fill="#acacac"/>
<rect class="h" x="628" y="774" width="19" height="12" rx="5" fill="#b9b9b9"/>
<rect class="h" x="481" y="787" width="20" height="12" rx="5" fill="#9d9d9d"/>
<rect class="h" x="501" y="787" width="19" height="13" rx="5" fill="#b4b4b4"/>
<rect class="h" x="520" y="787" width="19" height="13" rx="5" fill="#a6a6a6"/>
<rect class="h" x="541" y="787" width="20" height="12" rx="5" fill="#a8a8a8"/>
<rect class="h" x="560" y="787" width="19" height="13" rx="5" fill="#9d9d9d"/>
<rect class="h" x="580" y="787" width="19" height="13" rx="5" fill="#a2a2a2"/>
<rect class="h" x="598" y="787" width="19" height="13" rx="5" fill="#a5a5a5"/>
<rect class="h" x="619" y="787" width="19" height="12" rx="5" fill="#acacac"/>
<rect class="h" x="639" y="787" width="20" height="12" rx="5" fill="#b1b1b1"/>
<rect class="h" x="473" y="800" width="19" height="13" rx="5" fill="#adadad"/>
<rect class="h" x="492" y="800" width="20" height="12" rx="5" fill="#b7b7b7"/>
<rect class="h" x="511" y="800" width="19" height="12" rx="5" fill="#afafaf"/>
<rect class="h" x="530" y="800" width="19" height="12" rx="5" fill="#b0b0b0"/>
<rect class="h" x="551" y="800" width="20" height="12" rx="5" fill="#b3b3b3"/>
<rect class="h" x="571" y="800" width="19" height="13" rx="5" fill="#a2a2a2"/>
<rect class="h" x="589" y="800" width="20" height="12" rx="5" fill="#b4b4b4"/>
<rect class="h" x="609" y="800" width="20" height="12" rx="5" fill="#9e9e9e"/>
<rect class="h" x="628" y="800" width="20" height="12" rx="5" fill="#ababab"/>
<rect class="h" x="482" y="812" width="19" height="12" rx="5" fill="#a4a4a4"/>
<rect class="h" x="501" y="812" width="19" height="13" rx="5" fill="#b4b4b4"/>
<rect class="h" x="521" y="812" width="19" height="13" rx="5" fill="#9e9e9e"/>
<rect class="h" x="541" y="812" width="20" height="13" rx="5" fill="#ababab"/>
<rect class="h" x="560" y="812" width="20" height="13" rx="5" fill="#b2b2b2"/>
<rect class="h" x="579" y="812" width="20" height="13" rx="5" fill="#b9b9b9"/>
<rect class="h" x="598" y="812" width="19" height="12" rx="5" fill="#ababab"/>
<rect class="h" x="619" y="812" width="20" height="12" rx="5" fill="#b8b8b8"/>
<rect class="h" x="638" y="812" width="19" height="12" rx="5" fill="#b8b8b8"/>
<ellipse cx="606" cy="668" rx="9" ry="16" transform="rotate(-35 606 668)" fill="#bbbbbb" stroke="#f6f6f6" stroke-width="1.6"/>
<ellipse cx="622" cy="660" rx="10" ry="18" transform="rotate(-50 622 660)" fill="#c2c2c2" stroke="#f6f6f6" stroke-width="1.6"/>
<ellipse cx="636" cy="672" rx="9" ry="20" transform="rotate(-60 636 672)" fill="#b9b9b9" stroke="#f6f6f6" stroke-width="1.6"/>
<ellipse cx="604" cy="700" rx="10" ry="17" transform="rotate(-20 604 700)" fill="#b8b8b8" stroke="#f6f6f6" stroke-width="1.6"/>
<ellipse cx="622" cy="698" rx="11" ry="19" transform="rotate(-40 622 698)" fill="#c5c5c5" stroke="#f6f6f6" stroke-width="1.6"/>
<ellipse cx="638" cy="706" rx="8" ry="20" transform="rotate(-55 638 706)" fill="#b5b5b5" stroke="#f6f6f6" stroke-width="1.6"/>
<ellipse cx="602" cy="732" rx="10" ry="16" transform="rotate(-15 602 732)" fill="#c4c4c4" stroke="#f6f6f6" stroke-width="1.6"/>
<ellipse cx="620" cy="735" rx="11" ry="20" transform="rotate(-35 620 735)" fill="#bfbfbf" stroke="#f6f6f6" stroke-width="1.6"/>
<ellipse cx="637" cy="742" rx="8" ry="22" transform="rotate(-50 637 742)" fill="#bcbcbc" stroke="#f6f6f6" stroke-width="1.6"/>
<ellipse cx="606" cy="765" rx="11" ry="16" transform="rotate(-20 606 765)" fill="#c3c3c3" stroke="#f6f6f6" stroke-width="1.6"/>
<ellipse cx="624" cy="772" rx="11" ry="20" transform="rotate(-35 624 772)" fill="#bababa" stroke="#f6f6f6" stroke-width="1.6"/>
<ellipse cx="640" cy="780" rx="8" ry="20" transform="rotate(-45 640 780)" fill="#bbbbbb" stroke="#f6f6f6" stroke-width="1.6"/>
<ellipse cx="610" cy="795" rx="12" ry="12" transform="rotate(0 610 795)" fill="#b0b0b0" stroke="#f6f6f6" stroke-width="1.6"/>
<ellipse cx="630" cy="798" rx="12" ry="12" transform="rotate(0 630 798)" fill="#c2c2c2" stroke="#f6f6f6" stroke-width="1.6"/>
</g>
<rect x="643.5" y="645.0" width="10.3" height="153.9" fill="#808080"/>
</g>
<g clip-path="url(#cp10)">
<rect x="110.5" y="808.0" width="168.7" height="197.0" fill="#7a7a7a"/>
<g transform="rotate(0 195 906)">
<rect x="40" y="817.0" width="309" height="15.2" fill="#767676"/>
<path d="M40,816.0 L102,815.9 L164,817.1 L226,817.3 L287,816.0 L349,816.0" fill="none" stroke="#fff" stroke-opacity="0.74" stroke-width="1.9"/>
<path d="M166,818.0 Q173,824.3 166,831.2" fill="none" stroke="#f0f0f0" stroke-opacity="0.55" stroke-width="1.1"/>
<path d="M247,818.0 Q254,824.3 247,831.2" fill="none" stroke="#f0f0f0" stroke-opacity="0.55" stroke-width="1.1"/>
<rect x="40" y="831.7" width="309" height="15.0" fill="#777777"/>
<path d="M40,831.6 L102,831.6 L164,830.5 L226,831.9 L287,831.1 L349,831.1" fill="none" stroke="#fff" stroke-opacity="0.64" stroke-width="2.0"/>
<path d="M161,832.7 Q168,838.9 161,845.6" fill="none" stroke="#f0f0f0" stroke-opacity="0.55" stroke-width="1.1"/>
<path d="M289,832.7 Q297,838.9 289,845.6" fill="none" stroke="#f0f0f0" stroke-opacity="0.55" stroke-width="1.1"/>
<path d="M340,832.7 Q347,838.9 340,845.6" fill="none" stroke="#f0f0f0" stroke-opacity="0.55" stroke-width="1.1"/>
<rect x="40" y="846.1" width="309" height="16.3" fill="#858585"/>
<path d="M40,845.1 L102,846.9 L164,847.0 L226,846.6 L287,846.8 L349,845.6" fill="none" stroke="#fff" stroke-opacity="0.59" stroke-width="1.4"/>
<path d="M145,847.1 Q153,854.0 145,861.4" fill="none" stroke="#f0f0f0" stroke-opacity="0.55" stroke-width="1.1"/>
<path d="M212,847.1 Q220,854.0 212,861.4" fill="none" stroke="#f0f0f0" stroke-opacity="0.55" stroke-width="1.1"/>
<path d="M294,847.1 Q301,854.0 294,861.4" fill="none" stroke="#f0f0f0" stroke-opacity="0.55" stroke-width="1.1"/>
<rect x="40" y="861.9" width="309" height="11.0" fill="#747474"/>
<path d="M40,861.5 L102,862.4 L164,862.6 L226,861.4 L287,861.7 L349,861.6" fill="none" stroke="#fff" stroke-opacity="0.82" stroke-width="2.0"/>
<path d="M125,862.9 Q130,867.2 125,872.0" fill="none" stroke="#f0f0f0" stroke-opacity="0.55" stroke-width="1.1"/>
<path d="M203,862.9 Q209,867.2 203,872.0" fill="none" stroke="#f0f0f0" stroke-opacity="0.55" stroke-width="1.1"/>
<path d="M310,862.9 Q315,867.2 310,872.0" fill="none" stroke="#f0f0f0" stroke-opacity="0.55" stroke-width="1.1"/>
<rect x="40" y="872.5" width="309" height="15.4" fill="#888888"/>
<path d="M40,873.6 L102,873.2 L164,873.4 L226,872.0 L287,873.3 L349,872.5" fill="none" stroke="#fff" stroke-opacity="0.82" stroke-width="1.4"/>
<path d="M121,873.5 Q129,879.9 121,886.9" fill="none" stroke="#f0f0f0" stroke-opacity="0.55" stroke-width="1.1"/>
<path d="M204,873.5 Q212,879.9 204,886.9" fill="none" stroke="#f0f0f0" stroke-opacity="0.55" stroke-width="1.1"/>
<path d="M293,873.5 Q300,879.9 293,886.9" fill="none" stroke="#f0f0f0" stroke-opacity="0.55" stroke-width="1.1"/>
<rect x="40" y="887.4" width="309" height="12.7" fill="#848484"/>
<path d="M40,887.8 L102,886.8 L164,887.7 L226,887.0 L287,887.8 L349,886.6" fill="none" stroke="#fff" stroke-opacity="0.89" stroke-width="1.6"/>
<path d="M114,888.4 Q120,893.4 114,899.0" fill="none" stroke="#f0f0f0" stroke-opacity="0.55" stroke-width="1.1"/>
<path d="M174,888.4 Q180,893.4 174,899.0" fill="none" stroke="#f0f0f0" stroke-opacity="0.55" stroke-width="1.1"/>
<path d="M303,888.4 Q309,893.4 303,899.0" fill="none" stroke="#f0f0f0" stroke-opacity="0.55" stroke-width="1.1"/>
<rect x="40" y="899.5" width="309" height="10.5" fill="#848484"/>
<path d="M40,899.0 L102,898.7 L164,898.8 L226,899.8 L287,899.0 L349,899.9" fill="none" stroke="#fff" stroke-opacity="0.94" stroke-width="2.0"/>
<path d="M131,900.5 Q136,904.5 131,909.0" fill="none" stroke="#f0f0f0" stroke-opacity="0.55" stroke-width="1.1"/>
<path d="M244,900.5 Q249,904.5 244,909.0" fill="none" stroke="#f0f0f0" stroke-opacity="0.55" stroke-width="1.1"/>
<rect x="40" y="909.5" width="309" height="11.6" fill="#777777"/>
<path d="M40,908.9 L102,909.9 L164,909.3 L226,910.0 L287,908.7 L349,908.7" fill="none" stroke="#fff" stroke-opacity="0.95" stroke-width="2.4"/>
<path d="M66,910.5 Q71,915.1 66,920.2" fill="none" stroke="#f0f0f0" stroke-opacity="0.55" stroke-width="1.1"/>
<path d="M144,910.5 Q150,915.1 144,920.2" fill="none" stroke="#f0f0f0" stroke-opacity="0.55" stroke-width="1.1"/>
<path d="M237,910.5 Q243,915.1 237,920.2" fill="none" stroke="#f0f0f0" stroke-opacity="0.55" stroke-width="1.1"/>
<rect x="40" y="920.7" width="309" height="12.7" fill="#898989"/>
<path d="M40,921.5 L102,921.5 L164,919.9 L226,919.6 L287,920.5 L349,921.6" fill="none" stroke="#fff" stroke-opacity="0.81" stroke-width="1.7"/>
<path d="M134,921.7 Q140,926.8 134,932.4" fill="none" stroke="#f0f0f0" stroke-opacity="0.55" stroke-width="1.1"/>
<path d="M217,921.7 Q223,926.8 217,932.4" fill="none" stroke="#f0f0f0" stroke-opacity="0.55" stroke-width="1.1"/>
<path d="M278,921.7 Q284,926.8 278,932.4" fill="none" stroke="#f0f0f0" stroke-opacity="0.55" stroke-width="1.1"/>
<rect x="40" y="932.9" width="309" height="14.9" fill="#767676"/>
<path d="M40,932.4 L102,933.8 L164,932.8 L226,933.7 L287,933.1 L349,933.9" fill="none" stroke="#fff" stroke-opacity="0.90" stroke-width="1.9"/>
<path d="M60,933.9 Q67,940.1 60,946.8" fill="none" stroke="#f0f0f0" stroke-opacity="0.55" stroke-width="1.1"/>
<path d="M181,933.9 Q188,940.1 181,946.8" fill="none" stroke="#f0f0f0" stroke-opacity="0.55" stroke-width="1.1"/>
<path d="M253,933.9 Q260,940.1 253,946.8" fill="none" stroke="#f0f0f0" stroke-opacity="0.55" stroke-width="1.1"/>
<path d="M348,933.9 Q355,940.1 348,946.8" fill="none" stroke="#f0f0f0" stroke-opacity="0.55" stroke-width="1.1"/>
<rect x="40" y="947.3" width="309" height="12.7" fill="#797979"/>
<path d="M40,946.3 L102,946.6 L164,947.4 L226,947.5 L287,946.5 L349,946.1" fill="none" stroke="#fff" stroke-opacity="0.85" stroke-width="2.2"/>
<path d="M41,948.3 Q47,953.4 41,959.0" fill="none" stroke="#f0f0f0" stroke-opacity="0.55" stroke-width="1.1"/>
<path d="M118,948.3 Q124,953.4 118,959.0" fill="none" stroke="#f0f0f0" stroke-opacity="0.55" stroke-width="1.1"/>
<path d="M179,948.3 Q185,953.4 179,959.0" fill="none" stroke="#f0f0f0" stroke-opacity="0.55" stroke-width="1.1"/>
<path d="M292,948.3 Q298,953.4 292,959.0" fill="none" stroke="#f0f0f0" stroke-opacity="0.55" stroke-width="1.1"/>
<rect x="40" y="959.5" width="309" height="12.8" fill="#707070"/>
<path d="M40,959.2 L102,959.7 L164,959.7 L226,958.8 L287,959.8 L349,960.3" fill="none" stroke="#fff" stroke-opacity="0.65" stroke-width="1.6"/>
<path d="M78,960.5 Q84,965.7 78,971.3" fill="none" stroke="#f0f0f0" stroke-opacity="0.55" stroke-width="1.1"/>
<path d="M148,960.5 Q154,965.7 148,971.3" fill="none" stroke="#f0f0f0" stroke-opacity="0.55" stroke-width="1.1"/>
<path d="M263,960.5 Q269,965.7 263,971.3" fill="none" stroke="#f0f0f0" stroke-opacity="0.55" stroke-width="1.1"/>
</g>
<g transform="rotate(0 195 906)">
<rect x="40" y="959.0" width="309" height="6.3" fill="#8d8d8d"/>
<path d="M40,959.9 L102,960.1 L164,959.1 L226,959.4 L287,958.5 L349,957.9" fill="none" stroke="#fff" stroke-opacity="0.89" stroke-width="1.7"/>
<path d="M115,960.0 Q118,961.9 115,964.3" fill="none" stroke="#f0f0f0" stroke-opacity="0.55" stroke-width="1.1"/>
<path d="M264,960.0 Q267,961.9 264,964.3" fill="none" stroke="#f0f0f0" stroke-opacity="0.55" stroke-width="1.1"/>
<path d="M330,960.0 Q333,961.9 330,964.3" fill="none" stroke="#f0f0f0" stroke-opacity="0.55" stroke-width="1.1"/>
<rect x="40" y="964.8" width="309" height="5.8" fill="#969696"/>
<path d="M40,964.2 L102,965.8 L164,964.8 L226,964.4 L287,964.9 L349,965.2" fill="none" stroke="#fff" stroke-opacity="0.95" stroke-width="2.4"/>
<path d="M190,965.8 Q193,967.5 190,969.6" fill="none" stroke="#f0f0f0" stroke-opacity="0.55" stroke-width="1.1"/>
<path d="M298,965.8 Q301,967.5 298,969.6" fill="none" stroke="#f0f0f0" stroke-opacity="0.55" stroke-width="1.1"/>
<rect x="40" y="970.1" width="309" height="4.7" fill="#afafaf"/>
<path d="M40,970.4 L102,968.9 L164,969.3 L226,969.7 L287,970.7 L349,970.1" fill="none" stroke="#fff" stroke-opacity="0.82" stroke-width="2.6"/>
<path d="M141,971.1 Q143,972.2 141,973.8" fill="none" stroke="#f0f0f0" stroke-opacity="0.55" stroke-width="1.1"/>
<path d="M246,971.1 Q248,972.2 246,973.8" fill="none" stroke="#f0f0f0" stroke-opacity="0.55" stroke-width="1.1"/>
<path d="M337,971.1 Q339,972.2 337,973.8" fill="none" stroke="#f0f0f0" stroke-opacity="0.55" stroke-width="1.1"/>
<rect x="40" y="974.3" width="309" height="5.5" fill="#a3a3a3"/>
<path d="M40,973.8 L102,973.7 L164,973.6 L226,973.3 L287,973.5 L349,973.9" fill="none" stroke="#fff" stroke-opacity="0.80" stroke-width="1.9"/>
<path d="M65,975.3 Q68,976.8 65,978.8" fill="none" stroke="#f0f0f0" stroke-opacity="0.55" stroke-width="1.1"/>
<path d="M163,975.3 Q165,976.8 163,978.8" fill="none" stroke="#f0f0f0" stroke-opacity="0.55" stroke-width="1.1"/>
<path d="M241,975.3 Q243,976.8 241,978.8" fill="none" stroke="#f0f0f0" stroke-opacity="0.55" stroke-width="1.1"/>
<path d="M303,975.3 Q306,976.8 303,978.8" fill="none" stroke="#f0f0f0" stroke-opacity="0.55" stroke-width="1.1"/>
<rect x="40" y="979.3" width="309" height="3.7" fill="#8f8f8f"/>
<path d="M40,980.4 L102,980.1 L164,979.9 L226,978.2 L287,978.5 L349,978.3" fill="none" stroke="#fff" stroke-opacity="0.90" stroke-width="2.2"/>
<path d="M92,980.3 Q94,980.9 92,982.0" fill="none" stroke="#f0f0f0" stroke-opacity="0.55" stroke-width="1.1"/>
<path d="M199,980.3 Q201,980.9 199,982.0" fill="none" stroke="#f0f0f0" stroke-opacity="0.55" stroke-width="1.1"/>
<rect x="40" y="982.5" width="309" height="5.0" fill="#ababab"/>
<path d="M40,983.4 L102,983.2 L164,981.4 L226,982.2 L287,983.5 L349,983.4" fill="none" stroke="#fff" stroke-opacity="0.94" stroke-width="2.1"/>
<path d="M42,983.5 Q44,984.7 42,986.5" fill="none" stroke="#f0f0f0" stroke-opacity="0.55" stroke-width="1.1"/>
<path d="M175,983.5 Q177,984.7 175,986.5" fill="none" stroke="#f0f0f0" stroke-opacity="0.55" stroke-width="1.1"/>
<path d="M301,983.5 Q304,984.7 301,986.5" fill="none" stroke="#f0f0f0" stroke-opacity="0.55" stroke-width="1.1"/>
<rect x="40" y="987.0" width="309" height="3.7" fill="#a4a4a4"/>
<path d="M40,986.6 L102,986.8 L164,987.5 L226,986.8 L287,988.1 L349,988.0" fill="none" stroke="#fff" stroke-opacity="0.78" stroke-width="2.3"/>
<path d="M160,988.0 Q161,988.5 160,989.6" fill="none" stroke="#f0f0f0" stroke-opacity="0.55" stroke-width="1.1"/>
<path d="M263,988.0 Q265,988.5 263,989.6" fill="none" stroke="#f0f0f0" stroke-opacity="0.55" stroke-width="1.1"/>
</g>
<rect x="110.5" y="808.0" width="168.7" height="7.0" fill="#3e3e3e"/>
<rect x="110.5" y="988.0" width="168.7" height="17.0" fill="#3c3c3c"/>
<path d="M236,990 C244,997 239,1000 250,1005" fill="none" stroke="#6a6a6a" stroke-width="2"/>
<path d="M188,990 C196,997 191,1000 202,1005" fill="none" stroke="#6a6a6a" stroke-width="2"/>
<path d="M169,990 C177,997 172,1000 183,1005" fill="none" stroke="#6a6a6a" stroke-width="2"/>
<path d="M193,990 C201,997 196,1000 207,1005" fill="none" stroke="#6a6a6a" stroke-width="2"/>
</g>
<g clip-path="url(#cp11)">
<rect x="288.0" y="808.0" width="188.1" height="197.0" fill="#7a7a7a"/>
<g transform="rotate(0 382 906)">
<rect x="218" y="817.0" width="328" height="9.8" fill="#898989"/>
<path d="M218,817.1 L284,816.9 L349,816.5 L415,815.9 L480,815.9 L546,816.6" fill="none" stroke="#fff" stroke-opacity="0.76" stroke-width="1.8"/>
<path d="M251,818.0 Q256,821.7 251,825.8" fill="none" stroke="#f0f0f0" stroke-opacity="0.55" stroke-width="1.1"/>
<path d="M351,818.0 Q356,821.7 351,825.8" fill="none" stroke="#f0f0f0" stroke-opacity="0.55" stroke-width="1.1"/>
<path d="M416,818.0 Q421,821.7 416,825.8" fill="none" stroke="#f0f0f0" stroke-opacity="0.55" stroke-width="1.1"/>
<path d="M504,818.0 Q508,821.7 504,825.8" fill="none" stroke="#f0f0f0" stroke-opacity="0.55" stroke-width="1.1"/>
<rect x="218" y="826.3" width="328" height="9.9" fill="#8b8b8b"/>
<path d="M218,826.9 L284,827.3 L349,825.4 L415,825.6 L480,827.4 L546,827.0" fill="none" stroke="#fff" stroke-opacity="0.61" stroke-width="1.5"/>
<path d="M232,827.3 Q236,831.1 232,835.3" fill="none" stroke="#f0f0f0" stroke-opacity="0.55" stroke-width="1.1"/>
<path d="M302,827.3 Q306,831.1 302,835.3" fill="none" stroke="#f0f0f0" stroke-opacity="0.55" stroke-width="1.1"/>
<path d="M373,827.3 Q377,831.1 373,835.3" fill="none" stroke="#f0f0f0" stroke-opacity="0.55" stroke-width="1.1"/>
<path d="M437,827.3 Q442,831.1 437,835.3" fill="none" stroke="#f0f0f0" stroke-opacity="0.55" stroke-width="1.1"/>
<path d="M490,827.3 Q495,831.1 490,835.3" fill="none" stroke="#f0f0f0" stroke-opacity="0.55" stroke-width="1.1"/>
<rect x="218" y="835.8" width="328" height="13.6" fill="#797979"/>
<path d="M218,835.1 L284,834.6 L349,835.6 L415,835.7 L480,836.9 L546,835.1" fill="none" stroke="#fff" stroke-opacity="0.59" stroke-width="1.9"/>
<path d="M316,836.8 Q323,842.3 316,848.4" fill="none" stroke="#f0f0f0" stroke-opacity="0.55" stroke-width="1.1"/>
<path d="M437,836.8 Q443,842.3 437,848.4" fill="none" stroke="#f0f0f0" stroke-opacity="0.55" stroke-width="1.1"/>
<path d="M492,836.8 Q499,842.3 492,848.4" fill="none" stroke="#f0f0f0" stroke-opacity="0.55" stroke-width="1.1"/>
<rect x="218" y="848.9" width="328" height="9.9" fill="#888888"/>
<path d="M218,850.0 L284,847.9 L349,850.0 L415,849.6 L480,848.1 L546,848.5" fill="none" stroke="#fff" stroke-opacity="0.92" stroke-width="2.5"/>
<path d="M247,849.9 Q251,853.6 247,857.8" fill="none" stroke="#f0f0f0" stroke-opacity="0.55" stroke-width="1.1"/>
<path d="M320,849.9 Q324,853.6 320,857.8" fill="none" stroke="#f0f0f0" stroke-opacity="0.55" stroke-width="1.1"/>
<path d="M403,849.9 Q408,853.6 403,857.8" fill="none" stroke="#f0f0f0" stroke-opacity="0.55" stroke-width="1.1"/>
<path d="M502,849.9 Q507,853.6 502,857.8" fill="none" stroke="#f0f0f0" stroke-opacity="0.55" stroke-width="1.1"/>
<rect x="218" y="858.3" width="328" height="15.0" fill="#7d7d7d"/>
<path d="M218,858.3 L284,857.4 L349,858.7 L415,858.4 L480,857.9 L546,859.4" fill="none" stroke="#fff" stroke-opacity="0.94" stroke-width="2.1"/>
<path d="M347,859.3 Q354,865.6 347,872.3" fill="none" stroke="#f0f0f0" stroke-opacity="0.55" stroke-width="1.1"/>
<path d="M428,859.3 Q435,865.6 428,872.3" fill="none" stroke="#f0f0f0" stroke-opacity="0.55" stroke-width="1.1"/>
<path d="M543,859.3 Q550,865.6 543,872.3" fill="none" stroke="#f0f0f0" stroke-opacity="0.55" stroke-width="1.1"/>
<rect x="218" y="872.8" width="328" height="16.3" fill="#8a8a8a"/>
<path d="M218,873.2 L284,872.1 L349,872.1 L415,873.4 L480,872.0 L546,873.0" fill="none" stroke="#fff" stroke-opacity="0.57" stroke-width="1.7"/>
<path d="M252,873.8 Q259,880.7 252,888.1" fill="none" stroke="#f0f0f0" stroke-opacity="0.55" stroke-width="1.1"/>
<path d="M329,873.8 Q337,880.7 329,888.1" fill="none" stroke="#f0f0f0" stroke-opacity="0.55" stroke-width="1.1"/>
<path d="M429,873.8 Q437,880.7 429,888.1" fill="none" stroke="#f0f0f0" stroke-opacity="0.55" stroke-width="1.1"/>
<path d="M504,873.8 Q511,880.7 504,888.1" fill="none" stroke="#f0f0f0" stroke-opacity="0.55" stroke-width="1.1"/>
<rect x="218" y="888.6" width="328" height="10.1" fill="#757575"/>
<path d="M218,889.1 L284,889.5 L349,889.2 L415,887.8 L480,887.5 L546,888.0" fill="none" stroke="#fff" stroke-opacity="0.70" stroke-width="2.1"/>
<path d="M254,889.6 Q259,893.3 254,897.6" fill="none" stroke="#f0f0f0" stroke-opacity="0.55" stroke-width="1.1"/>
<path d="M315,889.6 Q320,893.3 315,897.6" fill="none" stroke="#f0f0f0" stroke-opacity="0.55" stroke-width="1.1"/>
<path d="M375,889.6 Q380,893.3 375,897.6" fill="none" stroke="#f0f0f0" stroke-opacity="0.55" stroke-width="1.1"/>
<path d="M432,889.6 Q437,893.3 432,897.6" fill="none" stroke="#f0f0f0" stroke-opacity="0.55" stroke-width="1.1"/>
<path d="M524,889.6 Q528,893.3 524,897.6" fill="none" stroke="#f0f0f0" stroke-opacity="0.55" stroke-width="1.1"/>
<rect x="218" y="898.1" width="328" height="13.4" fill="#737373"/>
<path d="M218,897.2 L284,899.0 L349,899.2 L415,897.1 L480,898.5 L546,897.5" fill="none" stroke="#fff" stroke-opacity="0.74" stroke-width="1.6"/>
<path d="M272,899.1 Q278,904.6 272,910.6" fill="none" stroke="#f0f0f0" stroke-opacity="0.55" stroke-width="1.1"/>
<path d="M339,899.1 Q346,904.6 339,910.6" fill="none" stroke="#f0f0f0" stroke-opacity="0.55" stroke-width="1.1"/>
<path d="M441,899.1 Q447,904.6 441,910.6" fill="none" stroke="#f0f0f0" stroke-opacity="0.55" stroke-width="1.1"/>
<path d="M520,899.1 Q526,904.6 520,910.6" fill="none" stroke="#f0f0f0" stroke-opacity="0.55" stroke-width="1.1"/>
<rect x="218" y="911.1" width="328" height="14.2" fill="#828282"/>
<path d="M218,910.5 L284,911.4 L349,909.9 L415,911.3 L480,909.9 L546,910.8" fill="none" stroke="#fff" stroke-opacity="0.79" stroke-width="2.4"/>
<path d="M268,912.1 Q275,917.9 268,924.2" fill="none" stroke="#f0f0f0" stroke-opacity="0.55" stroke-width="1.1"/>
<path d="M341,912.1 Q348,917.9 341,924.2" fill="none" stroke="#f0f0f0" stroke-opacity="0.55" stroke-width="1.1"/>
<path d="M399,912.1 Q406,917.9 399,924.2" fill="none" stroke="#f0f0f0" stroke-opacity="0.55" stroke-width="1.1"/>
<path d="M519,912.1 Q526,917.9 519,924.2" fill="none" stroke="#f0f0f0" stroke-opacity="0.55" stroke-width="1.1"/>
<rect x="218" y="924.7" width="328" height="10.3" fill="#828282"/>
<path d="M218,924.6 L284,924.0 L349,925.4 L415,923.6 L480,923.6 L546,924.9" fill="none" stroke="#fff" stroke-opacity="0.83" stroke-width="2.6"/>
<path d="M324,925.7 Q329,929.6 324,934.1" fill="none" stroke="#f0f0f0" stroke-opacity="0.55" stroke-width="1.1"/>
<path d="M444,925.7 Q449,929.6 444,934.1" fill="none" stroke="#f0f0f0" stroke-opacity="0.55" stroke-width="1.1"/>
<rect x="218" y="934.6" width="328" height="10.7" fill="#727272"/>
<path d="M218,933.8 L284,934.6 L349,934.5 L415,934.9 L480,933.5 L546,933.9" fill="none" stroke="#fff" stroke-opacity="0.56" stroke-width="2.3"/>
<path d="M274,935.6 Q279,939.7 274,944.3" fill="none" stroke="#f0f0f0" stroke-opacity="0.55" stroke-width="1.1"/>
<path d="M343,935.6 Q348,939.7 343,944.3" fill="none" stroke="#f0f0f0" stroke-opacity="0.55" stroke-width="1.1"/>
<path d="M436,935.6 Q441,939.7 436,944.3" fill="none" stroke="#f0f0f0" stroke-opacity="0.55" stroke-width="1.1"/>
<path d="M495,935.6 Q500,939.7 495,944.3" fill="none" stroke="#f0f0f0" stroke-opacity="0.55" stroke-width="1.1"/>
<rect x="218" y="944.8" width="328" height="17.5" fill="#828282"/>
<path d="M218,945.5 L284,945.8 L349,944.9 L415,945.0 L480,944.8 L546,945.6" fill="none" stroke="#fff" stroke-opacity="0.76" stroke-width="1.5"/>
<path d="M321,945.8 Q330,953.3 321,961.3" fill="none" stroke="#f0f0f0" stroke-opacity="0.55" stroke-width="1.1"/>
<path d="M372,945.8 Q380,953.3 372,961.3" fill="none" stroke="#f0f0f0" stroke-opacity="0.55" stroke-width="1.1"/>
<path d="M498,945.8 Q507,953.3 498,961.3" fill="none" stroke="#f0f0f0" stroke-opacity="0.55" stroke-width="1.1"/>
</g>
<g transform="rotate(0 382 906)">
<rect x="218" y="959.0" width="328" height="5.9" fill="#b0b0b0"/>
<path d="M218,959.4 L284,960.1 L349,958.9 L415,959.9 L480,958.8 L546,958.2" fill="none" stroke="#fff" stroke-opacity="0.84" stroke-width="2.0"/>
<path d="M351,960.0 Q354,961.7 351,963.9" fill="none" stroke="#f0f0f0" stroke-opacity="0.55" stroke-width="1.1"/>
<path d="M499,960.0 Q502,961.7 499,963.9" fill="none" stroke="#f0f0f0" stroke-opacity="0.55" stroke-width="1.1"/>
<rect x="218" y="964.4" width="328" height="4.7" fill="#a2a2a2"/>
<path d="M218,965.5 L284,965.0 L349,963.4 L415,965.6 L480,964.5 L546,963.3" fill="none" stroke="#fff" stroke-opacity="0.81" stroke-width="2.3"/>
<path d="M300,965.4 Q302,966.5 300,968.1" fill="none" stroke="#f0f0f0" stroke-opacity="0.55" stroke-width="1.1"/>
<path d="M390,965.4 Q393,966.5 390,968.1" fill="none" stroke="#f0f0f0" stroke-opacity="0.55" stroke-width="1.1"/>
<path d="M486,965.4 Q488,966.5 486,968.1" fill="none" stroke="#f0f0f0" stroke-opacity="0.55" stroke-width="1.1"/>
<rect x="218" y="968.6" width="328" height="5.3" fill="#9e9e9e"/>
<path d="M218,969.8 L284,968.8 L349,967.8 L415,967.6 L480,967.7 L546,969.6" fill="none" stroke="#fff" stroke-opacity="0.95" stroke-width="2.1"/>
<path d="M241,969.6 Q243,971.0 241,972.9" fill="none" stroke="#f0f0f0" stroke-opacity="0.55" stroke-width="1.1"/>
<path d="M357,969.6 Q360,971.0 357,972.9" fill="none" stroke="#f0f0f0" stroke-opacity="0.55" stroke-width="1.1"/>
<path d="M435,969.6 Q437,971.0 435,972.9" fill="none" stroke="#f0f0f0" stroke-opacity="0.55" stroke-width="1.1"/>
<rect x="218" y="973.4" width="328" height="6.4" fill="#a8a8a8"/>
<path d="M218,972.5 L284,974.1 L349,972.7 L415,974.1 L480,972.4 L546,973.9" fill="none" stroke="#fff" stroke-opacity="0.84" stroke-width="1.9"/>
<path d="M317,974.4 Q320,976.3 317,978.8" fill="none" stroke="#f0f0f0" stroke-opacity="0.55" stroke-width="1.1"/>
<path d="M417,974.4 Q420,976.3 417,978.8" fill="none" stroke="#f0f0f0" stroke-opacity="0.55" stroke-width="1.1"/>
<path d="M527,974.4 Q530,976.3 527,978.8" fill="none" stroke="#f0f0f0" stroke-opacity="0.55" stroke-width="1.1"/>
<rect x="218" y="979.3" width="328" height="5.1" fill="#aaaaaa"/>
<path d="M218,979.9 L284,979.0 L349,978.8 L415,978.6 L480,979.3 L546,979.6" fill="none" stroke="#fff" stroke-opacity="0.85" stroke-width="2.5"/>
<path d="M251,980.3 Q253,981.6 251,983.4" fill="none" stroke="#f0f0f0" stroke-opacity="0.55" stroke-width="1.1"/>
<path d="M410,980.3 Q412,981.6 410,983.4" fill="none" stroke="#f0f0f0" stroke-opacity="0.55" stroke-width="1.1"/>
<path d="M526,980.3 Q528,981.6 526,983.4" fill="none" stroke="#f0f0f0" stroke-opacity="0.55" stroke-width="1.1"/>
<rect x="218" y="983.9" width="328" height="6.4" fill="#b1b1b1"/>
<path d="M218,982.9 L284,984.2 L349,983.3 L415,984.1 L480,983.2 L546,982.9" fill="none" stroke="#fff" stroke-opacity="0.95" stroke-width="2.0"/>
<path d="M322,984.9 Q325,986.9 322,989.3" fill="none" stroke="#f0f0f0" stroke-opacity="0.55" stroke-width="1.1"/>
<path d="M415,984.9 Q418,986.9 415,989.3" fill="none" stroke="#f0f0f0" stroke-opacity="0.55" stroke-width="1.1"/>
<path d="M487,984.9 Q490,986.9 487,989.3" fill="none" stroke="#f0f0f0" stroke-opacity="0.55" stroke-width="1.1"/>
</g>
<rect x="288.0" y="808.0" width="188.1" height="7.0" fill="#3e3e3e"/>
<rect x="288.0" y="988.0" width="188.1" height="17.0" fill="#3c3c3c"/>
<path d="M380,990 C388,997 383,1000 394,1005" fill="none" stroke="#6a6a6a" stroke-width="2"/>
<path d="M320,990 C328,997 323,1000 334,1005" fill="none" stroke="#6a6a6a" stroke-width="2"/>
<path d="M355,990 C363,997 358,1000 369,1005" fill="none" stroke="#6a6a6a" stroke-width="2"/>
<path d="M346,990 C354,997 349,1000 360,1005" fill="none" stroke="#6a6a6a" stroke-width="2"/>
</g>
<g clip-path="url(#cp12)">
<rect x="484.9" y="808.0" width="168.9" height="197.0" fill="#7a7a7a"/>
<g transform="rotate(0 569 906)">
<rect x="415" y="817.0" width="309" height="16.0" fill="#828282"/>
<path d="M415,817.5 L477,815.9 L538,816.7 L600,818.1 L662,817.0 L724,817.1" fill="none" stroke="#fff" stroke-opacity="0.84" stroke-width="1.8"/>
<path d="M492,818.0 Q500,824.8 492,832.0" fill="none" stroke="#f0f0f0" stroke-opacity="0.55" stroke-width="1.1"/>
<path d="M550,818.0 Q558,824.8 550,832.0" fill="none" stroke="#f0f0f0" stroke-opacity="0.55" stroke-width="1.1"/>
<path d="M655,818.0 Q663,824.8 655,832.0" fill="none" stroke="#f0f0f0" stroke-opacity="0.55" stroke-width="1.1"/>
<rect x="415" y="832.5" width="309" height="11.5" fill="#8a8a8a"/>
<path d="M415,833.0 L477,833.4 L538,831.9 L600,833.2 L662,831.5 L724,831.8" fill="none" stroke="#fff" stroke-opacity="0.60" stroke-width="2.3"/>
<path d="M460,833.5 Q465,838.0 460,843.0" fill="none" stroke="#f0f0f0" stroke-opacity="0.55" stroke-width="1.1"/>
<path d="M578,833.5 Q584,838.0 578,843.0" fill="none" stroke="#f0f0f0" stroke-opacity="0.55" stroke-width="1.1"/>
<path d="M645,833.5 Q651,838.0 645,843.0" fill="none" stroke="#f0f0f0" stroke-opacity="0.55" stroke-width="1.1"/>
<rect x="415" y="843.5" width="309" height="16.0" fill="#8a8a8a"/>
<path d="M415,843.9 L477,843.2 L538,842.5 L600,843.7 L662,842.6 L724,843.3" fill="none" stroke="#fff" stroke-opacity="0.64" stroke-width="1.7"/>
<path d="M419,844.5 Q427,851.3 419,858.5" fill="none" stroke="#f0f0f0" stroke-opacity="0.55" stroke-width="1.1"/>
<path d="M481,844.5 Q489,851.3 481,858.5" fill="none" stroke="#f0f0f0" stroke-opacity="0.55" stroke-width="1.1"/>
<path d="M544,844.5 Q551,851.3 544,858.5" fill="none" stroke="#f0f0f0" stroke-opacity="0.55" stroke-width="1.1"/>
<path d="M616,844.5 Q624,851.3 616,858.5" fill="none" stroke="#f0f0f0" stroke-opacity="0.55" stroke-width="1.1"/>
<path d="M689,844.5 Q697,851.3 689,858.5" fill="none" stroke="#f0f0f0" stroke-opacity="0.55" stroke-width="1.1"/>
<rect x="415" y="859.0" width="309" height="13.4" fill="#7b7b7b"/>
<path d="M415,858.0 L477,858.1 L538,858.6 L600,859.5 L662,859.3 L724,859.4" fill="none" stroke="#fff" stroke-opacity="0.63" stroke-width="2.1"/>
<path d="M522,860.0 Q528,865.4 522,871.4" fill="none" stroke="#f0f0f0" stroke-opacity="0.55" stroke-width="1.1"/>
<path d="M610,860.0 Q617,865.4 610,871.4" fill="none" stroke="#f0f0f0" stroke-opacity="0.55" stroke-width="1.1"/>
<path d="M687,860.0 Q694,865.4 687,871.4" fill="none" stroke="#f0f0f0" stroke-opacity="0.55" stroke-width="1.1"/>
<rect x="415" y="871.9" width="309" height="16.8" fill="#868686"/>
<path d="M415,871.1 L477,870.9 L538,872.3 L600,871.0 L662,872.5 L724,872.3" fill="none" stroke="#fff" stroke-opacity="0.87" stroke-width="1.9"/>
<path d="M532,872.9 Q540,880.1 532,887.7" fill="none" stroke="#f0f0f0" stroke-opacity="0.55" stroke-width="1.1"/>
<path d="M640,872.9 Q648,880.1 640,887.7" fill="none" stroke="#f0f0f0" stroke-opacity="0.55" stroke-width="1.1"/>
<rect x="415" y="888.2" width="309" height="17.2" fill="#797979"/>
<path d="M415,889.0 L477,888.7 L538,888.7 L600,888.0 L662,888.7 L724,888.6" fill="none" stroke="#fff" stroke-opacity="0.60" stroke-width="2.4"/>
<path d="M428,889.2 Q436,896.5 428,904.4" fill="none" stroke="#f0f0f0" stroke-opacity="0.55" stroke-width="1.1"/>
<path d="M503,889.2 Q512,896.5 503,904.4" fill="none" stroke="#f0f0f0" stroke-opacity="0.55" stroke-width="1.1"/>
<path d="M565,889.2 Q573,896.5 565,904.4" fill="none" stroke="#f0f0f0" stroke-opacity="0.55" stroke-width="1.1"/>
<path d="M690,889.2 Q699,896.5 690,904.4" fill="none" stroke="#f0f0f0" stroke-opacity="0.55" stroke-width="1.1"/>
<rect x="415" y="904.9" width="309" height="11.7" fill="#7b7b7b"/>
<path d="M415,905.8 L477,905.9 L538,904.1 L600,905.4 L662,904.9 L724,904.7" fill="none" stroke="#fff" stroke-opacity="0.87" stroke-width="2.0"/>
<path d="M478,905.9 Q483,910.5 478,915.6" fill="none" stroke="#f0f0f0" stroke-opacity="0.55" stroke-width="1.1"/>
<path d="M571,905.9 Q577,910.5 571,915.6" fill="none" stroke="#f0f0f0" stroke-opacity="0.55" stroke-width="1.1"/>
<path d="M690,905.9 Q695,910.5 690,915.6" fill="none" stroke="#f0f0f0" stroke-opacity="0.55" stroke-width="1.1"/>
<rect x="415" y="916.1" width="309" height="12.1" fill="#707070"/>
<path d="M415,916.8 L477,916.4 L538,915.8 L600,916.8 L662,916.5 L724,915.9" fill="none" stroke="#fff" stroke-opacity="0.79" stroke-width="2.0"/>
<path d="M515,917.1 Q521,921.9 515,927.1" fill="none" stroke="#f0f0f0" stroke-opacity="0.55" stroke-width="1.1"/>
<path d="M577,917.1 Q583,921.9 577,927.1" fill="none" stroke="#f0f0f0" stroke-opacity="0.55" stroke-width="1.1"/>
<path d="M683,917.1 Q689,921.9 683,927.1" fill="none" stroke="#f0f0f0" stroke-opacity="0.55" stroke-width="1.1"/>
<rect x="415" y="927.6" width="309" height="10.2" fill="#7d7d7d"/>
<path d="M415,928.0 L477,927.3 L538,927.4 L600,926.6 L662,928.7 L724,928.4" fill="none" stroke="#fff" stroke-opacity="0.65" stroke-width="1.7"/>
<path d="M443,928.6 Q447,932.5 443,936.9" fill="none" stroke="#f0f0f0" stroke-opacity="0.55" stroke-width="1.1"/>
<path d="M565,928.6 Q570,932.5 565,936.9" fill="none" stroke="#f0f0f0" stroke-opacity="0.55" stroke-width="1.1"/>
<path d="M621,928.6 Q625,932.5 621,936.9" fill="none" stroke="#f0f0f0" stroke-opacity="0.55" stroke-width="1.1"/>
<path d="M685,928.6 Q690,932.5 685,936.9" fill="none" stroke="#f0f0f0" stroke-opacity="0.55" stroke-width="1.1"/>
<rect x="415" y="937.4" width="309" height="13.7" fill="#7a7a7a"/>
<path d="M415,936.5 L477,936.6 L538,937.7 L600,937.8 L662,937.4 L724,936.5" fill="none" stroke="#fff" stroke-opacity="0.95" stroke-width="1.8"/>
<path d="M436,938.4 Q442,944.0 436,950.1" fill="none" stroke="#f0f0f0" stroke-opacity="0.55" stroke-width="1.1"/>
<path d="M525,938.4 Q531,944.0 525,950.1" fill="none" stroke="#f0f0f0" stroke-opacity="0.55" stroke-width="1.1"/>
<path d="M614,938.4 Q621,944.0 614,950.1" fill="none" stroke="#f0f0f0" stroke-opacity="0.55" stroke-width="1.1"/>
<path d="M700,938.4 Q706,944.0 700,950.1" fill="none" stroke="#f0f0f0" stroke-opacity="0.55" stroke-width="1.1"/>
<rect x="415" y="950.6" width="309" height="12.4" fill="#787878"/>
<path d="M415,950.0 L477,949.8 L538,951.8 L600,951.5 L662,951.2 L724,950.2" fill="none" stroke="#fff" stroke-opacity="0.62" stroke-width="1.6"/>
<path d="M437,951.6 Q443,956.5 437,962.0" fill="none" stroke="#f0f0f0" stroke-opacity="0.55" stroke-width="1.1"/>
<path d="M566,951.6 Q572,956.5 566,962.0" fill="none" stroke="#f0f0f0" stroke-opacity="0.55" stroke-width="1.1"/>
<path d="M646,951.6 Q652,956.5 646,962.0" fill="none" stroke="#f0f0f0" stroke-opacity="0.55" stroke-width="1.1"/>
<path d="M722,951.6 Q728,956.5 722,962.0" fill="none" stroke="#f0f0f0" stroke-opacity="0.55" stroke-width="1.1"/>
</g>
<g transform="rotate(0 569 906)">
<rect x="415" y="959.0" width="309" height="5.9" fill="#acacac"/>
<path d="M415,959.3 L477,959.8 L538,960.2 L600,958.1 L662,958.7 L724,958.2" fill="none" stroke="#fff" stroke-opacity="0.97" stroke-width="2.3"/>
<path d="M461,960.0 Q463,961.7 461,963.9" fill="none" stroke="#f0f0f0" stroke-opacity="0.55" stroke-width="1.1"/>
<path d="M577,960.0 Q579,961.7 577,963.9" fill="none" stroke="#f0f0f0" stroke-opacity="0.55" stroke-width="1.1"/>
<path d="M663,960.0 Q666,961.7 663,963.9" fill="none" stroke="#f0f0f0" stroke-opacity="0.55" stroke-width="1.1"/>
<rect x="415" y="964.4" width="309" height="3.6" fill="#ababab"/>
<path d="M415,965.4 L477,963.5 L538,964.1 L600,965.1 L662,964.5 L724,963.5" fill="none" stroke="#fff" stroke-opacity="0.77" stroke-width="2.4"/>
<path d="M441,965.4 Q442,965.9 441,966.9" fill="none" stroke="#f0f0f0" stroke-opacity="0.55" stroke-width="1.1"/>
<path d="M576,965.4 Q578,965.9 576,966.9" fill="none" stroke="#f0f0f0" stroke-opacity="0.55" stroke-width="1.1"/>
<path d="M706,965.4 Q708,965.9 706,966.9" fill="none" stroke="#f0f0f0" stroke-opacity="0.55" stroke-width="1.1"/>
<rect x="415" y="967.4" width="309" height="5.4" fill="#989898"/>
<path d="M415,967.3 L477,968.1 L538,967.8 L600,967.6 L662,967.4 L724,967.9" fill="none" stroke="#fff" stroke-opacity="0.84" stroke-width="1.8"/>
<path d="M517,968.4 Q520,969.9 517,971.9" fill="none" stroke="#f0f0f0" stroke-opacity="0.55" stroke-width="1.1"/>
<path d="M604,968.4 Q607,969.9 604,971.9" fill="none" stroke="#f0f0f0" stroke-opacity="0.55" stroke-width="1.1"/>
<rect x="415" y="972.4" width="309" height="6.2" fill="#8f8f8f"/>
<path d="M415,972.5 L477,972.5 L538,973.4 L600,972.9 L662,971.9 L724,971.2" fill="none" stroke="#fff" stroke-opacity="0.98" stroke-width="2.6"/>
<path d="M446,973.4 Q449,975.2 446,977.5" fill="none" stroke="#f0f0f0" stroke-opacity="0.55" stroke-width="1.1"/>
<path d="M543,973.4 Q546,975.2 543,977.5" fill="none" stroke="#f0f0f0" stroke-opacity="0.55" stroke-width="1.1"/>
<path d="M638,973.4 Q641,975.2 638,977.5" fill="none" stroke="#f0f0f0" stroke-opacity="0.55" stroke-width="1.1"/>
<path d="M712,973.4 Q715,975.2 712,977.5" fill="none" stroke="#f0f0f0" stroke-opacity="0.55" stroke-width="1.1"/>
<rect x="415" y="978.0" width="309" height="5.5" fill="#919191"/>
<path d="M415,977.8 L477,977.2 L538,979.0 L600,979.2 L662,979.2 L724,979.0" fill="none" stroke="#fff" stroke-opacity="0.89" stroke-width="2.0"/>
<path d="M524,979.0 Q526,980.5 524,982.5" fill="none" stroke="#f0f0f0" stroke-opacity="0.55" stroke-width="1.1"/>
<path d="M592,979.0 Q595,980.5 592,982.5" fill="none" stroke="#f0f0f0" stroke-opacity="0.55" stroke-width="1.1"/>
<path d="M722,979.0 Q724,980.5 722,982.5" fill="none" stroke="#f0f0f0" stroke-opacity="0.55" stroke-width="1.1"/>
<rect x="415" y="983.0" width="309" height="6.3" fill="#afafaf"/>
<path d="M415,982.1 L477,982.2 L538,982.3 L600,983.5 L662,981.9 L724,984.1" fill="none" stroke="#fff" stroke-opacity="0.97" stroke-width="1.7"/>
<path d="M559,984.0 Q562,985.9 559,988.3" fill="none" stroke="#f0f0f0" stroke-opacity="0.55" stroke-width="1.1"/>
<path d="M644,984.0 Q647,985.9 644,988.3" fill="none" stroke="#f0f0f0" stroke-opacity="0.55" stroke-width="1.1"/>
</g>
<rect x="484.9" y="808.0" width="168.9" height="7.0" fill="#3e3e3e"/>
<rect x="484.9" y="988.0" width="168.9" height="17.0" fill="#3c3c3c"/>
<path d="M529,990 C537,997 532,1000 543,1005" fill="none" stroke="#6a6a6a" stroke-width="2"/>
<path d="M512,990 C520,997 515,1000 526,1005" fill="none" stroke="#6a6a6a" stroke-width="2"/>
<path d="M568,990 C576,997 571,1000 582,1005" fill="none" stroke="#6a6a6a" stroke-width="2"/>
<path d="M615,990 C623,997 618,1000 629,1005" fill="none" stroke="#6a6a6a" stroke-width="2"/>
</g>
<g clip-path="url(#cp20)">
<rect x="110.5" y="1013.6" width="168.7" height="207.7" fill="#6e6e6e"/>
<g transform="rotate(16 195 1117)">
<rect x="40" y="953.6" width="309" height="10.3" fill="#7c7c7c"/>
<path d="M40,954.3 L102,953.9 L164,954.3 L226,954.8 L287,953.8 L349,954.6" fill="none" stroke="#fff" stroke-opacity="0.61" stroke-width="1.1"/>
<path d="M125,954.6 Q130,958.5 125,962.9" fill="none" stroke="#f0f0f0" stroke-opacity="0.55" stroke-width="1.1"/>
<path d="M180,954.6 Q185,958.5 180,962.9" fill="none" stroke="#f0f0f0" stroke-opacity="0.55" stroke-width="1.1"/>
<path d="M285,954.6 Q290,958.5 285,962.9" fill="none" stroke="#f0f0f0" stroke-opacity="0.55" stroke-width="1.1"/>
<path d="M337,954.6 Q342,958.5 337,962.9" fill="none" stroke="#f0f0f0" stroke-opacity="0.55" stroke-width="1.1"/>
<rect x="40" y="963.4" width="309" height="11.0" fill="#898989"/>
<path d="M40,963.2 L102,962.5 L164,962.6 L226,963.6 L287,964.2 L349,964.0" fill="none" stroke="#fff" stroke-opacity="0.73" stroke-width="1.1"/>
<path d="M81,964.4 Q87,968.6 81,973.4" fill="none" stroke="#f0f0f0" stroke-opacity="0.55" stroke-width="1.1"/>
<path d="M189,964.4 Q194,968.6 189,973.4" fill="none" stroke="#f0f0f0" stroke-opacity="0.55" stroke-width="1.1"/>
<path d="M248,964.4 Q253,968.6 248,973.4" fill="none" stroke="#f0f0f0" stroke-opacity="0.55" stroke-width="1.1"/>
<path d="M318,964.4 Q324,968.6 318,973.4" fill="none" stroke="#f0f0f0" stroke-opacity="0.55" stroke-width="1.1"/>
<rect x="40" y="973.9" width="309" height="11.3" fill="#777777"/>
<path d="M40,973.6 L102,974.8 L164,973.3 L226,972.8 L287,973.6 L349,974.4" fill="none" stroke="#fff" stroke-opacity="0.68" stroke-width="1.3"/>
<path d="M112,974.9 Q118,979.3 112,984.1" fill="none" stroke="#f0f0f0" stroke-opacity="0.55" stroke-width="1.1"/>
<path d="M218,974.9 Q223,979.3 218,984.1" fill="none" stroke="#f0f0f0" stroke-opacity="0.55" stroke-width="1.1"/>
<path d="M290,974.9 Q295,979.3 290,984.1" fill="none" stroke="#f0f0f0" stroke-opacity="0.55" stroke-width="1.1"/>
<path d="M348,974.9 Q353,979.3 348,984.1" fill="none" stroke="#f0f0f0" stroke-opacity="0.55" stroke-width="1.1"/>
<rect x="40" y="984.6" width="309" height="11.8" fill="#777777"/>
<path d="M40,985.6 L102,983.9 L164,985.1 L226,984.9 L287,984.9 L349,984.8" fill="none" stroke="#fff" stroke-opacity="0.70" stroke-width="1.0"/>
<path d="M75,985.6 Q80,990.3 75,995.4" fill="none" stroke="#f0f0f0" stroke-opacity="0.55" stroke-width="1.1"/>
<path d="M124,985.6 Q130,990.3 124,995.4" fill="none" stroke="#f0f0f0" stroke-opacity="0.55" stroke-width="1.1"/>
<path d="M202,985.6 Q208,990.3 202,995.4" fill="none" stroke="#f0f0f0" stroke-opacity="0.55" stroke-width="1.1"/>
<path d="M295,985.6 Q301,990.3 295,995.4" fill="none" stroke="#f0f0f0" stroke-opacity="0.55" stroke-width="1.1"/>
<rect x="40" y="995.9" width="309" height="9.7" fill="#777777"/>
<path d="M40,994.9 L102,996.3 L164,995.9 L226,995.7 L287,994.8 L349,996.0" fill="none" stroke="#fff" stroke-opacity="0.55" stroke-width="1.5"/>
<path d="M48,996.9 Q53,1000.5 48,1004.6" fill="none" stroke="#f0f0f0" stroke-opacity="0.55" stroke-width="1.1"/>
<path d="M98,996.9 Q103,1000.5 98,1004.6" fill="none" stroke="#f0f0f0" stroke-opacity="0.55" stroke-width="1.1"/>
<path d="M197,996.9 Q202,1000.5 197,1004.6" fill="none" stroke="#f0f0f0" stroke-opacity="0.55" stroke-width="1.1"/>
<path d="M307,996.9 Q312,1000.5 307,1004.6" fill="none" stroke="#f0f0f0" stroke-opacity="0.55" stroke-width="1.1"/>
<rect x="40" y="1005.1" width="309" height="12.9" fill="#777777"/>
<path d="M40,1006.2 L102,1004.4 L164,1006.0 L226,1005.2 L287,1006.1 L349,1004.0" fill="none" stroke="#fff" stroke-opacity="0.84" stroke-width="1.7"/>
<path d="M46,1006.1 Q52,1011.2 46,1016.9" fill="none" stroke="#f0f0f0" stroke-opacity="0.55" stroke-width="1.1"/>
<path d="M93,1006.1 Q100,1011.2 93,1016.9" fill="none" stroke="#f0f0f0" stroke-opacity="0.55" stroke-width="1.1"/>
<path d="M200,1006.1 Q207,1011.2 200,1016.9" fill="none" stroke="#f0f0f0" stroke-opacity="0.55" stroke-width="1.1"/>
<path d="M273,1006.1 Q279,1011.2 273,1016.9" fill="none" stroke="#f0f0f0" stroke-opacity="0.55" stroke-width="1.1"/>
<path d="M328,1006.1 Q334,1011.2 328,1016.9" fill="none" stroke="#f0f0f0" stroke-opacity="0.55" stroke-width="1.1"/>
<rect x="40" y="1017.4" width="309" height="10.3" fill="#7d7d7d"/>
<path d="M40,1016.8 L102,1017.0 L164,1016.5 L226,1016.5 L287,1018.1 L349,1017.0" fill="none" stroke="#fff" stroke-opacity="0.51" stroke-width="1.2"/>
<path d="M118,1018.4 Q123,1022.3 118,1026.7" fill="none" stroke="#f0f0f0" stroke-opacity="0.55" stroke-width="1.1"/>
<path d="M178,1018.4 Q183,1022.3 178,1026.7" fill="none" stroke="#f0f0f0" stroke-opacity="0.55" stroke-width="1.1"/>
<path d="M278,1018.4 Q283,1022.3 278,1026.7" fill="none" stroke="#f0f0f0" stroke-opacity="0.55" stroke-width="1.1"/>
<rect x="40" y="1027.2" width="309" height="12.8" fill="#7a7a7a"/>
<path d="M40,1027.8 L102,1028.2 L164,1026.4 L226,1028.1 L287,1028.4 L349,1027.8" fill="none" stroke="#fff" stroke-opacity="0.74" stroke-width="1.1"/>
<path d="M76,1028.2 Q82,1033.4 76,1039.1" fill="none" stroke="#f0f0f0" stroke-opacity="0.55" stroke-width="1.1"/>
<path d="M159,1028.2 Q165,1033.4 159,1039.1" fill="none" stroke="#f0f0f0" stroke-opacity="0.55" stroke-width="1.1"/>
<path d="M222,1028.2 Q228,1033.4 222,1039.1" fill="none" stroke="#f0f0f0" stroke-opacity="0.55" stroke-width="1.1"/>
<path d="M300,1028.2 Q307,1033.4 300,1039.1" fill="none" stroke="#f0f0f0" stroke-opacity="0.55" stroke-width="1.1"/>
<rect x="40" y="1039.6" width="309" height="11.7" fill="#858585"/>
<path d="M40,1039.0 L102,1038.6 L164,1039.9 L226,1038.4 L287,1040.6 L349,1040.7" fill="none" stroke="#fff" stroke-opacity="0.83" stroke-width="1.5"/>
<path d="M61,1040.6 Q67,1045.2 61,1050.3" fill="none" stroke="#f0f0f0" stroke-opacity="0.55" stroke-width="1.1"/>
<path d="M169,1040.6 Q174,1045.2 169,1050.3" fill="none" stroke="#f0f0f0" stroke-opacity="0.55" stroke-width="1.1"/>
<path d="M255,1040.6 Q261,1045.2 255,1050.3" fill="none" stroke="#f0f0f0" stroke-opacity="0.55" stroke-width="1.1"/>
<path d="M307,1040.6 Q313,1045.2 307,1050.3" fill="none" stroke="#f0f0f0" stroke-opacity="0.55" stroke-width="1.1"/>
<rect x="40" y="1050.8" width="309" height="14.0" fill="#808080"/>
<path d="M40,1050.4 L102,1052.0 L164,1050.7 L226,1049.7 L287,1049.9 L349,1050.7" fill="none" stroke="#fff" stroke-opacity="0.74" stroke-width="1.4"/>
<path d="M105,1051.8 Q112,1057.5 105,1063.7" fill="none" stroke="#f0f0f0" stroke-opacity="0.55" stroke-width="1.1"/>
<path d="M185,1051.8 Q192,1057.5 185,1063.7" fill="none" stroke="#f0f0f0" stroke-opacity="0.55" stroke-width="1.1"/>
<path d="M248,1051.8 Q255,1057.5 248,1063.7" fill="none" stroke="#f0f0f0" stroke-opacity="0.55" stroke-width="1.1"/>
<path d="M296,1051.8 Q303,1057.5 296,1063.7" fill="none" stroke="#f0f0f0" stroke-opacity="0.55" stroke-width="1.1"/>
<rect x="40" y="1064.2" width="309" height="13.6" fill="#898989"/>
<path d="M40,1063.1 L102,1064.0 L164,1065.3 L226,1064.5 L287,1063.2 L349,1063.1" fill="none" stroke="#fff" stroke-opacity="0.62" stroke-width="1.1"/>
<path d="M147,1065.2 Q154,1070.8 147,1076.8" fill="none" stroke="#f0f0f0" stroke-opacity="0.55" stroke-width="1.1"/>
<path d="M214,1065.2 Q221,1070.8 214,1076.8" fill="none" stroke="#f0f0f0" stroke-opacity="0.55" stroke-width="1.1"/>
<path d="M314,1065.2 Q321,1070.8 314,1076.8" fill="none" stroke="#f0f0f0" stroke-opacity="0.55" stroke-width="1.1"/>
<rect x="40" y="1077.3" width="309" height="12.9" fill="#787878"/>
<path d="M40,1077.9 L102,1076.5 L164,1076.5 L226,1077.5 L287,1077.6 L349,1077.2" fill="none" stroke="#fff" stroke-opacity="0.71" stroke-width="1.2"/>
<path d="M145,1078.3 Q151,1083.6 145,1089.3" fill="none" stroke="#f0f0f0" stroke-opacity="0.55" stroke-width="1.1"/>
<path d="M222,1078.3 Q228,1083.6 222,1089.3" fill="none" stroke="#f0f0f0" stroke-opacity="0.55" stroke-width="1.1"/>
<path d="M311,1078.3 Q317,1083.6 311,1089.3" fill="none" stroke="#f0f0f0" stroke-opacity="0.55" stroke-width="1.1"/>
<rect x="40" y="1089.8" width="309" height="14.0" fill="#818181"/>
<path d="M40,1089.7 L102,1089.9 L164,1090.8 L226,1090.4 L287,1090.8 L349,1089.3" fill="none" stroke="#fff" stroke-opacity="0.69" stroke-width="1.3"/>
<path d="M118,1090.8 Q124,1096.5 118,1102.7" fill="none" stroke="#f0f0f0" stroke-opacity="0.55" stroke-width="1.1"/>
<path d="M185,1090.8 Q192,1096.5 185,1102.7" fill="none" stroke="#f0f0f0" stroke-opacity="0.55" stroke-width="1.1"/>
<path d="M271,1090.8 Q278,1096.5 271,1102.7" fill="none" stroke="#f0f0f0" stroke-opacity="0.55" stroke-width="1.1"/>
<rect x="40" y="1103.2" width="309" height="9.5" fill="#7d7d7d"/>
<path d="M40,1102.3 L102,1103.8 L164,1104.0 L226,1103.6 L287,1103.7 L349,1103.6" fill="none" stroke="#fff" stroke-opacity="0.64" stroke-width="1.4"/>
<path d="M134,1104.2 Q138,1107.7 134,1111.8" fill="none" stroke="#f0f0f0" stroke-opacity="0.55" stroke-width="1.1"/>
<path d="M216,1104.2 Q220,1107.7 216,1111.8" fill="none" stroke="#f0f0f0" stroke-opacity="0.55" stroke-width="1.1"/>
<path d="M264,1104.2 Q269,1107.7 264,1111.8" fill="none" stroke="#f0f0f0" stroke-opacity="0.55" stroke-width="1.1"/>
<path d="M330,1104.2 Q335,1107.7 330,1111.8" fill="none" stroke="#f0f0f0" stroke-opacity="0.55" stroke-width="1.1"/>
<rect x="40" y="1112.3" width="309" height="9.8" fill="#757575"/>
<path d="M40,1111.1 L102,1112.3 L164,1111.2 L226,1111.7 L287,1111.2 L349,1112.5" fill="none" stroke="#fff" stroke-opacity="0.64" stroke-width="1.0"/>
<path d="M62,1113.3 Q67,1116.9 62,1121.1" fill="none" stroke="#f0f0f0" stroke-opacity="0.55" stroke-width="1.1"/>
<path d="M148,1113.3 Q153,1116.9 148,1121.1" fill="none" stroke="#f0f0f0" stroke-opacity="0.55" stroke-width="1.1"/>
<path d="M200,1113.3 Q204,1116.9 200,1121.1" fill="none" stroke="#f0f0f0" stroke-opacity="0.55" stroke-width="1.1"/>
<path d="M268,1113.3 Q272,1116.9 268,1121.1" fill="none" stroke="#f0f0f0" stroke-opacity="0.55" stroke-width="1.1"/>
<path d="M316,1113.3 Q321,1116.9 316,1121.1" fill="none" stroke="#f0f0f0" stroke-opacity="0.55" stroke-width="1.1"/>
<rect x="40" y="1121.6" width="309" height="13.8" fill="#757575"/>
<path d="M40,1121.1 L102,1122.0 L164,1121.6 L226,1122.6 L287,1121.9 L349,1122.0" fill="none" stroke="#fff" stroke-opacity="0.66" stroke-width="1.2"/>
<path d="M114,1122.6 Q121,1128.2 114,1134.4" fill="none" stroke="#f0f0f0" stroke-opacity="0.55" stroke-width="1.1"/>
<path d="M167,1122.6 Q174,1128.2 167,1134.4" fill="none" stroke="#f0f0f0" stroke-opacity="0.55" stroke-width="1.1"/>
<path d="M228,1122.6 Q235,1128.2 228,1134.4" fill="none" stroke="#f0f0f0" stroke-opacity="0.55" stroke-width="1.1"/>
<path d="M321,1122.6 Q327,1128.2 321,1134.4" fill="none" stroke="#f0f0f0" stroke-opacity="0.55" stroke-width="1.1"/>
<rect x="40" y="1134.9" width="309" height="11.0" fill="#878787"/>
<path d="M40,1133.9 L102,1134.8 L164,1135.4 L226,1133.8 L287,1135.6 L349,1136.0" fill="none" stroke="#fff" stroke-opacity="0.73" stroke-width="1.4"/>
<path d="M111,1135.9 Q117,1140.1 111,1144.8" fill="none" stroke="#f0f0f0" stroke-opacity="0.55" stroke-width="1.1"/>
<path d="M200,1135.9 Q205,1140.1 200,1144.8" fill="none" stroke="#f0f0f0" stroke-opacity="0.55" stroke-width="1.1"/>
<path d="M271,1135.9 Q276,1140.1 271,1144.8" fill="none" stroke="#f0f0f0" stroke-opacity="0.55" stroke-width="1.1"/>
<rect x="40" y="1145.3" width="309" height="13.8" fill="#898989"/>
<path d="M40,1144.5 L102,1144.8 L164,1144.8 L226,1145.1 L287,1144.8 L349,1145.6" fill="none" stroke="#fff" stroke-opacity="0.77" stroke-width="1.2"/>
<path d="M118,1146.3 Q125,1152.0 118,1158.2" fill="none" stroke="#f0f0f0" stroke-opacity="0.55" stroke-width="1.1"/>
<path d="M206,1146.3 Q212,1152.0 206,1158.2" fill="none" stroke="#f0f0f0" stroke-opacity="0.55" stroke-width="1.1"/>
<path d="M299,1146.3 Q306,1152.0 299,1158.2" fill="none" stroke="#f0f0f0" stroke-opacity="0.55" stroke-width="1.1"/>
<rect x="40" y="1158.7" width="309" height="11.7" fill="#7b7b7b"/>
<path d="M40,1158.4 L102,1159.3 L164,1157.5 L226,1158.1 L287,1158.7 L349,1159.7" fill="none" stroke="#fff" stroke-opacity="0.58" stroke-width="1.6"/>
<path d="M45,1159.7 Q50,1164.3 45,1169.4" fill="none" stroke="#f0f0f0" stroke-opacity="0.55" stroke-width="1.1"/>
<path d="M147,1159.7 Q153,1164.3 147,1169.4" fill="none" stroke="#f0f0f0" stroke-opacity="0.55" stroke-width="1.1"/>
<path d="M225,1159.7 Q230,1164.3 225,1169.4" fill="none" stroke="#f0f0f0" stroke-opacity="0.55" stroke-width="1.1"/>
<path d="M333,1159.7 Q339,1164.3 333,1169.4" fill="none" stroke="#f0f0f0" stroke-opacity="0.55" stroke-width="1.1"/>
<rect x="40" y="1169.9" width="309" height="12.6" fill="#747474"/>
<path d="M40,1169.0 L102,1169.7 L164,1169.8 L226,1170.3 L287,1168.7 L349,1169.3" fill="none" stroke="#fff" stroke-opacity="0.77" stroke-width="1.1"/>
<path d="M77,1170.9 Q83,1175.9 77,1181.4" fill="none" stroke="#f0f0f0" stroke-opacity="0.55" stroke-width="1.1"/>
<path d="M125,1170.9 Q131,1175.9 125,1181.4" fill="none" stroke="#f0f0f0" stroke-opacity="0.55" stroke-width="1.1"/>
<path d="M172,1170.9 Q178,1175.9 172,1181.4" fill="none" stroke="#f0f0f0" stroke-opacity="0.55" stroke-width="1.1"/>
<path d="M252,1170.9 Q258,1175.9 252,1181.4" fill="none" stroke="#f0f0f0" stroke-opacity="0.55" stroke-width="1.1"/>
<path d="M334,1170.9 Q340,1175.9 334,1181.4" fill="none" stroke="#f0f0f0" stroke-opacity="0.55" stroke-width="1.1"/>
<rect x="40" y="1181.9" width="309" height="11.8" fill="#737373"/>
<path d="M40,1181.0 L102,1181.3 L164,1183.1 L226,1180.9 L287,1181.0 L349,1182.4" fill="none" stroke="#fff" stroke-opacity="0.52" stroke-width="1.6"/>
<path d="M98,1182.9 Q104,1187.6 98,1192.8" fill="none" stroke="#f0f0f0" stroke-opacity="0.55" stroke-width="1.1"/>
<path d="M162,1182.9 Q168,1187.6 162,1192.8" fill="none" stroke="#f0f0f0" stroke-opacity="0.55" stroke-width="1.1"/>
<path d="M268,1182.9 Q273,1187.6 268,1192.8" fill="none" stroke="#f0f0f0" stroke-opacity="0.55" stroke-width="1.1"/>
<path d="M336,1182.9 Q342,1187.6 336,1192.8" fill="none" stroke="#f0f0f0" stroke-opacity="0.55" stroke-width="1.1"/>
<rect x="40" y="1193.3" width="309" height="11.5" fill="#7a7a7a"/>
<path d="M40,1194.4 L102,1192.8 L164,1194.1 L226,1194.1 L287,1193.3 L349,1192.6" fill="none" stroke="#fff" stroke-opacity="0.82" stroke-width="1.6"/>
<path d="M141,1194.3 Q147,1198.8 141,1203.8" fill="none" stroke="#f0f0f0" stroke-opacity="0.55" stroke-width="1.1"/>
<path d="M191,1194.3 Q197,1198.8 191,1203.8" fill="none" stroke="#f0f0f0" stroke-opacity="0.55" stroke-width="1.1"/>
<path d="M264,1194.3 Q270,1198.8 264,1203.8" fill="none" stroke="#f0f0f0" stroke-opacity="0.55" stroke-width="1.1"/>
<path d="M340,1194.3 Q346,1198.8 340,1203.8" fill="none" stroke="#f0f0f0" stroke-opacity="0.55" stroke-width="1.1"/>
<rect x="40" y="1204.3" width="309" height="12.6" fill="#858585"/>
<path d="M40,1205.3 L102,1204.3 L164,1205.3 L226,1204.5 L287,1204.1 L349,1203.1" fill="none" stroke="#fff" stroke-opacity="0.53" stroke-width="1.1"/>
<path d="M149,1205.3 Q155,1210.3 149,1215.9" fill="none" stroke="#f0f0f0" stroke-opacity="0.55" stroke-width="1.1"/>
<path d="M234,1205.3 Q240,1210.3 234,1215.9" fill="none" stroke="#f0f0f0" stroke-opacity="0.55" stroke-width="1.1"/>
<path d="M291,1205.3 Q297,1210.3 291,1215.9" fill="none" stroke="#f0f0f0" stroke-opacity="0.55" stroke-width="1.1"/>
<rect x="40" y="1216.4" width="309" height="13.4" fill="#808080"/>
<path d="M40,1217.5 L102,1215.8 L164,1217.1 L226,1215.3 L287,1215.3 L349,1215.4" fill="none" stroke="#fff" stroke-opacity="0.84" stroke-width="1.8"/>
<path d="M62,1217.4 Q68,1222.9 62,1228.8" fill="none" stroke="#f0f0f0" stroke-opacity="0.55" stroke-width="1.1"/>
<path d="M123,1217.4 Q130,1222.9 123,1228.8" fill="none" stroke="#f0f0f0" stroke-opacity="0.55" stroke-width="1.1"/>
<path d="M227,1217.4 Q234,1222.9 227,1228.8" fill="none" stroke="#f0f0f0" stroke-opacity="0.55" stroke-width="1.1"/>
<path d="M308,1217.4 Q314,1222.9 308,1228.8" fill="none" stroke="#f0f0f0" stroke-opacity="0.55" stroke-width="1.1"/>
<rect x="40" y="1229.3" width="309" height="11.8" fill="#808080"/>
<path d="M40,1230.2 L102,1230.5 L164,1229.3 L226,1230.0 L287,1228.7 L349,1230.1" fill="none" stroke="#fff" stroke-opacity="0.58" stroke-width="1.7"/>
<path d="M85,1230.3 Q91,1235.0 85,1240.2" fill="none" stroke="#f0f0f0" stroke-opacity="0.55" stroke-width="1.1"/>
<path d="M136,1230.3 Q142,1235.0 136,1240.2" fill="none" stroke="#f0f0f0" stroke-opacity="0.55" stroke-width="1.1"/>
<path d="M218,1230.3 Q223,1235.0 218,1240.2" fill="none" stroke="#f0f0f0" stroke-opacity="0.55" stroke-width="1.1"/>
<path d="M279,1230.3 Q284,1235.0 279,1240.2" fill="none" stroke="#f0f0f0" stroke-opacity="0.55" stroke-width="1.1"/>
<rect x="40" y="1240.7" width="309" height="11.5" fill="#7b7b7b"/>
<path d="M40,1241.2 L102,1241.2 L164,1241.0 L226,1240.0 L287,1240.1 L349,1241.2" fill="none" stroke="#fff" stroke-opacity="0.85" stroke-width="1.7"/>
<path d="M142,1241.7 Q148,1246.2 142,1251.2" fill="none" stroke="#f0f0f0" stroke-opacity="0.55" stroke-width="1.1"/>
<path d="M229,1241.7 Q234,1246.2 229,1251.2" fill="none" stroke="#f0f0f0" stroke-opacity="0.55" stroke-width="1.1"/>
<path d="M296,1241.7 Q301,1246.2 296,1251.2" fill="none" stroke="#f0f0f0" stroke-opacity="0.55" stroke-width="1.1"/>
<path d="M342,1241.7 Q348,1246.2 342,1251.2" fill="none" stroke="#f0f0f0" stroke-opacity="0.55" stroke-width="1.1"/>
</g>
<path d="M110.5,1158.6 C150,1165.6 200,1181.6 279.2,1199.6 L279.2,1221.3 L110.5,1221.3 Z" fill="#4c4c4c"/>
</g>
<g clip-path="url(#cp21)">
<rect x="288.0" y="1013.6" width="188.1" height="207.7" fill="#6e6e6e"/>
<g transform="rotate(8 382 1117)">
<rect x="218" y="953.6" width="328" height="13.1" fill="#7f7f7f"/>
<path d="M218,954.2 L284,954.5 L349,952.9 L415,952.5 L480,952.6 L546,953.0" fill="none" stroke="#fff" stroke-opacity="0.57" stroke-width="1.5"/>
<path d="M241,954.6 Q247,959.9 241,965.7" fill="none" stroke="#f0f0f0" stroke-opacity="0.55" stroke-width="1.1"/>
<path d="M314,954.6 Q320,959.9 314,965.7" fill="none" stroke="#f0f0f0" stroke-opacity="0.55" stroke-width="1.1"/>
<path d="M373,954.6 Q379,959.9 373,965.7" fill="none" stroke="#f0f0f0" stroke-opacity="0.55" stroke-width="1.1"/>
<path d="M419,954.6 Q425,959.9 419,965.7" fill="none" stroke="#f0f0f0" stroke-opacity="0.55" stroke-width="1.1"/>
<path d="M521,954.6 Q527,959.9 521,965.7" fill="none" stroke="#f0f0f0" stroke-opacity="0.55" stroke-width="1.1"/>
<rect x="218" y="966.2" width="328" height="9.9" fill="#838383"/>
<path d="M218,966.5 L284,966.3 L349,966.6 L415,966.6 L480,966.2 L546,966.9" fill="none" stroke="#fff" stroke-opacity="0.83" stroke-width="1.7"/>
<path d="M226,967.2 Q231,970.9 226,975.2" fill="none" stroke="#f0f0f0" stroke-opacity="0.55" stroke-width="1.1"/>
<path d="M286,967.2 Q291,970.9 286,975.2" fill="none" stroke="#f0f0f0" stroke-opacity="0.55" stroke-width="1.1"/>
<path d="M346,967.2 Q351,970.9 346,975.2" fill="none" stroke="#f0f0f0" stroke-opacity="0.55" stroke-width="1.1"/>
<path d="M430,967.2 Q435,970.9 430,975.2" fill="none" stroke="#f0f0f0" stroke-opacity="0.55" stroke-width="1.1"/>
<path d="M514,967.2 Q519,970.9 514,975.2" fill="none" stroke="#f0f0f0" stroke-opacity="0.55" stroke-width="1.1"/>
<rect x="218" y="975.7" width="328" height="11.8" fill="#777777"/>
<path d="M218,975.2 L284,975.9 L349,974.7 L415,975.9 L480,976.2 L546,975.8" fill="none" stroke="#fff" stroke-opacity="0.64" stroke-width="1.7"/>
<path d="M256,976.7 Q262,981.3 256,986.4" fill="none" stroke="#f0f0f0" stroke-opacity="0.55" stroke-width="1.1"/>
<path d="M329,976.7 Q334,981.3 329,986.4" fill="none" stroke="#f0f0f0" stroke-opacity="0.55" stroke-width="1.1"/>
<path d="M379,976.7 Q385,981.3 379,986.4" fill="none" stroke="#f0f0f0" stroke-opacity="0.55" stroke-width="1.1"/>
<path d="M449,976.7 Q455,981.3 449,986.4" fill="none" stroke="#f0f0f0" stroke-opacity="0.55" stroke-width="1.1"/>
<rect x="218" y="986.9" width="328" height="11.0" fill="#888888"/>
<path d="M218,987.5 L284,986.8 L349,986.9 L415,985.8 L480,986.2 L546,987.3" fill="none" stroke="#fff" stroke-opacity="0.52" stroke-width="1.8"/>
<path d="M296,987.9 Q302,992.2 296,996.9" fill="none" stroke="#f0f0f0" stroke-opacity="0.55" stroke-width="1.1"/>
<path d="M363,987.9 Q369,992.2 363,996.9" fill="none" stroke="#f0f0f0" stroke-opacity="0.55" stroke-width="1.1"/>
<path d="M432,987.9 Q437,992.2 432,996.9" fill="none" stroke="#f0f0f0" stroke-opacity="0.55" stroke-width="1.1"/>
<path d="M508,987.9 Q513,992.2 508,996.9" fill="none" stroke="#f0f0f0" stroke-opacity="0.55" stroke-width="1.1"/>
<rect x="218" y="997.4" width="328" height="12.9" fill="#7b7b7b"/>
<path d="M218,996.6 L284,996.3 L349,998.0 L415,997.6 L480,998.2 L546,997.4" fill="none" stroke="#fff" stroke-opacity="0.51" stroke-width="1.6"/>
<path d="M256,998.4 Q262,1003.6 256,1009.3" fill="none" stroke="#f0f0f0" stroke-opacity="0.55" stroke-width="1.1"/>
<path d="M363,998.4 Q369,1003.6 363,1009.3" fill="none" stroke="#f0f0f0" stroke-opacity="0.55" stroke-width="1.1"/>
<path d="M429,998.4 Q435,1003.6 429,1009.3" fill="none" stroke="#f0f0f0" stroke-opacity="0.55" stroke-width="1.1"/>
<path d="M534,998.4 Q540,1003.6 534,1009.3" fill="none" stroke="#f0f0f0" stroke-opacity="0.55" stroke-width="1.1"/>
<rect x="218" y="1009.8" width="328" height="12.0" fill="#7d7d7d"/>
<path d="M218,1010.8 L284,1010.9 L349,1010.3 L415,1008.9 L480,1008.7 L546,1009.7" fill="none" stroke="#fff" stroke-opacity="0.70" stroke-width="1.4"/>
<path d="M220,1010.8 Q226,1015.6 220,1020.8" fill="none" stroke="#f0f0f0" stroke-opacity="0.55" stroke-width="1.1"/>
<path d="M284,1010.8 Q290,1015.6 284,1020.8" fill="none" stroke="#f0f0f0" stroke-opacity="0.55" stroke-width="1.1"/>
<path d="M357,1010.8 Q363,1015.6 357,1020.8" fill="none" stroke="#f0f0f0" stroke-opacity="0.55" stroke-width="1.1"/>
<path d="M406,1010.8 Q412,1015.6 406,1020.8" fill="none" stroke="#f0f0f0" stroke-opacity="0.55" stroke-width="1.1"/>
<path d="M451,1010.8 Q457,1015.6 451,1020.8" fill="none" stroke="#f0f0f0" stroke-opacity="0.55" stroke-width="1.1"/>
<path d="M532,1010.8 Q538,1015.6 532,1020.8" fill="none" stroke="#f0f0f0" stroke-opacity="0.55" stroke-width="1.1"/>
<rect x="218" y="1021.3" width="328" height="11.3" fill="#777777"/>
<path d="M218,1021.8 L284,1020.5 L349,1021.5 L415,1021.3 L480,1021.4 L546,1021.1" fill="none" stroke="#fff" stroke-opacity="0.64" stroke-width="1.6"/>
<path d="M287,1022.3 Q292,1026.7 287,1031.6" fill="none" stroke="#f0f0f0" stroke-opacity="0.55" stroke-width="1.1"/>
<path d="M386,1022.3 Q392,1026.7 386,1031.6" fill="none" stroke="#f0f0f0" stroke-opacity="0.55" stroke-width="1.1"/>
<path d="M471,1022.3 Q476,1026.7 471,1031.6" fill="none" stroke="#f0f0f0" stroke-opacity="0.55" stroke-width="1.1"/>
<path d="M529,1022.3 Q535,1026.7 529,1031.6" fill="none" stroke="#f0f0f0" stroke-opacity="0.55" stroke-width="1.1"/>
<rect x="218" y="1032.1" width="328" height="14.1" fill="#818181"/>
<path d="M218,1031.0 L284,1031.4 L349,1031.0 L415,1031.1 L480,1032.3 L546,1032.5" fill="none" stroke="#fff" stroke-opacity="0.60" stroke-width="1.3"/>
<path d="M287,1033.1 Q293,1038.9 287,1045.2" fill="none" stroke="#f0f0f0" stroke-opacity="0.55" stroke-width="1.1"/>
<path d="M355,1033.1 Q362,1038.9 355,1045.2" fill="none" stroke="#f0f0f0" stroke-opacity="0.55" stroke-width="1.1"/>
<path d="M421,1033.1 Q428,1038.9 421,1045.2" fill="none" stroke="#f0f0f0" stroke-opacity="0.55" stroke-width="1.1"/>
<path d="M519,1033.1 Q526,1038.9 519,1045.2" fill="none" stroke="#f0f0f0" stroke-opacity="0.55" stroke-width="1.1"/>
<rect x="218" y="1045.7" width="328" height="13.7" fill="#828282"/>
<path d="M218,1044.5 L284,1046.7 L349,1046.4 L415,1045.1 L480,1045.7 L546,1045.3" fill="none" stroke="#fff" stroke-opacity="0.69" stroke-width="1.5"/>
<path d="M253,1046.7 Q260,1052.3 253,1058.4" fill="none" stroke="#f0f0f0" stroke-opacity="0.55" stroke-width="1.1"/>
<path d="M340,1046.7 Q347,1052.3 340,1058.4" fill="none" stroke="#f0f0f0" stroke-opacity="0.55" stroke-width="1.1"/>
<path d="M445,1046.7 Q452,1052.3 445,1058.4" fill="none" stroke="#f0f0f0" stroke-opacity="0.55" stroke-width="1.1"/>
<path d="M541,1046.7 Q548,1052.3 541,1058.4" fill="none" stroke="#f0f0f0" stroke-opacity="0.55" stroke-width="1.1"/>
<rect x="218" y="1058.9" width="328" height="10.4" fill="#767676"/>
<path d="M218,1059.1 L284,1059.5 L349,1058.8 L415,1059.1 L480,1058.5 L546,1059.5" fill="none" stroke="#fff" stroke-opacity="0.61" stroke-width="1.7"/>
<path d="M271,1059.9 Q276,1063.8 271,1068.3" fill="none" stroke="#f0f0f0" stroke-opacity="0.55" stroke-width="1.1"/>
<path d="M320,1059.9 Q324,1063.8 320,1068.3" fill="none" stroke="#f0f0f0" stroke-opacity="0.55" stroke-width="1.1"/>
<path d="M397,1059.9 Q402,1063.8 397,1068.3" fill="none" stroke="#f0f0f0" stroke-opacity="0.55" stroke-width="1.1"/>
<path d="M485,1059.9 Q490,1063.8 485,1068.3" fill="none" stroke="#f0f0f0" stroke-opacity="0.55" stroke-width="1.1"/>
<rect x="218" y="1068.8" width="328" height="13.2" fill="#848484"/>
<path d="M218,1069.2 L284,1069.8 L349,1067.6 L415,1068.4 L480,1069.0 L546,1069.4" fill="none" stroke="#fff" stroke-opacity="0.67" stroke-width="1.4"/>
<path d="M261,1069.8 Q267,1075.1 261,1081.0" fill="none" stroke="#f0f0f0" stroke-opacity="0.55" stroke-width="1.1"/>
<path d="M357,1069.8 Q363,1075.1 357,1081.0" fill="none" stroke="#f0f0f0" stroke-opacity="0.55" stroke-width="1.1"/>
<path d="M429,1069.8 Q436,1075.1 429,1081.0" fill="none" stroke="#f0f0f0" stroke-opacity="0.55" stroke-width="1.1"/>
<path d="M533,1069.8 Q540,1075.1 533,1081.0" fill="none" stroke="#f0f0f0" stroke-opacity="0.55" stroke-width="1.1"/>
<rect x="218" y="1081.5" width="328" height="12.3" fill="#737373"/>
<path d="M218,1080.7 L284,1081.9 L349,1080.4 L415,1082.2 L480,1080.8 L546,1080.4" fill="none" stroke="#fff" stroke-opacity="0.59" stroke-width="1.0"/>
<path d="M320,1082.5 Q326,1087.4 320,1092.8" fill="none" stroke="#f0f0f0" stroke-opacity="0.55" stroke-width="1.1"/>
<path d="M384,1082.5 Q390,1087.4 384,1092.8" fill="none" stroke="#f0f0f0" stroke-opacity="0.55" stroke-width="1.1"/>
<path d="M430,1082.5 Q436,1087.4 430,1092.8" fill="none" stroke="#f0f0f0" stroke-opacity="0.55" stroke-width="1.1"/>
<path d="M499,1082.5 Q505,1087.4 499,1092.8" fill="none" stroke="#f0f0f0" stroke-opacity="0.55" stroke-width="1.1"/>
<rect x="218" y="1093.3" width="328" height="10.4" fill="#767676"/>
<path d="M218,1092.5 L284,1092.3 L349,1093.7 L415,1092.5 L480,1093.4 L546,1094.2" fill="none" stroke="#fff" stroke-opacity="0.81" stroke-width="1.6"/>
<path d="M267,1094.3 Q272,1098.2 267,1102.6" fill="none" stroke="#f0f0f0" stroke-opacity="0.55" stroke-width="1.1"/>
<path d="M359,1094.3 Q363,1098.2 359,1102.6" fill="none" stroke="#f0f0f0" stroke-opacity="0.55" stroke-width="1.1"/>
<path d="M419,1094.3 Q424,1098.2 419,1102.6" fill="none" stroke="#f0f0f0" stroke-opacity="0.55" stroke-width="1.1"/>
<path d="M517,1094.3 Q522,1098.2 517,1102.6" fill="none" stroke="#f0f0f0" stroke-opacity="0.55" stroke-width="1.1"/>
<rect x="218" y="1103.1" width="328" height="10.8" fill="#7c7c7c"/>
<path d="M218,1103.3 L284,1104.3 L349,1103.9 L415,1104.0 L480,1102.6 L546,1102.6" fill="none" stroke="#fff" stroke-opacity="0.64" stroke-width="1.5"/>
<path d="M222,1104.1 Q227,1108.3 222,1113.0" fill="none" stroke="#f0f0f0" stroke-opacity="0.55" stroke-width="1.1"/>
<path d="M297,1104.1 Q302,1108.3 297,1113.0" fill="none" stroke="#f0f0f0" stroke-opacity="0.55" stroke-width="1.1"/>
<path d="M376,1104.1 Q381,1108.3 376,1113.0" fill="none" stroke="#f0f0f0" stroke-opacity="0.55" stroke-width="1.1"/>
<path d="M445,1104.1 Q450,1108.3 445,1113.0" fill="none" stroke="#f0f0f0" stroke-opacity="0.55" stroke-width="1.1"/>
<rect x="218" y="1113.5" width="328" height="12.3" fill="#7d7d7d"/>
<path d="M218,1113.2 L284,1114.5 L349,1112.5 L415,1113.5 L480,1112.8 L546,1113.7" fill="none" stroke="#fff" stroke-opacity="0.73" stroke-width="1.7"/>
<path d="M239,1114.5 Q245,1119.4 239,1124.7" fill="none" stroke="#f0f0f0" stroke-opacity="0.55" stroke-width="1.1"/>
<path d="M292,1114.5 Q297,1119.4 292,1124.7" fill="none" stroke="#f0f0f0" stroke-opacity="0.55" stroke-width="1.1"/>
<path d="M371,1114.5 Q377,1119.4 371,1124.7" fill="none" stroke="#f0f0f0" stroke-opacity="0.55" stroke-width="1.1"/>
<path d="M438,1114.5 Q444,1119.4 438,1124.7" fill="none" stroke="#f0f0f0" stroke-opacity="0.55" stroke-width="1.1"/>
<path d="M511,1114.5 Q517,1119.4 511,1124.7" fill="none" stroke="#f0f0f0" stroke-opacity="0.55" stroke-width="1.1"/>
<rect x="218" y="1125.2" width="328" height="9.7" fill="#787878"/>
<path d="M218,1124.9 L284,1126.3 L349,1125.3 L415,1124.3 L480,1126.1 L546,1126.0" fill="none" stroke="#fff" stroke-opacity="0.75" stroke-width="1.6"/>
<path d="M267,1126.2 Q272,1129.8 267,1133.9" fill="none" stroke="#f0f0f0" stroke-opacity="0.55" stroke-width="1.1"/>
<path d="M377,1126.2 Q381,1129.8 377,1133.9" fill="none" stroke="#f0f0f0" stroke-opacity="0.55" stroke-width="1.1"/>
<path d="M480,1126.2 Q484,1129.8 480,1133.9" fill="none" stroke="#f0f0f0" stroke-opacity="0.55" stroke-width="1.1"/>
<rect x="218" y="1134.4" width="328" height="12.2" fill="#737373"/>
<path d="M218,1134.9 L284,1133.4 L349,1135.0 L415,1133.8 L480,1134.4 L546,1135.5" fill="none" stroke="#fff" stroke-opacity="0.73" stroke-width="1.6"/>
<path d="M327,1135.4 Q333,1140.3 327,1145.7" fill="none" stroke="#f0f0f0" stroke-opacity="0.55" stroke-width="1.1"/>
<path d="M432,1135.4 Q438,1140.3 432,1145.7" fill="none" stroke="#f0f0f0" stroke-opacity="0.55" stroke-width="1.1"/>
<path d="M517,1135.4 Q523,1140.3 517,1145.7" fill="none" stroke="#f0f0f0" stroke-opacity="0.55" stroke-width="1.1"/>
<rect x="218" y="1146.2" width="328" height="13.1" fill="#888888"/>
<path d="M218,1146.4 L284,1145.6 L349,1145.7 L415,1145.4 L480,1147.1 L546,1146.2" fill="none" stroke="#fff" stroke-opacity="0.84" stroke-width="1.1"/>
<path d="M239,1147.2 Q245,1152.5 239,1158.3" fill="none" stroke="#f0f0f0" stroke-opacity="0.55" stroke-width="1.1"/>
<path d="M335,1147.2 Q342,1152.5 335,1158.3" fill="none" stroke="#f0f0f0" stroke-opacity="0.55" stroke-width="1.1"/>
<path d="M395,1147.2 Q401,1152.5 395,1158.3" fill="none" stroke="#f0f0f0" stroke-opacity="0.55" stroke-width="1.1"/>
<path d="M451,1147.2 Q457,1152.5 451,1158.3" fill="none" stroke="#f0f0f0" stroke-opacity="0.55" stroke-width="1.1"/>
<path d="M518,1147.2 Q524,1152.5 518,1158.3" fill="none" stroke="#f0f0f0" stroke-opacity="0.55" stroke-width="1.1"/>
<rect x="218" y="1158.8" width="328" height="13.1" fill="#848484"/>
<path d="M218,1159.1 L284,1159.4 L349,1159.7 L415,1159.1 L480,1159.9 L546,1159.5" fill="none" stroke="#fff" stroke-opacity="0.82" stroke-width="1.6"/>
<path d="M253,1159.8 Q259,1165.1 253,1170.9" fill="none" stroke="#f0f0f0" stroke-opacity="0.55" stroke-width="1.1"/>
<path d="M306,1159.8 Q312,1165.1 306,1170.9" fill="none" stroke="#f0f0f0" stroke-opacity="0.55" stroke-width="1.1"/>
<path d="M351,1159.8 Q357,1165.1 351,1170.9" fill="none" stroke="#f0f0f0" stroke-opacity="0.55" stroke-width="1.1"/>
<path d="M441,1159.8 Q447,1165.1 441,1170.9" fill="none" stroke="#f0f0f0" stroke-opacity="0.55" stroke-width="1.1"/>
<path d="M542,1159.8 Q548,1165.1 542,1170.9" fill="none" stroke="#f0f0f0" stroke-opacity="0.55" stroke-width="1.1"/>
<rect x="218" y="1171.4" width="328" height="13.9" fill="#818181"/>
<path d="M218,1171.1 L284,1171.7 L349,1171.2 L415,1171.7 L480,1170.2 L546,1171.6" fill="none" stroke="#fff" stroke-opacity="0.59" stroke-width="1.2"/>
<path d="M227,1172.4 Q234,1178.1 227,1184.3" fill="none" stroke="#f0f0f0" stroke-opacity="0.55" stroke-width="1.1"/>
<path d="M288,1172.4 Q295,1178.1 288,1184.3" fill="none" stroke="#f0f0f0" stroke-opacity="0.55" stroke-width="1.1"/>
<path d="M379,1172.4 Q385,1178.1 379,1184.3" fill="none" stroke="#f0f0f0" stroke-opacity="0.55" stroke-width="1.1"/>
<path d="M448,1172.4 Q455,1178.1 448,1184.3" fill="none" stroke="#f0f0f0" stroke-opacity="0.55" stroke-width="1.1"/>
<rect x="218" y="1184.8" width="328" height="12.8" fill="#747474"/>
<path d="M218,1185.1 L284,1185.1 L349,1185.2 L415,1185.8 L480,1184.3 L546,1183.6" fill="none" stroke="#fff" stroke-opacity="0.64" stroke-width="1.5"/>
<path d="M231,1185.8 Q238,1190.9 231,1196.6" fill="none" stroke="#f0f0f0" stroke-opacity="0.55" stroke-width="1.1"/>
<path d="M293,1185.8 Q299,1190.9 293,1196.6" fill="none" stroke="#f0f0f0" stroke-opacity="0.55" stroke-width="1.1"/>
<path d="M345,1185.8 Q352,1190.9 345,1196.6" fill="none" stroke="#f0f0f0" stroke-opacity="0.55" stroke-width="1.1"/>
<path d="M414,1185.8 Q420,1190.9 414,1196.6" fill="none" stroke="#f0f0f0" stroke-opacity="0.55" stroke-width="1.1"/>
<path d="M498,1185.8 Q505,1190.9 498,1196.6" fill="none" stroke="#f0f0f0" stroke-opacity="0.55" stroke-width="1.1"/>
<rect x="218" y="1197.1" width="328" height="11.4" fill="#888888"/>
<path d="M218,1197.4 L284,1197.3 L349,1196.4 L415,1195.9 L480,1197.5 L546,1197.4" fill="none" stroke="#fff" stroke-opacity="0.72" stroke-width="1.4"/>
<path d="M271,1198.1 Q277,1202.6 271,1207.5" fill="none" stroke="#f0f0f0" stroke-opacity="0.55" stroke-width="1.1"/>
<path d="M319,1198.1 Q325,1202.6 319,1207.5" fill="none" stroke="#f0f0f0" stroke-opacity="0.55" stroke-width="1.1"/>
<path d="M399,1198.1 Q405,1202.6 399,1207.5" fill="none" stroke="#f0f0f0" stroke-opacity="0.55" stroke-width="1.1"/>
<path d="M507,1198.1 Q512,1202.6 507,1207.5" fill="none" stroke="#f0f0f0" stroke-opacity="0.55" stroke-width="1.1"/>
<rect x="218" y="1208.0" width="328" height="11.4" fill="#777777"/>
<path d="M218,1207.9 L284,1207.7 L349,1207.2 L415,1207.7 L480,1208.9 L546,1207.7" fill="none" stroke="#fff" stroke-opacity="0.52" stroke-width="1.2"/>
<path d="M286,1209.0 Q291,1213.5 286,1218.4" fill="none" stroke="#f0f0f0" stroke-opacity="0.55" stroke-width="1.1"/>
<path d="M389,1209.0 Q394,1213.5 389,1218.4" fill="none" stroke="#f0f0f0" stroke-opacity="0.55" stroke-width="1.1"/>
<path d="M450,1209.0 Q455,1213.5 450,1218.4" fill="none" stroke="#f0f0f0" stroke-opacity="0.55" stroke-width="1.1"/>
<path d="M537,1209.0 Q542,1213.5 537,1218.4" fill="none" stroke="#f0f0f0" stroke-opacity="0.55" stroke-width="1.1"/>
<rect x="218" y="1218.9" width="328" height="13.1" fill="#757575"/>
<path d="M218,1218.6 L284,1220.1 L349,1219.7 L415,1219.2 L480,1218.3 L546,1218.2" fill="none" stroke="#fff" stroke-opacity="0.66" stroke-width="1.3"/>
<path d="M226,1219.9 Q232,1225.2 226,1231.0" fill="none" stroke="#f0f0f0" stroke-opacity="0.55" stroke-width="1.1"/>
<path d="M305,1219.9 Q311,1225.2 305,1231.0" fill="none" stroke="#f0f0f0" stroke-opacity="0.55" stroke-width="1.1"/>
<path d="M355,1219.9 Q361,1225.2 355,1231.0" fill="none" stroke="#f0f0f0" stroke-opacity="0.55" stroke-width="1.1"/>
<path d="M453,1219.9 Q460,1225.2 453,1231.0" fill="none" stroke="#f0f0f0" stroke-opacity="0.55" stroke-width="1.1"/>
<rect x="218" y="1231.5" width="328" height="11.5" fill="#7b7b7b"/>
<path d="M218,1232.1 L284,1230.5 L349,1230.3 L415,1231.1 L480,1232.7 L546,1230.4" fill="none" stroke="#fff" stroke-opacity="0.78" stroke-width="1.7"/>
<path d="M265,1232.5 Q270,1237.0 265,1242.1" fill="none" stroke="#f0f0f0" stroke-opacity="0.55" stroke-width="1.1"/>
<path d="M361,1232.5 Q366,1237.0 361,1242.1" fill="none" stroke="#f0f0f0" stroke-opacity="0.55" stroke-width="1.1"/>
<path d="M461,1232.5 Q467,1237.0 461,1242.1" fill="none" stroke="#f0f0f0" stroke-opacity="0.55" stroke-width="1.1"/>
<path d="M525,1232.5 Q530,1237.0 525,1242.1" fill="none" stroke="#f0f0f0" stroke-opacity="0.55" stroke-width="1.1"/>
<rect x="218" y="1242.6" width="328" height="12.8" fill="#757575"/>
<path d="M218,1243.3 L284,1243.5 L349,1243.6 L415,1241.6 L480,1242.9 L546,1242.0" fill="none" stroke="#fff" stroke-opacity="0.60" stroke-width="1.2"/>
<path d="M328,1243.6 Q334,1248.7 328,1254.4" fill="none" stroke="#f0f0f0" stroke-opacity="0.55" stroke-width="1.1"/>
<path d="M379,1243.6 Q385,1248.7 379,1254.4" fill="none" stroke="#f0f0f0" stroke-opacity="0.55" stroke-width="1.1"/>
<path d="M472,1243.6 Q478,1248.7 472,1254.4" fill="none" stroke="#f0f0f0" stroke-opacity="0.55" stroke-width="1.1"/>
</g>
<path d="M288,1178.6 C350,1185.6 420,1191.6 476.1,1197.6 L476.1,1221.3 L288,1221.3 Z" fill="#4e4e4e"/>
</g>
<g clip-path="url(#cp22)">
<rect x="484.9" y="1013.6" width="168.9" height="207.7" fill="#6e6e6e"/>
<g transform="rotate(9 569 1117)">
<rect x="415" y="953.6" width="309" height="12.6" fill="#868686"/>
<path d="M415,953.2 L477,953.0 L538,953.7 L600,952.7 L662,953.4 L724,954.0" fill="none" stroke="#fff" stroke-opacity="0.71" stroke-width="1.5"/>
<path d="M478,954.6 Q484,959.7 478,965.2" fill="none" stroke="#f0f0f0" stroke-opacity="0.55" stroke-width="1.1"/>
<path d="M581,954.6 Q587,959.7 581,965.2" fill="none" stroke="#f0f0f0" stroke-opacity="0.55" stroke-width="1.1"/>
<path d="M683,954.6 Q689,959.7 683,965.2" fill="none" stroke="#f0f0f0" stroke-opacity="0.55" stroke-width="1.1"/>
<rect x="415" y="965.7" width="309" height="10.7" fill="#7d7d7d"/>
<path d="M415,965.2 L477,965.9 L538,965.2 L600,965.7 L662,964.8 L724,966.4" fill="none" stroke="#fff" stroke-opacity="0.73" stroke-width="1.3"/>
<path d="M479,966.7 Q484,970.8 479,975.4" fill="none" stroke="#f0f0f0" stroke-opacity="0.55" stroke-width="1.1"/>
<path d="M537,966.7 Q542,970.8 537,975.4" fill="none" stroke="#f0f0f0" stroke-opacity="0.55" stroke-width="1.1"/>
<path d="M644,966.7 Q649,970.8 644,975.4" fill="none" stroke="#f0f0f0" stroke-opacity="0.55" stroke-width="1.1"/>
<path d="M715,966.7 Q720,970.8 715,975.4" fill="none" stroke="#f0f0f0" stroke-opacity="0.55" stroke-width="1.1"/>
<rect x="415" y="975.9" width="309" height="12.8" fill="#868686"/>
<path d="M415,974.8 L477,975.2 L538,975.9 L600,976.2 L662,976.0 L724,975.3" fill="none" stroke="#fff" stroke-opacity="0.63" stroke-width="1.5"/>
<path d="M496,976.9 Q502,982.1 496,987.8" fill="none" stroke="#f0f0f0" stroke-opacity="0.55" stroke-width="1.1"/>
<path d="M548,976.9 Q554,982.1 548,987.8" fill="none" stroke="#f0f0f0" stroke-opacity="0.55" stroke-width="1.1"/>
<path d="M638,976.9 Q644,982.1 638,987.8" fill="none" stroke="#f0f0f0" stroke-opacity="0.55" stroke-width="1.1"/>
<path d="M724,976.9 Q730,982.1 724,987.8" fill="none" stroke="#f0f0f0" stroke-opacity="0.55" stroke-width="1.1"/>
<rect x="415" y="988.3" width="309" height="11.8" fill="#7e7e7e"/>
<path d="M415,987.1 L477,988.1 L538,989.3 L600,989.0 L662,987.5 L724,988.2" fill="none" stroke="#fff" stroke-opacity="0.67" stroke-width="1.5"/>
<path d="M444,989.3 Q450,993.9 444,999.1" fill="none" stroke="#f0f0f0" stroke-opacity="0.55" stroke-width="1.1"/>
<path d="M526,989.3 Q532,993.9 526,999.1" fill="none" stroke="#f0f0f0" stroke-opacity="0.55" stroke-width="1.1"/>
<path d="M587,989.3 Q592,993.9 587,999.1" fill="none" stroke="#f0f0f0" stroke-opacity="0.55" stroke-width="1.1"/>
<path d="M679,989.3 Q684,993.9 679,999.1" fill="none" stroke="#f0f0f0" stroke-opacity="0.55" stroke-width="1.1"/>
<rect x="415" y="999.6" width="309" height="12.2" fill="#808080"/>
<path d="M415,1000.6 L477,1000.0 L538,1000.7 L600,998.7 L662,999.8 L724,1000.0" fill="none" stroke="#fff" stroke-opacity="0.65" stroke-width="1.7"/>
<path d="M475,1000.6 Q481,1005.4 475,1010.8" fill="none" stroke="#f0f0f0" stroke-opacity="0.55" stroke-width="1.1"/>
<path d="M533,1000.6 Q538,1005.4 533,1010.8" fill="none" stroke="#f0f0f0" stroke-opacity="0.55" stroke-width="1.1"/>
<path d="M621,1000.6 Q627,1005.4 621,1010.8" fill="none" stroke="#f0f0f0" stroke-opacity="0.55" stroke-width="1.1"/>
<path d="M690,1000.6 Q695,1005.4 690,1010.8" fill="none" stroke="#f0f0f0" stroke-opacity="0.55" stroke-width="1.1"/>
<rect x="415" y="1011.3" width="309" height="11.3" fill="#888888"/>
<path d="M415,1010.4 L477,1011.7 L538,1010.7 L600,1010.7 L662,1011.2 L724,1012.1" fill="none" stroke="#fff" stroke-opacity="0.83" stroke-width="1.0"/>
<path d="M486,1012.3 Q492,1016.7 486,1021.6" fill="none" stroke="#f0f0f0" stroke-opacity="0.55" stroke-width="1.1"/>
<path d="M562,1012.3 Q568,1016.7 562,1021.6" fill="none" stroke="#f0f0f0" stroke-opacity="0.55" stroke-width="1.1"/>
<path d="M614,1012.3 Q619,1016.7 614,1021.6" fill="none" stroke="#f0f0f0" stroke-opacity="0.55" stroke-width="1.1"/>
<path d="M697,1012.3 Q702,1016.7 697,1021.6" fill="none" stroke="#f0f0f0" stroke-opacity="0.55" stroke-width="1.1"/>
<rect x="415" y="1022.1" width="309" height="10.3" fill="#7a7a7a"/>
<path d="M415,1021.2 L477,1022.6 L538,1023.0 L600,1023.1 L662,1021.8 L724,1022.5" fill="none" stroke="#fff" stroke-opacity="0.63" stroke-width="1.3"/>
<path d="M485,1023.1 Q490,1027.0 485,1031.4" fill="none" stroke="#f0f0f0" stroke-opacity="0.55" stroke-width="1.1"/>
<path d="M546,1023.1 Q551,1027.0 546,1031.4" fill="none" stroke="#f0f0f0" stroke-opacity="0.55" stroke-width="1.1"/>
<path d="M594,1023.1 Q599,1027.0 594,1031.4" fill="none" stroke="#f0f0f0" stroke-opacity="0.55" stroke-width="1.1"/>
<path d="M674,1023.1 Q679,1027.0 674,1031.4" fill="none" stroke="#f0f0f0" stroke-opacity="0.55" stroke-width="1.1"/>
<rect x="415" y="1031.9" width="309" height="11.7" fill="#787878"/>
<path d="M415,1031.8 L477,1031.2 L538,1031.8 L600,1032.8 L662,1031.9 L724,1032.9" fill="none" stroke="#fff" stroke-opacity="0.55" stroke-width="1.2"/>
<path d="M474,1032.9 Q480,1037.5 474,1042.7" fill="none" stroke="#f0f0f0" stroke-opacity="0.55" stroke-width="1.1"/>
<path d="M543,1032.9 Q548,1037.5 543,1042.7" fill="none" stroke="#f0f0f0" stroke-opacity="0.55" stroke-width="1.1"/>
<path d="M611,1032.9 Q617,1037.5 611,1042.7" fill="none" stroke="#f0f0f0" stroke-opacity="0.55" stroke-width="1.1"/>
<path d="M663,1032.9 Q668,1037.5 663,1042.7" fill="none" stroke="#f0f0f0" stroke-opacity="0.55" stroke-width="1.1"/>
<rect x="415" y="1043.2" width="309" height="13.1" fill="#737373"/>
<path d="M415,1043.4 L477,1043.0 L538,1042.6 L600,1044.3 L662,1043.6 L724,1044.2" fill="none" stroke="#fff" stroke-opacity="0.74" stroke-width="1.7"/>
<path d="M424,1044.2 Q430,1049.5 424,1055.3" fill="none" stroke="#f0f0f0" stroke-opacity="0.55" stroke-width="1.1"/>
<path d="M476,1044.2 Q483,1049.5 476,1055.3" fill="none" stroke="#f0f0f0" stroke-opacity="0.55" stroke-width="1.1"/>
<path d="M567,1044.2 Q573,1049.5 567,1055.3" fill="none" stroke="#f0f0f0" stroke-opacity="0.55" stroke-width="1.1"/>
<path d="M647,1044.2 Q653,1049.5 647,1055.3" fill="none" stroke="#f0f0f0" stroke-opacity="0.55" stroke-width="1.1"/>
<rect x="415" y="1055.8" width="309" height="14.3" fill="#7c7c7c"/>
<path d="M415,1056.0 L477,1054.8 L538,1055.2 L600,1055.0 L662,1056.2 L724,1055.3" fill="none" stroke="#fff" stroke-opacity="0.63" stroke-width="1.7"/>
<path d="M495,1056.8 Q502,1062.7 495,1069.1" fill="none" stroke="#f0f0f0" stroke-opacity="0.55" stroke-width="1.1"/>
<path d="M540,1056.8 Q547,1062.7 540,1069.1" fill="none" stroke="#f0f0f0" stroke-opacity="0.55" stroke-width="1.1"/>
<path d="M596,1056.8 Q603,1062.7 596,1069.1" fill="none" stroke="#f0f0f0" stroke-opacity="0.55" stroke-width="1.1"/>
<path d="M650,1056.8 Q657,1062.7 650,1069.1" fill="none" stroke="#f0f0f0" stroke-opacity="0.55" stroke-width="1.1"/>
<path d="M706,1056.8 Q713,1062.7 706,1069.1" fill="none" stroke="#f0f0f0" stroke-opacity="0.55" stroke-width="1.1"/>
<rect x="415" y="1069.6" width="309" height="13.9" fill="#838383"/>
<path d="M415,1069.7 L477,1068.7 L538,1069.2 L600,1068.8 L662,1070.7 L724,1069.0" fill="none" stroke="#fff" stroke-opacity="0.52" stroke-width="1.6"/>
<path d="M462,1070.6 Q468,1076.3 462,1082.5" fill="none" stroke="#f0f0f0" stroke-opacity="0.55" stroke-width="1.1"/>
<path d="M512,1070.6 Q518,1076.3 512,1082.5" fill="none" stroke="#f0f0f0" stroke-opacity="0.55" stroke-width="1.1"/>
<path d="M592,1070.6 Q599,1076.3 592,1082.5" fill="none" stroke="#f0f0f0" stroke-opacity="0.55" stroke-width="1.1"/>
<path d="M701,1070.6 Q708,1076.3 701,1082.5" fill="none" stroke="#f0f0f0" stroke-opacity="0.55" stroke-width="1.1"/>
<rect x="415" y="1083.0" width="309" height="11.5" fill="#888888"/>
<path d="M415,1083.6 L477,1083.7 L538,1083.9 L600,1082.2 L662,1082.9 L724,1082.5" fill="none" stroke="#fff" stroke-opacity="0.65" stroke-width="1.6"/>
<path d="M520,1084.0 Q526,1088.5 520,1093.5" fill="none" stroke="#f0f0f0" stroke-opacity="0.55" stroke-width="1.1"/>
<path d="M592,1084.0 Q598,1088.5 592,1093.5" fill="none" stroke="#f0f0f0" stroke-opacity="0.55" stroke-width="1.1"/>
<path d="M648,1084.0 Q653,1088.5 648,1093.5" fill="none" stroke="#f0f0f0" stroke-opacity="0.55" stroke-width="1.1"/>
<path d="M722,1084.0 Q728,1088.5 722,1093.5" fill="none" stroke="#f0f0f0" stroke-opacity="0.55" stroke-width="1.1"/>
<rect x="415" y="1094.0" width="309" height="9.8" fill="#7c7c7c"/>
<path d="M415,1095.0 L477,1095.1 L538,1094.7 L600,1093.3 L662,1094.8 L724,1094.0" fill="none" stroke="#fff" stroke-opacity="0.69" stroke-width="1.2"/>
<path d="M434,1095.0 Q438,1098.6 434,1102.8" fill="none" stroke="#f0f0f0" stroke-opacity="0.55" stroke-width="1.1"/>
<path d="M512,1095.0 Q517,1098.6 512,1102.8" fill="none" stroke="#f0f0f0" stroke-opacity="0.55" stroke-width="1.1"/>
<path d="M614,1095.0 Q619,1098.6 614,1102.8" fill="none" stroke="#f0f0f0" stroke-opacity="0.55" stroke-width="1.1"/>
<path d="M698,1095.0 Q703,1098.6 698,1102.8" fill="none" stroke="#f0f0f0" stroke-opacity="0.55" stroke-width="1.1"/>
<rect x="415" y="1103.3" width="309" height="10.7" fill="#828282"/>
<path d="M415,1104.1 L477,1104.3 L538,1102.6 L600,1102.2 L662,1103.3 L724,1102.6" fill="none" stroke="#fff" stroke-opacity="0.59" stroke-width="1.3"/>
<path d="M508,1104.3 Q513,1108.4 508,1113.0" fill="none" stroke="#f0f0f0" stroke-opacity="0.55" stroke-width="1.1"/>
<path d="M585,1104.3 Q590,1108.4 585,1113.0" fill="none" stroke="#f0f0f0" stroke-opacity="0.55" stroke-width="1.1"/>
<path d="M642,1104.3 Q648,1108.4 642,1113.0" fill="none" stroke="#f0f0f0" stroke-opacity="0.55" stroke-width="1.1"/>
<path d="M692,1104.3 Q698,1108.4 692,1113.0" fill="none" stroke="#f0f0f0" stroke-opacity="0.55" stroke-width="1.1"/>
<rect x="415" y="1113.5" width="309" height="12.5" fill="#777777"/>
<path d="M415,1112.5 L477,1113.5 L538,1113.5 L600,1114.6 L662,1114.3 L724,1114.2" fill="none" stroke="#fff" stroke-opacity="0.77" stroke-width="1.3"/>
<path d="M441,1114.5 Q447,1119.5 441,1125.0" fill="none" stroke="#f0f0f0" stroke-opacity="0.55" stroke-width="1.1"/>
<path d="M550,1114.5 Q556,1119.5 550,1125.0" fill="none" stroke="#f0f0f0" stroke-opacity="0.55" stroke-width="1.1"/>
<path d="M654,1114.5 Q660,1119.5 654,1125.0" fill="none" stroke="#f0f0f0" stroke-opacity="0.55" stroke-width="1.1"/>
<rect x="415" y="1125.5" width="309" height="10.1" fill="#787878"/>
<path d="M415,1125.4 L477,1125.7 L538,1125.0 L600,1126.0 L662,1124.7 L724,1125.0" fill="none" stroke="#fff" stroke-opacity="0.74" stroke-width="1.0"/>
<path d="M457,1126.5 Q462,1130.3 457,1134.6" fill="none" stroke="#f0f0f0" stroke-opacity="0.55" stroke-width="1.1"/>
<path d="M539,1126.5 Q544,1130.3 539,1134.6" fill="none" stroke="#f0f0f0" stroke-opacity="0.55" stroke-width="1.1"/>
<path d="M647,1126.5 Q652,1130.3 647,1134.6" fill="none" stroke="#f0f0f0" stroke-opacity="0.55" stroke-width="1.1"/>
<path d="M703,1126.5 Q708,1130.3 703,1134.6" fill="none" stroke="#f0f0f0" stroke-opacity="0.55" stroke-width="1.1"/>
<rect x="415" y="1135.1" width="309" height="12.5" fill="#818181"/>
<path d="M415,1135.6 L477,1136.3 L538,1135.2 L600,1135.4 L662,1135.2 L724,1135.8" fill="none" stroke="#fff" stroke-opacity="0.67" stroke-width="1.1"/>
<path d="M422,1136.1 Q428,1141.1 422,1146.6" fill="none" stroke="#f0f0f0" stroke-opacity="0.55" stroke-width="1.1"/>
<path d="M513,1136.1 Q519,1141.1 513,1146.6" fill="none" stroke="#f0f0f0" stroke-opacity="0.55" stroke-width="1.1"/>
<path d="M619,1136.1 Q625,1141.1 619,1146.6" fill="none" stroke="#f0f0f0" stroke-opacity="0.55" stroke-width="1.1"/>
<path d="M716,1136.1 Q722,1141.1 716,1146.6" fill="none" stroke="#f0f0f0" stroke-opacity="0.55" stroke-width="1.1"/>
<rect x="415" y="1147.1" width="309" height="13.5" fill="#797979"/>
<path d="M415,1147.0 L477,1146.4 L538,1147.2 L600,1147.8 L662,1147.1 L724,1145.9" fill="none" stroke="#fff" stroke-opacity="0.65" stroke-width="1.1"/>
<path d="M497,1148.1 Q504,1153.6 497,1159.6" fill="none" stroke="#f0f0f0" stroke-opacity="0.55" stroke-width="1.1"/>
<path d="M578,1148.1 Q585,1153.6 578,1159.6" fill="none" stroke="#f0f0f0" stroke-opacity="0.55" stroke-width="1.1"/>
<path d="M639,1148.1 Q646,1153.6 639,1159.6" fill="none" stroke="#f0f0f0" stroke-opacity="0.55" stroke-width="1.1"/>
<path d="M714,1148.1 Q721,1153.6 714,1159.6" fill="none" stroke="#f0f0f0" stroke-opacity="0.55" stroke-width="1.1"/>
<rect x="415" y="1160.1" width="309" height="11.1" fill="#7e7e7e"/>
<path d="M415,1160.0 L477,1159.5 L538,1159.2 L600,1160.4 L662,1160.7 L724,1160.6" fill="none" stroke="#fff" stroke-opacity="0.54" stroke-width="1.3"/>
<path d="M484,1161.1 Q489,1165.4 484,1170.2" fill="none" stroke="#f0f0f0" stroke-opacity="0.55" stroke-width="1.1"/>
<path d="M541,1161.1 Q546,1165.4 541,1170.2" fill="none" stroke="#f0f0f0" stroke-opacity="0.55" stroke-width="1.1"/>
<path d="M628,1161.1 Q634,1165.4 628,1170.2" fill="none" stroke="#f0f0f0" stroke-opacity="0.55" stroke-width="1.1"/>
<path d="M706,1161.1 Q711,1165.4 706,1170.2" fill="none" stroke="#f0f0f0" stroke-opacity="0.55" stroke-width="1.1"/>
<rect x="415" y="1170.7" width="309" height="12.6" fill="#797979"/>
<path d="M415,1170.3 L477,1170.2 L538,1170.2 L600,1169.7 L662,1170.6 L724,1169.6" fill="none" stroke="#fff" stroke-opacity="0.55" stroke-width="1.3"/>
<path d="M428,1171.7 Q434,1176.7 428,1182.3" fill="none" stroke="#f0f0f0" stroke-opacity="0.55" stroke-width="1.1"/>
<path d="M507,1171.7 Q513,1176.7 507,1182.3" fill="none" stroke="#f0f0f0" stroke-opacity="0.55" stroke-width="1.1"/>
<path d="M608,1171.7 Q614,1176.7 608,1182.3" fill="none" stroke="#f0f0f0" stroke-opacity="0.55" stroke-width="1.1"/>
<path d="M706,1171.7 Q712,1176.7 706,1182.3" fill="none" stroke="#f0f0f0" stroke-opacity="0.55" stroke-width="1.1"/>
<rect x="415" y="1182.8" width="309" height="14.0" fill="#808080"/>
<path d="M415,1183.6 L477,1183.4 L538,1182.7 L600,1183.6 L662,1183.4 L724,1183.7" fill="none" stroke="#fff" stroke-opacity="0.84" stroke-width="1.6"/>
<path d="M427,1183.8 Q434,1189.5 427,1195.8" fill="none" stroke="#f0f0f0" stroke-opacity="0.55" stroke-width="1.1"/>
<path d="M482,1183.8 Q488,1189.5 482,1195.8" fill="none" stroke="#f0f0f0" stroke-opacity="0.55" stroke-width="1.1"/>
<path d="M538,1183.8 Q544,1189.5 538,1195.8" fill="none" stroke="#f0f0f0" stroke-opacity="0.55" stroke-width="1.1"/>
<path d="M620,1183.8 Q627,1189.5 620,1195.8" fill="none" stroke="#f0f0f0" stroke-opacity="0.55" stroke-width="1.1"/>
<path d="M706,1183.8 Q712,1189.5 706,1195.8" fill="none" stroke="#f0f0f0" stroke-opacity="0.55" stroke-width="1.1"/>
<rect x="415" y="1196.3" width="309" height="10.0" fill="#7a7a7a"/>
<path d="M415,1196.1 L477,1196.2 L538,1196.0 L600,1197.2 L662,1195.6 L724,1195.9" fill="none" stroke="#fff" stroke-opacity="0.73" stroke-width="1.5"/>
<path d="M498,1197.3 Q503,1201.0 498,1205.3" fill="none" stroke="#f0f0f0" stroke-opacity="0.55" stroke-width="1.1"/>
<path d="M555,1197.3 Q560,1201.0 555,1205.3" fill="none" stroke="#f0f0f0" stroke-opacity="0.55" stroke-width="1.1"/>
<path d="M622,1197.3 Q626,1201.0 622,1205.3" fill="none" stroke="#f0f0f0" stroke-opacity="0.55" stroke-width="1.1"/>
<path d="M709,1197.3 Q714,1201.0 709,1205.3" fill="none" stroke="#f0f0f0" stroke-opacity="0.55" stroke-width="1.1"/>
<rect x="415" y="1205.8" width="309" height="9.7" fill="#737373"/>
<path d="M415,1205.7 L477,1205.9 L538,1206.0 L600,1205.9 L662,1205.9 L724,1205.8" fill="none" stroke="#fff" stroke-opacity="0.84" stroke-width="1.2"/>
<path d="M487,1206.8 Q491,1210.4 487,1214.5" fill="none" stroke="#f0f0f0" stroke-opacity="0.55" stroke-width="1.1"/>
<path d="M572,1206.8 Q577,1210.4 572,1214.5" fill="none" stroke="#f0f0f0" stroke-opacity="0.55" stroke-width="1.1"/>
<path d="M648,1206.8 Q653,1210.4 648,1214.5" fill="none" stroke="#f0f0f0" stroke-opacity="0.55" stroke-width="1.1"/>
<rect x="415" y="1215.0" width="309" height="11.7" fill="#828282"/>
<path d="M415,1215.9 L477,1215.0 L538,1215.2 L600,1215.3 L662,1214.7 L724,1214.8" fill="none" stroke="#fff" stroke-opacity="0.82" stroke-width="1.1"/>
<path d="M415,1216.0 Q421,1220.6 415,1225.7" fill="none" stroke="#f0f0f0" stroke-opacity="0.55" stroke-width="1.1"/>
<path d="M515,1216.0 Q521,1220.6 515,1225.7" fill="none" stroke="#f0f0f0" stroke-opacity="0.55" stroke-width="1.1"/>
<path d="M619,1216.0 Q625,1220.6 619,1225.7" fill="none" stroke="#f0f0f0" stroke-opacity="0.55" stroke-width="1.1"/>
<path d="M670,1216.0 Q676,1220.6 670,1225.7" fill="none" stroke="#f0f0f0" stroke-opacity="0.55" stroke-width="1.1"/>
<rect x="415" y="1226.2" width="309" height="13.7" fill="#7e7e7e"/>
<path d="M415,1225.8 L477,1227.3 L538,1225.1 L600,1226.9 L662,1226.9 L724,1226.2" fill="none" stroke="#fff" stroke-opacity="0.83" stroke-width="1.7"/>
<path d="M522,1227.2 Q528,1232.8 522,1238.9" fill="none" stroke="#f0f0f0" stroke-opacity="0.55" stroke-width="1.1"/>
<path d="M612,1227.2 Q619,1232.8 612,1238.9" fill="none" stroke="#f0f0f0" stroke-opacity="0.55" stroke-width="1.1"/>
<path d="M667,1227.2 Q674,1232.8 667,1238.9" fill="none" stroke="#f0f0f0" stroke-opacity="0.55" stroke-width="1.1"/>
<rect x="415" y="1239.4" width="309" height="12.3" fill="#888888"/>
<path d="M415,1239.5 L477,1240.4 L538,1239.8 L600,1238.8 L662,1239.1 L724,1238.4" fill="none" stroke="#fff" stroke-opacity="0.58" stroke-width="1.1"/>
<path d="M501,1240.4 Q507,1245.3 501,1250.7" fill="none" stroke="#f0f0f0" stroke-opacity="0.55" stroke-width="1.1"/>
<path d="M550,1240.4 Q556,1245.3 550,1250.7" fill="none" stroke="#f0f0f0" stroke-opacity="0.55" stroke-width="1.1"/>
<path d="M640,1240.4 Q646,1245.3 640,1250.7" fill="none" stroke="#f0f0f0" stroke-opacity="0.55" stroke-width="1.1"/>
<rect x="415" y="1251.2" width="309" height="11.2" fill="#767676"/>
<path d="M415,1250.9 L477,1251.1 L538,1251.9 L600,1250.5 L662,1252.0 L724,1252.3" fill="none" stroke="#fff" stroke-opacity="0.57" stroke-width="1.3"/>
<path d="M467,1252.2 Q472,1256.6 467,1261.4" fill="none" stroke="#f0f0f0" stroke-opacity="0.55" stroke-width="1.1"/>
<path d="M517,1252.2 Q523,1256.6 517,1261.4" fill="none" stroke="#f0f0f0" stroke-opacity="0.55" stroke-width="1.1"/>
<path d="M617,1252.2 Q623,1256.6 617,1261.4" fill="none" stroke="#f0f0f0" stroke-opacity="0.55" stroke-width="1.1"/>
<path d="M665,1252.2 Q670,1256.6 665,1261.4" fill="none" stroke="#f0f0f0" stroke-opacity="0.55" stroke-width="1.1"/>
</g>
<path d="M484.9,1178.6 C520,1179.6 560,1185.6 600,1193.6 L653.8,1203.6 L653.8,1221.3 L484.9,1221.3 Z" fill="#565656"/>
<ellipse cx="500" cy="1195" rx="10" ry="6" fill="#6a6a6a" fill-opacity="0.8"/>
<ellipse cx="520" cy="1205" rx="8" ry="5" fill="#6a6a6a" fill-opacity="0.8"/>
<ellipse cx="545" cy="1192" rx="9" ry="5" fill="#6a6a6a" fill-opacity="0.8"/>
<ellipse cx="565" cy="1210" rx="12" ry="5" fill="#6a6a6a" fill-opacity="0.8"/>
<ellipse cx="590" cy="1198" rx="8" ry="6" fill="#6a6a6a" fill-opacity="0.8"/>
<ellipse cx="505" cy="1214" rx="6" ry="4" fill="#6a6a6a" fill-opacity="0.8"/>
<ellipse cx="538" cy="1212" rx="7" ry="4" fill="#6a6a6a" fill-opacity="0.8"/>
<ellipse cx="612" cy="1212" rx="9" ry="4" fill="#6a6a6a" fill-opacity="0.8"/>
</g>
<g clip-path="url(#cp30)">
<rect x="110.5" y="1230.0" width="168.7" height="139.4" fill="#8e8e8e"/>
<rect x="110.5" y="1230.0" width="168.7" height="10.0" fill="#767676"/>
<g transform="rotate(0.5 195 1300)">
<rect x="40" y="1240.0" width="309" height="5.9" fill="#8b8b8b"/>
<path d="M40,1241.1 L102,1241.0 L164,1239.0 L226,1239.5 L287,1239.6 L349,1240.1" fill="none" stroke="#fff" stroke-opacity="0.77" stroke-width="2.6"/>
<path d="M106,1241.0 Q109,1242.7 106,1244.9" fill="none" stroke="#f0f0f0" stroke-opacity="0.55" stroke-width="1.1"/>
<path d="M299,1241.0 Q301,1242.7 299,1244.9" fill="none" stroke="#f0f0f0" stroke-opacity="0.55" stroke-width="1.1"/>
<rect x="40" y="1245.4" width="309" height="7.8" fill="#a3a3a3"/>
<path d="M40,1244.4 L102,1245.7 L164,1245.0 L226,1244.5 L287,1245.2 L349,1246.2" fill="none" stroke="#fff" stroke-opacity="0.76" stroke-width="1.8"/>
<path d="M223,1246.4 Q227,1249.1 223,1252.2" fill="none" stroke="#f0f0f0" stroke-opacity="0.55" stroke-width="1.1"/>
<rect x="40" y="1252.7" width="309" height="7.5" fill="#8a8a8a"/>
<path d="M40,1253.6 L102,1252.5 L164,1252.5 L226,1252.5 L287,1253.0 L349,1252.6" fill="none" stroke="#fff" stroke-opacity="0.87" stroke-width="2.5"/>
<path d="M102,1253.7 Q105,1256.2 102,1259.2" fill="none" stroke="#f0f0f0" stroke-opacity="0.55" stroke-width="1.1"/>
<path d="M222,1253.7 Q225,1256.2 222,1259.2" fill="none" stroke="#f0f0f0" stroke-opacity="0.55" stroke-width="1.1"/>
<path d="M344,1253.7 Q347,1256.2 344,1259.2" fill="none" stroke="#f0f0f0" stroke-opacity="0.55" stroke-width="1.1"/>
<rect x="40" y="1259.7" width="309" height="8.2" fill="#939393"/>
<path d="M40,1259.6 L102,1258.6 L164,1259.9 L226,1260.4 L287,1258.8 L349,1260.0" fill="none" stroke="#fff" stroke-opacity="0.75" stroke-width="2.5"/>
<path d="M72,1260.7 Q76,1263.6 72,1266.9" fill="none" stroke="#f0f0f0" stroke-opacity="0.55" stroke-width="1.1"/>
<path d="M188,1260.7 Q192,1263.6 188,1266.9" fill="none" stroke="#f0f0f0" stroke-opacity="0.55" stroke-width="1.1"/>
<rect x="40" y="1267.4" width="309" height="8.5" fill="#9e9e9e"/>
<path d="M40,1266.3 L102,1266.2 L164,1267.5 L226,1266.6 L287,1267.2 L349,1267.2" fill="none" stroke="#fff" stroke-opacity="0.96" stroke-width="2.3"/>
<path d="M60,1268.4 Q64,1271.4 60,1274.9" fill="none" stroke="#f0f0f0" stroke-opacity="0.55" stroke-width="1.1"/>
<path d="M192,1268.4 Q196,1271.4 192,1274.9" fill="none" stroke="#f0f0f0" stroke-opacity="0.55" stroke-width="1.1"/>
<path d="M312,1268.4 Q316,1271.4 312,1274.9" fill="none" stroke="#f0f0f0" stroke-opacity="0.55" stroke-width="1.1"/>
<rect x="40" y="1275.4" width="309" height="10.3" fill="#9c9c9c"/>
<path d="M40,1276.1 L102,1274.5 L164,1274.9 L226,1276.5 L287,1276.4 L349,1276.2" fill="none" stroke="#fff" stroke-opacity="0.88" stroke-width="2.8"/>
<path d="M225,1276.4 Q230,1280.3 225,1284.7" fill="none" stroke="#f0f0f0" stroke-opacity="0.55" stroke-width="1.1"/>
<rect x="40" y="1285.2" width="309" height="9.6" fill="#989898"/>
<path d="M40,1285.4 L102,1286.2 L164,1285.5 L226,1284.4 L287,1284.1 L349,1285.4" fill="none" stroke="#fff" stroke-opacity="0.97" stroke-width="1.8"/>
<path d="M220,1286.2 Q224,1289.8 220,1293.9" fill="none" stroke="#f0f0f0" stroke-opacity="0.55" stroke-width="1.1"/>
<rect x="40" y="1294.4" width="309" height="6.1" fill="#9b9b9b"/>
<path d="M40,1295.1 L102,1294.2 L164,1294.0 L226,1295.3 L287,1294.1 L349,1294.8" fill="none" stroke="#fff" stroke-opacity="0.94" stroke-width="2.7"/>
<path d="M122,1295.4 Q125,1297.2 122,1299.4" fill="none" stroke="#f0f0f0" stroke-opacity="0.55" stroke-width="1.1"/>
<path d="M263,1295.4 Q266,1297.2 263,1299.4" fill="none" stroke="#f0f0f0" stroke-opacity="0.55" stroke-width="1.1"/>
<rect x="40" y="1299.9" width="309" height="8.4" fill="#9d9d9d"/>
<path d="M40,1298.9 L102,1299.8 L164,1299.3 L226,1299.1 L287,1300.1 L349,1299.7" fill="none" stroke="#fff" stroke-opacity="0.87" stroke-width="2.5"/>
<path d="M66,1300.9 Q70,1303.9 66,1307.4" fill="none" stroke="#f0f0f0" stroke-opacity="0.55" stroke-width="1.1"/>
<path d="M216,1300.9 Q220,1303.9 216,1307.4" fill="none" stroke="#f0f0f0" stroke-opacity="0.55" stroke-width="1.1"/>
<rect x="40" y="1307.9" width="309" height="6.4" fill="#939393"/>
<path d="M40,1307.9 L102,1307.9 L164,1307.0 L226,1307.4 L287,1306.7 L349,1308.4" fill="none" stroke="#fff" stroke-opacity="0.96" stroke-width="2.1"/>
<path d="M182,1308.9 Q185,1310.8 182,1313.3" fill="none" stroke="#f0f0f0" stroke-opacity="0.55" stroke-width="1.1"/>
<path d="M294,1308.9 Q297,1310.8 294,1313.3" fill="none" stroke="#f0f0f0" stroke-opacity="0.55" stroke-width="1.1"/>
<rect x="40" y="1313.8" width="309" height="7.9" fill="#9d9d9d"/>
<path d="M40,1314.2 L102,1313.3 L164,1314.2 L226,1312.9 L287,1314.8 L349,1315.0" fill="none" stroke="#fff" stroke-opacity="0.99" stroke-width="2.7"/>
<path d="M172,1314.8 Q176,1317.5 172,1320.7" fill="none" stroke="#f0f0f0" stroke-opacity="0.55" stroke-width="1.1"/>
<path d="M273,1314.8 Q277,1317.5 273,1320.7" fill="none" stroke="#f0f0f0" stroke-opacity="0.55" stroke-width="1.1"/>
<rect x="40" y="1321.2" width="309" height="5.9" fill="#a2a2a2"/>
<path d="M40,1321.3 L102,1321.1 L164,1320.7 L226,1322.2 L287,1321.4 L349,1320.3" fill="none" stroke="#fff" stroke-opacity="0.84" stroke-width="2.7"/>
<path d="M193,1322.2 Q196,1323.9 193,1326.1" fill="none" stroke="#f0f0f0" stroke-opacity="0.55" stroke-width="1.1"/>
<rect x="40" y="1326.6" width="309" height="8.5" fill="#9d9d9d"/>
<path d="M40,1327.2 L102,1325.7 L164,1326.0 L226,1327.7 L287,1325.8 L349,1327.2" fill="none" stroke="#fff" stroke-opacity="0.78" stroke-width="1.5"/>
<path d="M181,1327.6 Q185,1330.6 181,1334.1" fill="none" stroke="#f0f0f0" stroke-opacity="0.55" stroke-width="1.1"/>
<path d="M316,1327.6 Q320,1330.6 316,1334.1" fill="none" stroke="#f0f0f0" stroke-opacity="0.55" stroke-width="1.1"/>
<rect x="40" y="1334.6" width="309" height="7.2" fill="#9c9c9c"/>
<path d="M40,1335.5 L102,1335.7 L164,1335.2 L226,1333.6 L287,1334.4 L349,1334.6" fill="none" stroke="#fff" stroke-opacity="0.94" stroke-width="1.5"/>
<path d="M157,1335.6 Q161,1338.0 157,1340.8" fill="none" stroke="#f0f0f0" stroke-opacity="0.55" stroke-width="1.1"/>
<path d="M323,1335.6 Q326,1338.0 323,1340.8" fill="none" stroke="#f0f0f0" stroke-opacity="0.55" stroke-width="1.1"/>
<rect x="40" y="1341.3" width="309" height="6.5" fill="#919191"/>
<path d="M40,1341.1 L102,1340.2 L164,1342.5 L226,1341.9 L287,1341.0 L349,1341.8" fill="none" stroke="#fff" stroke-opacity="0.85" stroke-width="2.7"/>
<path d="M70,1342.3 Q73,1344.3 70,1346.8" fill="none" stroke="#f0f0f0" stroke-opacity="0.55" stroke-width="1.1"/>
<path d="M209,1342.3 Q212,1344.3 209,1346.8" fill="none" stroke="#f0f0f0" stroke-opacity="0.55" stroke-width="1.1"/>
<rect x="40" y="1347.3" width="309" height="9.1" fill="#8c8c8c"/>
<path d="M40,1348.5 L102,1348.3 L164,1348.1 L226,1346.4 L287,1348.4 L349,1348.1" fill="none" stroke="#fff" stroke-opacity="0.90" stroke-width="1.6"/>
<path d="M202,1348.3 Q206,1351.6 202,1355.4" fill="none" stroke="#f0f0f0" stroke-opacity="0.55" stroke-width="1.1"/>
<rect x="40" y="1355.9" width="309" height="9.0" fill="#8d8d8d"/>
<path d="M40,1355.4 L102,1355.1 L164,1354.9 L226,1356.2 L287,1355.5 L349,1357.0" fill="none" stroke="#fff" stroke-opacity="0.96" stroke-width="2.2"/>
<path d="M51,1356.9 Q55,1360.1 51,1363.9" fill="none" stroke="#f0f0f0" stroke-opacity="0.55" stroke-width="1.1"/>
<path d="M192,1356.9 Q197,1360.1 192,1363.9" fill="none" stroke="#f0f0f0" stroke-opacity="0.55" stroke-width="1.1"/>
<path d="M336,1356.9 Q340,1360.1 336,1363.9" fill="none" stroke="#f0f0f0" stroke-opacity="0.55" stroke-width="1.1"/>
</g>
<rect x="110.5" y="1357.4" width="168.7" height="12.0" fill="#7c7c7c"/>
</g>
<g clip-path="url(#cp31)">
<rect x="288.0" y="1230.0" width="188.1" height="139.4" fill="#8e8e8e"/>
<rect x="288.0" y="1230.0" width="188.1" height="10.0" fill="#767676"/>
<g transform="rotate(0.5 382 1300)">
<rect x="218" y="1240.0" width="328" height="10.1" fill="#a0a0a0"/>
<path d="M218,1239.9 L284,1240.7 L349,1240.2 L415,1240.2 L480,1239.2 L546,1240.8" fill="none" stroke="#fff" stroke-opacity="0.84" stroke-width="1.5"/>
<path d="M347,1241.0 Q352,1244.8 347,1249.1" fill="none" stroke="#f0f0f0" stroke-opacity="0.55" stroke-width="1.1"/>
<path d="M473,1241.0 Q477,1244.8 473,1249.1" fill="none" stroke="#f0f0f0" stroke-opacity="0.55" stroke-width="1.1"/>
<rect x="218" y="1249.6" width="328" height="7.9" fill="#8d8d8d"/>
<path d="M218,1248.5 L284,1249.8 L349,1248.9 L415,1250.6 L480,1249.9 L546,1250.1" fill="none" stroke="#fff" stroke-opacity="0.89" stroke-width="2.7"/>
<path d="M230,1250.6 Q234,1253.3 230,1256.5" fill="none" stroke="#f0f0f0" stroke-opacity="0.55" stroke-width="1.1"/>
<path d="M383,1250.6 Q387,1253.3 383,1256.5" fill="none" stroke="#f0f0f0" stroke-opacity="0.55" stroke-width="1.1"/>
<path d="M508,1250.6 Q511,1253.3 508,1256.5" fill="none" stroke="#f0f0f0" stroke-opacity="0.55" stroke-width="1.1"/>
<rect x="218" y="1257.0" width="328" height="9.9" fill="#999999"/>
<path d="M218,1257.6 L284,1257.6 L349,1256.1 L415,1257.1 L480,1256.7 L546,1255.9" fill="none" stroke="#fff" stroke-opacity="0.91" stroke-width="2.4"/>
<path d="M333,1258.0 Q338,1261.7 333,1265.9" fill="none" stroke="#f0f0f0" stroke-opacity="0.55" stroke-width="1.1"/>
<path d="M456,1258.0 Q461,1261.7 456,1265.9" fill="none" stroke="#f0f0f0" stroke-opacity="0.55" stroke-width="1.1"/>
<rect x="218" y="1266.4" width="328" height="8.1" fill="#949494"/>
<path d="M218,1266.9 L284,1266.0 L349,1267.3 L415,1266.7 L480,1266.9 L546,1266.1" fill="none" stroke="#fff" stroke-opacity="0.85" stroke-width="2.7"/>
<path d="M408,1267.4 Q412,1270.2 408,1273.5" fill="none" stroke="#f0f0f0" stroke-opacity="0.55" stroke-width="1.1"/>
<rect x="218" y="1274.0" width="328" height="9.5" fill="#a5a5a5"/>
<path d="M218,1273.1 L284,1273.6 L349,1273.7 L415,1273.7 L480,1273.4 L546,1273.1" fill="none" stroke="#fff" stroke-opacity="0.96" stroke-width="2.1"/>
<path d="M341,1275.0 Q346,1278.5 341,1282.5" fill="none" stroke="#f0f0f0" stroke-opacity="0.55" stroke-width="1.1"/>
<path d="M522,1275.0 Q527,1278.5 522,1282.5" fill="none" stroke="#f0f0f0" stroke-opacity="0.55" stroke-width="1.1"/>
<rect x="218" y="1283.0" width="328" height="7.7" fill="#959595"/>
<path d="M218,1282.8 L284,1282.6 L349,1284.2 L415,1282.0 L480,1282.9 L546,1283.8" fill="none" stroke="#fff" stroke-opacity="0.93" stroke-width="1.4"/>
<path d="M237,1284.0 Q241,1286.6 237,1289.7" fill="none" stroke="#f0f0f0" stroke-opacity="0.55" stroke-width="1.1"/>
<path d="M346,1284.0 Q349,1286.6 346,1289.7" fill="none" stroke="#f0f0f0" stroke-opacity="0.55" stroke-width="1.1"/>
<path d="M486,1284.0 Q489,1286.6 486,1289.7" fill="none" stroke="#f0f0f0" stroke-opacity="0.55" stroke-width="1.1"/>
<rect x="218" y="1290.2" width="328" height="9.7" fill="#a5a5a5"/>
<path d="M218,1290.4 L284,1289.5 L349,1290.8 L415,1290.8 L480,1291.2 L546,1289.9" fill="none" stroke="#fff" stroke-opacity="0.90" stroke-width="2.5"/>
<path d="M314,1291.2 Q319,1294.9 314,1299.0" fill="none" stroke="#f0f0f0" stroke-opacity="0.55" stroke-width="1.1"/>
<path d="M461,1291.2 Q465,1294.9 461,1299.0" fill="none" stroke="#f0f0f0" stroke-opacity="0.55" stroke-width="1.1"/>
<rect x="218" y="1299.5" width="328" height="6.6" fill="#9d9d9d"/>
<path d="M218,1299.7 L284,1300.2 L349,1298.6 L415,1300.3 L480,1300.1 L546,1300.0" fill="none" stroke="#fff" stroke-opacity="0.96" stroke-width="2.1"/>
<path d="M308,1300.5 Q311,1302.5 308,1305.1" fill="none" stroke="#f0f0f0" stroke-opacity="0.55" stroke-width="1.1"/>
<path d="M427,1300.5 Q430,1302.5 427,1305.1" fill="none" stroke="#f0f0f0" stroke-opacity="0.55" stroke-width="1.1"/>
<rect x="218" y="1305.6" width="328" height="5.5" fill="#969696"/>
<path d="M218,1306.8 L284,1305.2 L349,1304.8 L415,1305.4 L480,1306.1 L546,1306.4" fill="none" stroke="#fff" stroke-opacity="0.78" stroke-width="2.1"/>
<path d="M385,1306.6 Q387,1308.1 385,1310.1" fill="none" stroke="#f0f0f0" stroke-opacity="0.55" stroke-width="1.1"/>
<rect x="218" y="1310.6" width="328" height="8.9" fill="#909090"/>
<path d="M218,1309.6 L284,1310.4 L349,1309.9 L415,1311.6 L480,1309.6 L546,1309.6" fill="none" stroke="#fff" stroke-opacity="1.00" stroke-width="2.5"/>
<path d="M316,1311.6 Q320,1314.8 316,1318.5" fill="none" stroke="#f0f0f0" stroke-opacity="0.55" stroke-width="1.1"/>
<path d="M458,1311.6 Q462,1314.8 458,1318.5" fill="none" stroke="#f0f0f0" stroke-opacity="0.55" stroke-width="1.1"/>
<rect x="218" y="1319.0" width="328" height="9.0" fill="#929292"/>
<path d="M218,1318.8 L284,1320.2 L349,1318.5 L415,1318.1 L480,1317.9 L546,1319.9" fill="none" stroke="#fff" stroke-opacity="0.79" stroke-width="2.2"/>
<path d="M301,1320.0 Q305,1323.3 301,1327.1" fill="none" stroke="#f0f0f0" stroke-opacity="0.55" stroke-width="1.1"/>
<path d="M451,1320.0 Q455,1323.3 451,1327.1" fill="none" stroke="#f0f0f0" stroke-opacity="0.55" stroke-width="1.1"/>
<rect x="218" y="1327.6" width="328" height="7.0" fill="#8d8d8d"/>
<path d="M218,1327.4 L284,1327.5 L349,1327.2 L415,1327.9 L480,1327.6 L546,1327.0" fill="none" stroke="#fff" stroke-opacity="0.78" stroke-width="1.9"/>
<path d="M388,1328.6 Q391,1330.8 388,1333.6" fill="none" stroke="#f0f0f0" stroke-opacity="0.55" stroke-width="1.1"/>
<rect x="218" y="1334.1" width="328" height="6.5" fill="#909090"/>
<path d="M218,1334.1 L284,1334.1 L349,1333.2 L415,1333.4 L480,1334.1 L546,1334.9" fill="none" stroke="#fff" stroke-opacity="0.96" stroke-width="1.7"/>
<path d="M252,1335.1 Q255,1337.1 252,1339.6" fill="none" stroke="#f0f0f0" stroke-opacity="0.55" stroke-width="1.1"/>
<path d="M417,1335.1 Q420,1337.1 417,1339.6" fill="none" stroke="#f0f0f0" stroke-opacity="0.55" stroke-width="1.1"/>
<path d="M507,1335.1 Q510,1337.1 507,1339.6" fill="none" stroke="#f0f0f0" stroke-opacity="0.55" stroke-width="1.1"/>
<rect x="218" y="1340.1" width="328" height="9.8" fill="#a2a2a2"/>
<path d="M218,1339.0 L284,1341.2 L349,1339.5 L415,1341.0 L480,1339.5 L546,1339.8" fill="none" stroke="#fff" stroke-opacity="0.82" stroke-width="1.6"/>
<path d="M238,1341.1 Q243,1344.8 238,1349.0" fill="none" stroke="#f0f0f0" stroke-opacity="0.55" stroke-width="1.1"/>
<path d="M409,1341.1 Q414,1344.8 409,1349.0" fill="none" stroke="#f0f0f0" stroke-opacity="0.55" stroke-width="1.1"/>
<rect x="218" y="1349.5" width="328" height="6.1" fill="#999999"/>
<path d="M218,1350.2 L284,1348.9 L349,1349.6 L415,1349.2 L480,1348.8 L546,1349.3" fill="none" stroke="#fff" stroke-opacity="0.79" stroke-width="2.1"/>
<path d="M414,1350.5 Q417,1352.3 414,1354.6" fill="none" stroke="#f0f0f0" stroke-opacity="0.55" stroke-width="1.1"/>
<path d="M517,1350.5 Q520,1352.3 517,1354.6" fill="none" stroke="#f0f0f0" stroke-opacity="0.55" stroke-width="1.1"/>
<rect x="218" y="1355.1" width="328" height="6.6" fill="#a5a5a5"/>
<path d="M218,1355.1 L284,1354.7 L349,1356.0 L415,1355.2 L480,1354.0 L546,1355.4" fill="none" stroke="#fff" stroke-opacity="0.87" stroke-width="2.4"/>
<path d="M414,1356.1 Q417,1358.1 414,1360.7" fill="none" stroke="#f0f0f0" stroke-opacity="0.55" stroke-width="1.1"/>
<path d="M530,1356.1 Q533,1358.1 530,1360.7" fill="none" stroke="#f0f0f0" stroke-opacity="0.55" stroke-width="1.1"/>
</g>
<rect x="288.0" y="1357.4" width="188.1" height="12.0" fill="#7c7c7c"/>
</g>
<g clip-path="url(#cp32)">
<rect x="484.9" y="1230.0" width="168.9" height="139.4" fill="#8e8e8e"/>
<rect x="484.9" y="1230.0" width="168.9" height="10.0" fill="#767676"/>
<g transform="rotate(0.5 569 1300)">
<rect x="415" y="1240.0" width="309" height="7.8" fill="#989898"/>
<path d="M415,1241.2 L477,1239.4 L538,1239.9 L600,1239.6 L662,1240.8 L724,1240.8" fill="none" stroke="#fff" stroke-opacity="0.85" stroke-width="2.7"/>
<path d="M418,1241.0 Q421,1243.6 418,1246.8" fill="none" stroke="#f0f0f0" stroke-opacity="0.55" stroke-width="1.1"/>
<path d="M539,1241.0 Q543,1243.6 539,1246.8" fill="none" stroke="#f0f0f0" stroke-opacity="0.55" stroke-width="1.1"/>
<path d="M632,1241.0 Q635,1243.6 632,1246.8" fill="none" stroke="#f0f0f0" stroke-opacity="0.55" stroke-width="1.1"/>
<rect x="415" y="1247.3" width="309" height="10.0" fill="#a5a5a5"/>
<path d="M415,1247.5 L477,1247.5 L538,1247.1 L600,1247.0 L662,1247.3 L724,1247.6" fill="none" stroke="#fff" stroke-opacity="0.79" stroke-width="2.6"/>
<path d="M547,1248.3 Q552,1252.0 547,1256.3" fill="none" stroke="#f0f0f0" stroke-opacity="0.55" stroke-width="1.1"/>
<rect x="415" y="1256.8" width="309" height="6.4" fill="#969696"/>
<path d="M415,1257.3 L477,1257.6 L538,1256.3 L600,1256.1 L662,1256.7 L724,1256.7" fill="none" stroke="#fff" stroke-opacity="0.86" stroke-width="1.6"/>
<path d="M470,1257.8 Q473,1259.8 470,1262.2" fill="none" stroke="#f0f0f0" stroke-opacity="0.55" stroke-width="1.1"/>
<path d="M644,1257.8 Q647,1259.8 644,1262.2" fill="none" stroke="#f0f0f0" stroke-opacity="0.55" stroke-width="1.1"/>
<rect x="415" y="1262.7" width="309" height="7.0" fill="#8d8d8d"/>
<path d="M415,1263.4 L477,1263.6 L538,1262.2 L600,1262.8 L662,1263.9 L724,1263.7" fill="none" stroke="#fff" stroke-opacity="0.89" stroke-width="2.3"/>
<path d="M526,1263.7 Q529,1266.0 526,1268.7" fill="none" stroke="#f0f0f0" stroke-opacity="0.55" stroke-width="1.1"/>
<path d="M675,1263.7 Q678,1266.0 675,1268.7" fill="none" stroke="#f0f0f0" stroke-opacity="0.55" stroke-width="1.1"/>
<rect x="415" y="1269.2" width="309" height="10.5" fill="#9e9e9e"/>
<path d="M415,1269.1 L477,1268.5 L538,1268.2 L600,1268.9 L662,1269.2 L724,1269.9" fill="none" stroke="#fff" stroke-opacity="0.99" stroke-width="1.6"/>
<path d="M539,1270.2 Q544,1274.2 539,1278.6" fill="none" stroke="#f0f0f0" stroke-opacity="0.55" stroke-width="1.1"/>
<path d="M720,1270.2 Q725,1274.2 720,1278.6" fill="none" stroke="#f0f0f0" stroke-opacity="0.55" stroke-width="1.1"/>
<rect x="415" y="1279.1" width="309" height="9.1" fill="#8c8c8c"/>
<path d="M415,1279.2 L477,1279.5 L538,1278.2 L600,1278.2 L662,1278.1 L724,1278.1" fill="none" stroke="#fff" stroke-opacity="0.86" stroke-width="2.4"/>
<path d="M579,1280.1 Q584,1283.4 579,1287.2" fill="none" stroke="#f0f0f0" stroke-opacity="0.55" stroke-width="1.1"/>
<rect x="415" y="1287.7" width="309" height="8.6" fill="#a4a4a4"/>
<path d="M415,1287.9 L477,1287.9 L538,1286.6 L600,1287.4 L662,1286.8 L724,1288.3" fill="none" stroke="#fff" stroke-opacity="0.78" stroke-width="1.5"/>
<path d="M447,1288.7 Q451,1291.8 447,1295.3" fill="none" stroke="#f0f0f0" stroke-opacity="0.55" stroke-width="1.1"/>
<path d="M561,1288.7 Q565,1291.8 561,1295.3" fill="none" stroke="#f0f0f0" stroke-opacity="0.55" stroke-width="1.1"/>
<path d="M688,1288.7 Q693,1291.8 688,1295.3" fill="none" stroke="#f0f0f0" stroke-opacity="0.55" stroke-width="1.1"/>
<rect x="415" y="1295.8" width="309" height="8.1" fill="#969696"/>
<path d="M415,1295.1 L477,1295.6 L538,1294.8 L600,1296.6 L662,1295.6 L724,1296.2" fill="none" stroke="#fff" stroke-opacity="0.84" stroke-width="1.9"/>
<path d="M452,1296.8 Q456,1299.6 452,1302.9" fill="none" stroke="#f0f0f0" stroke-opacity="0.55" stroke-width="1.1"/>
<path d="M564,1296.8 Q568,1299.6 564,1302.9" fill="none" stroke="#f0f0f0" stroke-opacity="0.55" stroke-width="1.1"/>
<rect x="415" y="1303.4" width="309" height="8.1" fill="#9d9d9d"/>
<path d="M415,1303.5 L477,1302.8 L538,1302.7 L600,1304.0 L662,1304.1 L724,1302.7" fill="none" stroke="#fff" stroke-opacity="0.89" stroke-width="1.6"/>
<path d="M526,1304.4 Q530,1307.2 526,1310.5" fill="none" stroke="#f0f0f0" stroke-opacity="0.55" stroke-width="1.1"/>
<path d="M619,1304.4 Q623,1307.2 619,1310.5" fill="none" stroke="#f0f0f0" stroke-opacity="0.55" stroke-width="1.1"/>
<rect x="415" y="1311.0" width="309" height="5.7" fill="#9e9e9e"/>
<path d="M415,1311.7 L477,1311.2 L538,1310.4 L600,1310.0 L662,1310.3 L724,1311.4" fill="none" stroke="#fff" stroke-opacity="0.97" stroke-width="2.1"/>
<path d="M453,1312.0 Q455,1313.6 453,1315.7" fill="none" stroke="#f0f0f0" stroke-opacity="0.55" stroke-width="1.1"/>
<path d="M640,1312.0 Q643,1313.6 640,1315.7" fill="none" stroke="#f0f0f0" stroke-opacity="0.55" stroke-width="1.1"/>
<rect x="415" y="1316.2" width="309" height="8.6" fill="#9d9d9d"/>
<path d="M415,1315.4 L477,1316.4 L538,1315.6 L600,1315.6 L662,1316.5 L724,1315.3" fill="none" stroke="#fff" stroke-opacity="0.90" stroke-width="1.8"/>
<path d="M613,1317.2 Q617,1320.3 613,1323.9" fill="none" stroke="#f0f0f0" stroke-opacity="0.55" stroke-width="1.1"/>
<rect x="415" y="1324.4" width="309" height="6.3" fill="#a2a2a2"/>
<path d="M415,1324.8 L477,1323.7 L538,1323.4 L600,1323.5 L662,1325.1 L724,1323.9" fill="none" stroke="#fff" stroke-opacity="0.97" stroke-width="2.5"/>
<path d="M422,1325.4 Q425,1327.3 422,1329.7" fill="none" stroke="#f0f0f0" stroke-opacity="0.55" stroke-width="1.1"/>
<path d="M531,1325.4 Q534,1327.3 531,1329.7" fill="none" stroke="#f0f0f0" stroke-opacity="0.55" stroke-width="1.1"/>
<path d="M707,1325.4 Q710,1327.3 707,1329.7" fill="none" stroke="#f0f0f0" stroke-opacity="0.55" stroke-width="1.1"/>
<rect x="415" y="1330.2" width="309" height="7.0" fill="#999999"/>
<path d="M415,1329.7 L477,1329.2 L538,1331.2 L600,1329.0 L662,1329.9 L724,1331.2" fill="none" stroke="#fff" stroke-opacity="0.87" stroke-width="2.7"/>
<path d="M537,1331.2 Q540,1333.4 537,1336.2" fill="none" stroke="#f0f0f0" stroke-opacity="0.55" stroke-width="1.1"/>
<path d="M704,1331.2 Q707,1333.4 704,1336.2" fill="none" stroke="#f0f0f0" stroke-opacity="0.55" stroke-width="1.1"/>
<rect x="415" y="1336.7" width="309" height="9.6" fill="#888888"/>
<path d="M415,1337.0 L477,1335.9 L538,1337.2 L600,1336.9 L662,1337.1 L724,1337.4" fill="none" stroke="#fff" stroke-opacity="0.95" stroke-width="2.1"/>
<path d="M443,1337.7 Q448,1341.2 443,1345.3" fill="none" stroke="#f0f0f0" stroke-opacity="0.55" stroke-width="1.1"/>
<path d="M589,1337.7 Q593,1341.2 589,1345.3" fill="none" stroke="#f0f0f0" stroke-opacity="0.55" stroke-width="1.1"/>
<rect x="415" y="1345.8" width="309" height="8.1" fill="#909090"/>
<path d="M415,1344.8 L477,1346.8 L538,1345.3 L600,1345.2 L662,1346.4 L724,1345.1" fill="none" stroke="#fff" stroke-opacity="0.83" stroke-width="2.5"/>
<path d="M513,1346.8 Q517,1349.6 513,1352.9" fill="none" stroke="#f0f0f0" stroke-opacity="0.55" stroke-width="1.1"/>
<path d="M702,1346.8 Q705,1349.6 702,1352.9" fill="none" stroke="#f0f0f0" stroke-opacity="0.55" stroke-width="1.1"/>
<rect x="415" y="1353.4" width="309" height="7.3" fill="#8c8c8c"/>
<path d="M415,1353.4 L477,1353.5 L538,1353.0 L600,1352.6 L662,1353.3 L724,1352.5" fill="none" stroke="#fff" stroke-opacity="0.83" stroke-width="2.5"/>
<path d="M585,1354.4 Q589,1356.8 585,1359.7" fill="none" stroke="#f0f0f0" stroke-opacity="0.55" stroke-width="1.1"/>
<path d="M701,1354.4 Q704,1356.8 701,1359.7" fill="none" stroke="#f0f0f0" stroke-opacity="0.55" stroke-width="1.1"/>
</g>
<rect x="484.9" y="1357.4" width="168.9" height="12.0" fill="#7c7c7c"/>
</g>
<path d="M205,731 L211,724 L242,721 L246,725 L241,731 L208,738 Z" fill="#ecca5c" fill-opacity="0.72"/>
<path d="M362,705 L366,700 L381,699.6 L385.5,705 L382,713.5 L366,714.3 Z" fill="#1ad8e6" fill-opacity="0.78"/>
<path d="M536,708 L541,701.5 L558,701 L560.4,706 L556,714 L540,716 Z" fill="#80e08a" fill-opacity="0.72"/>
<path d="M120,889 L123,887.5 L222,887.4 L224.5,891 L223.5,906 L160,907 L122,907.5 L119.9,903 Z" fill="#ecca5c" fill-opacity="0.72"/>
<path d="M361.4,936 L366,927 L420,927.5 L469.6,929 L465,948 L400,949.5 L370,951 L362,946 Z" fill="#1ad8e6" fill-opacity="0.78"/>
<path d="M573.8,897 L577,892 L640,891.9 L646.3,896 L644,915 L590,916.5 L575,914 Z" fill="#80e08a" fill-opacity="0.72"/>
<path d="M118.5,1093 L122,1081 L140,1082 L175,1097 L213,1115 L218.3,1124 L214,1131 L188,1128 L150,1113 L121,1101 Z" fill="#ecca5c" fill-opacity="0.72"/>
<path d="M348,1128 L352,1120 L372,1118.6 L400,1125 L430,1130 L433.8,1138 L430,1146.8 L390,1145 L360,1139 L349,1134 Z" fill="#1ad8e6" fill-opacity="0.78"/>
<path d="M569.3,1109 L572,1101 L595,1101 L640,1106 L644,1114 L643,1129 L600,1124 L575,1116 Z" fill="#80e08a" fill-opacity="0.72"/>
<path d="M118.5,1284 L130,1281 L200,1285 L270,1289 L276,1296 L272,1302 L200,1298 L140,1294 L120,1290 Z" fill="#ecca5c" fill-opacity="0.72"/>
<path d="M304,1292 L309,1288 L360,1287.7 L445,1291 L448.6,1296 L445,1302 L390,1303.4 L330,1301 L306,1298 Z" fill="#1ad8e6" fill-opacity="0.78"/>
<path d="M497.8,1291 L505,1287 L560,1286.8 L625,1290 L630.6,1295 L627,1302 L560,1301 L510,1298 Z" fill="#80e08a" fill-opacity="0.72"/>
<rect x="213.8" y="784.8" width="56.8" height="4.5" fill="#000"/>
<rect x="406.9" y="784.8" width="58.1" height="4.5" fill="#000"/>
<rect x="585.1" y="784.8" width="58.0" height="4.5" fill="#000"/>
<rect x="213.8" y="995.6" width="56.8" height="4.5" fill="#000"/>
<rect x="406.9" y="995.6" width="58.1" height="4.5" fill="#000"/>
<rect x="585.1" y="995.6" width="58.0" height="4.5" fill="#000"/>
<rect x="213.8" y="1210.6" width="56.8" height="4.5" fill="#000"/>
<rect x="406.9" y="1210.6" width="58.1" height="4.5" fill="#000"/>
<rect x="585.1" y="1210.6" width="58.0" height="4.5" fill="#000"/>
<rect x="231.0" y="1360.4" width="39.6" height="4.5" fill="#000"/>
<rect x="425.0" y="1360.4" width="40.0" height="4.5" fill="#000"/>
<rect x="602.3" y="1360.4" width="40.8" height="4.5" fill="#000"/>
<text transform="translate(748.5,655.3) scale(1,1.05)" font-size="44.5">e</text>
<rect x="1026.2" y="667.6" width="133.8" height="641.0" fill="#dad9d7"/>
<rect x="1297.2" y="667.6" width="141.1" height="641.0" fill="#dad9d7"/>
<line x1="885.5" y1="667.2" x2="885.5" y2="1309.4" stroke="#000" stroke-width="2"/>
<line x1="884.7" y1="1308.6" x2="1438.3" y2="1308.6" stroke="#000" stroke-width="2"/>
<line x1="881.5" y1="1296.0" x2="885.5" y2="1296.0" stroke="#000" stroke-width="1.8"/>
<text transform="translate(876.8,1306.2) scale(1,1.05)" font-size="28.3" text-anchor="end">0</text>
<line x1="881.5" y1="1154.0" x2="885.5" y2="1154.0" stroke="#000" stroke-width="1.8"/>
<text transform="translate(876.8,1164.2) scale(1,1.05)" font-size="28.3" text-anchor="end">100</text>
<line x1="881.5" y1="1011.9" x2="885.5" y2="1011.9" stroke="#000" stroke-width="1.8"/>
<text transform="translate(876.8,1022.1) scale(1,1.05)" font-size="28.3" text-anchor="end">200</text>
<line x1="881.5" y1="869.8" x2="885.5" y2="869.8" stroke="#000" stroke-width="1.8"/>
<text transform="translate(876.8,880.0) scale(1,1.05)" font-size="28.3" text-anchor="end">300</text>
<line x1="881.5" y1="727.8" x2="885.5" y2="727.8" stroke="#000" stroke-width="1.8"/>
<text transform="translate(876.8,738.0) scale(1,1.05)" font-size="28.3" text-anchor="end">400</text>
<text transform="translate(813.5,982.2) rotate(-90) scale(1,1.05)" font-size="28.1" text-anchor="middle">Cell length (µm)</text>
<text transform="translate(961.0,663.0) scale(1,1.05)" font-size="27.5" text-anchor="middle">21WL</text>
<text transform="translate(1088.0,663.0) scale(1,1.05)" font-size="27.5" text-anchor="middle">21FR</text>
<text transform="translate(1233.4,663.0) scale(1,1.05)" font-size="27.5" text-anchor="middle">30WL</text>
<text transform="translate(1375.0,663.0) scale(1,1.05)" font-size="27.5" text-anchor="middle">30FR</text>
<line x1="912.6" y1="1150.0" x2="912.6" y2="1226.8" stroke="#222" stroke-width="1.3"/>
<rect x="898.7" y="1185.4" width="27.8" height="30.2" fill="#d9c571" stroke="#2b2b2b" stroke-width="1.5"/>
<line x1="898.7" y1="1199.5" x2="926.5" y2="1199.5" stroke="#222" stroke-width="2.6"/>
<circle cx="907.5" cy="1150.0" r="3.1" fill="#393939" fill-opacity="0.3"/>
<circle cx="914.2" cy="1226.8" r="3.1" fill="#393939" fill-opacity="0.3"/>
<circle cx="907.4" cy="1225.6" r="3.1" fill="#393939" fill-opacity="0.3"/>
<circle cx="905.6" cy="1223.5" r="3.1" fill="#393939" fill-opacity="0.3"/>
<circle cx="917.8" cy="1221.5" r="3.1" fill="#393939" fill-opacity="0.3"/>
<circle cx="908.5" cy="1219.3" r="3.1" fill="#393939" fill-opacity="0.3"/>
<circle cx="908.6" cy="1217.7" r="3.1" fill="#393939" fill-opacity="0.3"/>
<circle cx="919.4" cy="1215.4" r="3.1" fill="#393939" fill-opacity="0.3"/>
<circle cx="917.8" cy="1214.6" r="3.1" fill="#393939" fill-opacity="0.3"/>
<circle cx="909.7" cy="1210.8" r="3.1" fill="#393939" fill-opacity="0.3"/>
<circle cx="919.1" cy="1206.9" r="3.1" fill="#393939" fill-opacity="0.3"/>
<circle cx="913.1" cy="1204.8" r="3.1" fill="#393939" fill-opacity="0.3"/>
<circle cx="915.1" cy="1201.4" r="3.1" fill="#393939" fill-opacity="0.3"/>
<circle cx="908.5" cy="1200.4" r="3.1" fill="#393939" fill-opacity="0.3"/>
<circle cx="918.8" cy="1197.1" r="3.1" fill="#393939" fill-opacity="0.3"/>
<circle cx="915.3" cy="1195.1" r="3.1" fill="#393939" fill-opacity="0.3"/>
<circle cx="919.1" cy="1192.1" r="3.1" fill="#393939" fill-opacity="0.3"/>
<circle cx="918.1" cy="1189.5" r="3.1" fill="#393939" fill-opacity="0.3"/>
<circle cx="909.8" cy="1188.2" r="3.1" fill="#393939" fill-opacity="0.3"/>
<circle cx="910.7" cy="1185.3" r="3.1" fill="#393939" fill-opacity="0.3"/>
<circle cx="907.9" cy="1178.8" r="3.1" fill="#393939" fill-opacity="0.3"/>
<circle cx="907.6" cy="1169.5" r="3.1" fill="#393939" fill-opacity="0.3"/>
<circle cx="906.5" cy="1164.1" r="3.1" fill="#393939" fill-opacity="0.3"/>
<circle cx="909.8" cy="1160.9" r="3.1" fill="#393939" fill-opacity="0.3"/>
<circle cx="914.0" cy="1151.6" r="3.1" fill="#393939" fill-opacity="0.3"/>
<circle cx="905.6" cy="1150.0" r="3.1" fill="#393939" fill-opacity="0.3"/>
<text transform="translate(914.4,1141.0) scale(1,1.05)" font-size="28.3" text-anchor="middle">de</text>
<text transform="translate(912.6,1305.6) scale(1,1.05)" font-size="25.8" text-anchor="middle" fill="#444">26</text>
<line x1="912.6" y1="1308.6" x2="912.6" y2="1312.6" stroke="#000" stroke-width="1.8"/>
<text transform="translate(920.6,1317.6) rotate(-90) scale(1,1.09)" font-size="27.5" text-anchor="end">Base</text>
<line x1="958.0" y1="1210.0" x2="958.0" y2="1251.5" stroke="#222" stroke-width="1.3"/>
<rect x="944.1" y="1219.6" width="27.8" height="16.8" fill="#2ecfd0" stroke="#2b2b2b" stroke-width="1.5"/>
<line x1="944.1" y1="1226.5" x2="971.9" y2="1226.5" stroke="#222" stroke-width="2.6"/>
<circle cx="964.1" cy="1210.0" r="3.1" fill="#393939" fill-opacity="0.3"/>
<circle cx="955.8" cy="1251.5" r="3.1" fill="#393939" fill-opacity="0.3"/>
<circle cx="955.9" cy="1249.9" r="3.1" fill="#393939" fill-opacity="0.3"/>
<circle cx="958.3" cy="1248.1" r="3.1" fill="#393939" fill-opacity="0.3"/>
<circle cx="961.8" cy="1245.6" r="3.1" fill="#393939" fill-opacity="0.3"/>
<circle cx="952.5" cy="1242.1" r="3.1" fill="#393939" fill-opacity="0.3"/>
<circle cx="961.4" cy="1240.2" r="3.1" fill="#393939" fill-opacity="0.3"/>
<circle cx="962.1" cy="1238.0" r="3.1" fill="#393939" fill-opacity="0.3"/>
<circle cx="963.0" cy="1235.6" r="3.1" fill="#393939" fill-opacity="0.3"/>
<circle cx="951.5" cy="1233.7" r="3.1" fill="#393939" fill-opacity="0.3"/>
<circle cx="964.2" cy="1232.9" r="3.1" fill="#393939" fill-opacity="0.3"/>
<circle cx="952.2" cy="1230.0" r="3.1" fill="#393939" fill-opacity="0.3"/>
<circle cx="955.7" cy="1229.6" r="3.1" fill="#393939" fill-opacity="0.3"/>
<circle cx="959.5" cy="1227.0" r="3.1" fill="#393939" fill-opacity="0.3"/>
<circle cx="963.8" cy="1225.6" r="3.1" fill="#393939" fill-opacity="0.3"/>
<circle cx="955.7" cy="1225.2" r="3.1" fill="#393939" fill-opacity="0.3"/>
<circle cx="963.9" cy="1223.4" r="3.1" fill="#393939" fill-opacity="0.3"/>
<circle cx="958.6" cy="1222.6" r="3.1" fill="#393939" fill-opacity="0.3"/>
<circle cx="955.3" cy="1221.3" r="3.1" fill="#393939" fill-opacity="0.3"/>
<circle cx="955.4" cy="1220.6" r="3.1" fill="#393939" fill-opacity="0.3"/>
<circle cx="953.4" cy="1219.4" r="3.1" fill="#393939" fill-opacity="0.3"/>
<circle cx="952.0" cy="1217.6" r="3.1" fill="#393939" fill-opacity="0.3"/>
<circle cx="953.0" cy="1215.0" r="3.1" fill="#393939" fill-opacity="0.3"/>
<circle cx="960.6" cy="1214.4" r="3.1" fill="#393939" fill-opacity="0.3"/>
<circle cx="964.9" cy="1212.1" r="3.1" fill="#393939" fill-opacity="0.3"/>
<circle cx="953.2" cy="1210.3" r="3.1" fill="#393939" fill-opacity="0.3"/>
<text transform="translate(959.8,1200.7) scale(1,1.05)" font-size="28.3" text-anchor="middle">e</text>
<text transform="translate(958.0,1305.6) scale(1,1.05)" font-size="25.8" text-anchor="middle" fill="#444">26</text>
<line x1="958.0" y1="1308.6" x2="958.0" y2="1312.6" stroke="#000" stroke-width="1.8"/>
<text transform="translate(966.0,1317.6) rotate(-90) scale(1,1.09)" font-size="27.5" text-anchor="end">Middle</text>
<line x1="1003.3" y1="1199.4" x2="1003.3" y2="1264.8" stroke="#222" stroke-width="1.3"/>
<rect x="989.4" y="1221.8" width="27.8" height="28.6" fill="#80cc88" stroke="#2b2b2b" stroke-width="1.5"/>
<line x1="989.4" y1="1234.1" x2="1017.2" y2="1234.1" stroke="#222" stroke-width="2.6"/>
<circle cx="1010.3" cy="1199.4" r="3.1" fill="#393939" fill-opacity="0.3"/>
<circle cx="1008.2" cy="1264.8" r="3.1" fill="#393939" fill-opacity="0.3"/>
<circle cx="1010.0" cy="1264.5" r="3.1" fill="#393939" fill-opacity="0.3"/>
<circle cx="1002.6" cy="1260.4" r="3.1" fill="#393939" fill-opacity="0.3"/>
<circle cx="1003.1" cy="1259.0" r="3.1" fill="#393939" fill-opacity="0.3"/>
<circle cx="1006.5" cy="1256.9" r="3.1" fill="#393939" fill-opacity="0.3"/>
<circle cx="1003.0" cy="1254.9" r="3.1" fill="#393939" fill-opacity="0.3"/>
<circle cx="1000.4" cy="1252.0" r="3.1" fill="#393939" fill-opacity="0.3"/>
<circle cx="1002.0" cy="1249.1" r="3.1" fill="#393939" fill-opacity="0.3"/>
<circle cx="998.4" cy="1247.2" r="3.1" fill="#393939" fill-opacity="0.3"/>
<circle cx="1001.6" cy="1244.7" r="3.1" fill="#393939" fill-opacity="0.3"/>
<circle cx="1010.1" cy="1242.9" r="3.1" fill="#393939" fill-opacity="0.3"/>
<circle cx="1009.7" cy="1238.4" r="3.1" fill="#393939" fill-opacity="0.3"/>
<circle cx="1005.1" cy="1237.7" r="3.1" fill="#393939" fill-opacity="0.3"/>
<circle cx="1003.3" cy="1234.1" r="3.1" fill="#393939" fill-opacity="0.3"/>
<circle cx="1001.0" cy="1231.6" r="3.1" fill="#393939" fill-opacity="0.3"/>
<circle cx="997.5" cy="1230.7" r="3.1" fill="#393939" fill-opacity="0.3"/>
<circle cx="1000.1" cy="1227.8" r="3.1" fill="#393939" fill-opacity="0.3"/>
<circle cx="1007.2" cy="1225.5" r="3.1" fill="#393939" fill-opacity="0.3"/>
<circle cx="1008.4" cy="1224.1" r="3.1" fill="#393939" fill-opacity="0.3"/>
<circle cx="1001.4" cy="1221.8" r="3.1" fill="#393939" fill-opacity="0.3"/>
<circle cx="1007.3" cy="1220.2" r="3.1" fill="#393939" fill-opacity="0.3"/>
<circle cx="1007.1" cy="1215.7" r="3.1" fill="#393939" fill-opacity="0.3"/>
<circle cx="1006.0" cy="1212.9" r="3.1" fill="#393939" fill-opacity="0.3"/>
<circle cx="1005.6" cy="1207.4" r="3.1" fill="#393939" fill-opacity="0.3"/>
<circle cx="1006.9" cy="1205.4" r="3.1" fill="#393939" fill-opacity="0.3"/>
<circle cx="1001.4" cy="1201.3" r="3.1" fill="#393939" fill-opacity="0.3"/>
<text transform="translate(1005.1,1190.5) scale(1,1.05)" font-size="28.3" text-anchor="middle">e</text>
<text transform="translate(1003.3,1305.6) scale(1,1.05)" font-size="25.8" text-anchor="middle" fill="#444">27</text>
<line x1="1003.3" y1="1308.6" x2="1003.3" y2="1312.6" stroke="#000" stroke-width="1.8"/>
<text transform="translate(1011.3,1317.6) rotate(-90) scale(1,1.09)" font-size="27.5" text-anchor="end">Apex</text>
<line x1="1048.7" y1="969.3" x2="1048.7" y2="1131.2" stroke="#222" stroke-width="1.3"/>
<rect x="1034.8" y="1050.3" width="27.8" height="59.2" fill="#d9c571" stroke="#2b2b2b" stroke-width="1.5"/>
<line x1="1034.8" y1="1080.6" x2="1062.6" y2="1080.6" stroke="#222" stroke-width="2.6"/>
<circle cx="1050.7" cy="969.3" r="3.1" fill="#393939" fill-opacity="0.3"/>
<circle cx="1052.0" cy="1131.2" r="3.1" fill="#393939" fill-opacity="0.3"/>
<circle cx="1053.2" cy="1128.0" r="3.1" fill="#393939" fill-opacity="0.3"/>
<circle cx="1046.6" cy="1124.8" r="3.1" fill="#393939" fill-opacity="0.3"/>
<circle cx="1053.5" cy="1119.2" r="3.1" fill="#393939" fill-opacity="0.3"/>
<circle cx="1053.8" cy="1113.3" r="3.1" fill="#393939" fill-opacity="0.3"/>
<circle cx="1051.3" cy="1108.5" r="3.1" fill="#393939" fill-opacity="0.3"/>
<circle cx="1055.3" cy="1104.1" r="3.1" fill="#393939" fill-opacity="0.3"/>
<circle cx="1055.0" cy="1094.4" r="3.1" fill="#393939" fill-opacity="0.3"/>
<circle cx="1048.9" cy="1089.5" r="3.1" fill="#393939" fill-opacity="0.3"/>
<circle cx="1049.1" cy="1083.4" r="3.1" fill="#393939" fill-opacity="0.3"/>
<circle cx="1044.0" cy="1079.9" r="3.1" fill="#393939" fill-opacity="0.3"/>
<circle cx="1053.4" cy="1070.2" r="3.1" fill="#393939" fill-opacity="0.3"/>
<circle cx="1054.8" cy="1065.1" r="3.1" fill="#393939" fill-opacity="0.3"/>
<circle cx="1048.3" cy="1056.1" r="3.1" fill="#393939" fill-opacity="0.3"/>
<circle cx="1051.3" cy="1050.5" r="3.1" fill="#393939" fill-opacity="0.3"/>
<circle cx="1051.7" cy="1027.7" r="3.1" fill="#393939" fill-opacity="0.3"/>
<circle cx="1051.9" cy="1012.2" r="3.1" fill="#393939" fill-opacity="0.3"/>
<circle cx="1044.1" cy="992.0" r="3.1" fill="#393939" fill-opacity="0.3"/>
<circle cx="1052.6" cy="980.5" r="3.1" fill="#393939" fill-opacity="0.3"/>
<circle cx="1049.8" cy="951.0" r="3.1" fill="#393939" fill-opacity="0.3"/>
<text transform="translate(1050.5,942.5) scale(1,1.05)" font-size="28.3" text-anchor="middle">b</text>
<text transform="translate(1048.7,1305.6) scale(1,1.05)" font-size="25.8" text-anchor="middle" fill="#444">21</text>
<line x1="1048.7" y1="1308.6" x2="1048.7" y2="1312.6" stroke="#000" stroke-width="1.8"/>
<text transform="translate(1056.7,1317.6) rotate(-90) scale(1,1.09)" font-size="27.5" text-anchor="end">Base</text>
<line x1="1094.0" y1="1085.7" x2="1094.0" y2="1162.6" stroke="#222" stroke-width="1.3"/>
<rect x="1080.1" y="1101.9" width="27.8" height="36.9" fill="#2ecfd0" stroke="#2b2b2b" stroke-width="1.5"/>
<line x1="1080.1" y1="1117.6" x2="1107.9" y2="1117.6" stroke="#222" stroke-width="2.6"/>
<circle cx="1089.5" cy="1085.7" r="3.1" fill="#393939" fill-opacity="0.3"/>
<circle cx="1089.7" cy="1162.6" r="3.1" fill="#393939" fill-opacity="0.3"/>
<circle cx="1087.5" cy="1159.4" r="3.1" fill="#393939" fill-opacity="0.3"/>
<circle cx="1093.5" cy="1155.4" r="3.1" fill="#393939" fill-opacity="0.3"/>
<circle cx="1092.3" cy="1149.6" r="3.1" fill="#393939" fill-opacity="0.3"/>
<circle cx="1095.6" cy="1144.0" r="3.1" fill="#393939" fill-opacity="0.3"/>
<circle cx="1095.3" cy="1139.5" r="3.1" fill="#393939" fill-opacity="0.3"/>
<circle cx="1090.3" cy="1134.7" r="3.1" fill="#393939" fill-opacity="0.3"/>
<circle cx="1099.6" cy="1132.7" r="3.1" fill="#393939" fill-opacity="0.3"/>
<circle cx="1087.0" cy="1127.7" r="3.1" fill="#393939" fill-opacity="0.3"/>
<circle cx="1092.7" cy="1122.3" r="3.1" fill="#393939" fill-opacity="0.3"/>
<circle cx="1090.9" cy="1117.2" r="3.1" fill="#393939" fill-opacity="0.3"/>
<circle cx="1092.7" cy="1115.0" r="3.1" fill="#393939" fill-opacity="0.3"/>
<circle cx="1088.6" cy="1110.5" r="3.1" fill="#393939" fill-opacity="0.3"/>
<circle cx="1098.6" cy="1107.3" r="3.1" fill="#393939" fill-opacity="0.3"/>
<circle cx="1092.2" cy="1105.6" r="3.1" fill="#393939" fill-opacity="0.3"/>
<circle cx="1087.5" cy="1101.1" r="3.1" fill="#393939" fill-opacity="0.3"/>
<circle cx="1095.6" cy="1098.4" r="3.1" fill="#393939" fill-opacity="0.3"/>
<circle cx="1088.3" cy="1095.4" r="3.1" fill="#393939" fill-opacity="0.3"/>
<circle cx="1094.6" cy="1091.8" r="3.1" fill="#393939" fill-opacity="0.3"/>
<circle cx="1091.8" cy="1087.9" r="3.1" fill="#393939" fill-opacity="0.3"/>
<circle cx="1095.1" cy="1020.0" r="3.1" fill="#393939" fill-opacity="0.3"/>
<circle cx="1100.4" cy="1026.0" r="3.1" fill="#393939" fill-opacity="0.3"/>
<circle cx="1098.5" cy="1035.0" r="3.1" fill="#393939" fill-opacity="0.3"/>
<text transform="translate(1095.8,1078.0) scale(1,1.05)" font-size="28.3" text-anchor="middle">bc</text>
<text transform="translate(1094.0,1305.6) scale(1,1.05)" font-size="25.8" text-anchor="middle" fill="#444">24</text>
<line x1="1094.0" y1="1308.6" x2="1094.0" y2="1312.6" stroke="#000" stroke-width="1.8"/>
<text transform="translate(1102.0,1317.6) rotate(-90) scale(1,1.09)" font-size="27.5" text-anchor="end">Middle</text>
<line x1="1139.3" y1="1141.4" x2="1139.3" y2="1223.4" stroke="#222" stroke-width="1.3"/>
<rect x="1125.4" y="1170.2" width="27.8" height="24.3" fill="#80cc88" stroke="#2b2b2b" stroke-width="1.5"/>
<line x1="1125.4" y1="1186.9" x2="1153.2" y2="1186.9" stroke="#222" stroke-width="2.6"/>
<circle cx="1146.0" cy="1141.4" r="3.1" fill="#393939" fill-opacity="0.3"/>
<circle cx="1137.7" cy="1223.4" r="3.1" fill="#393939" fill-opacity="0.3"/>
<circle cx="1145.8" cy="1221.2" r="3.1" fill="#393939" fill-opacity="0.3"/>
<circle cx="1145.1" cy="1214.6" r="3.1" fill="#393939" fill-opacity="0.3"/>
<circle cx="1140.7" cy="1210.3" r="3.1" fill="#393939" fill-opacity="0.3"/>
<circle cx="1136.0" cy="1206.3" r="3.1" fill="#393939" fill-opacity="0.3"/>
<circle cx="1146.1" cy="1202.2" r="3.1" fill="#393939" fill-opacity="0.3"/>
<circle cx="1139.3" cy="1195.4" r="3.1" fill="#393939" fill-opacity="0.3"/>
<circle cx="1138.2" cy="1193.4" r="3.1" fill="#393939" fill-opacity="0.3"/>
<circle cx="1136.8" cy="1191.7" r="3.1" fill="#393939" fill-opacity="0.3"/>
<circle cx="1146.1" cy="1190.4" r="3.1" fill="#393939" fill-opacity="0.3"/>
<circle cx="1139.2" cy="1189.4" r="3.1" fill="#393939" fill-opacity="0.3"/>
<circle cx="1136.4" cy="1188.4" r="3.1" fill="#393939" fill-opacity="0.3"/>
<circle cx="1139.0" cy="1186.0" r="3.1" fill="#393939" fill-opacity="0.3"/>
<circle cx="1134.1" cy="1185.2" r="3.1" fill="#393939" fill-opacity="0.3"/>
<circle cx="1141.1" cy="1182.0" r="3.1" fill="#393939" fill-opacity="0.3"/>
<circle cx="1138.6" cy="1178.0" r="3.1" fill="#393939" fill-opacity="0.3"/>
<circle cx="1136.5" cy="1175.0" r="3.1" fill="#393939" fill-opacity="0.3"/>
<circle cx="1143.3" cy="1173.2" r="3.1" fill="#393939" fill-opacity="0.3"/>
<circle cx="1143.9" cy="1168.4" r="3.1" fill="#393939" fill-opacity="0.3"/>
<circle cx="1132.5" cy="1162.4" r="3.1" fill="#393939" fill-opacity="0.3"/>
<circle cx="1139.8" cy="1159.4" r="3.1" fill="#393939" fill-opacity="0.3"/>
<circle cx="1136.2" cy="1154.2" r="3.1" fill="#393939" fill-opacity="0.3"/>
<circle cx="1145.4" cy="1150.0" r="3.1" fill="#393939" fill-opacity="0.3"/>
<circle cx="1143.3" cy="1144.7" r="3.1" fill="#393939" fill-opacity="0.3"/>
<text transform="translate(1141.1,1135.0) scale(1,1.05)" font-size="28.3" text-anchor="middle">de</text>
<text transform="translate(1139.3,1305.6) scale(1,1.05)" font-size="25.8" text-anchor="middle" fill="#444">25</text>
<line x1="1139.3" y1="1308.6" x2="1139.3" y2="1312.6" stroke="#000" stroke-width="1.8"/>
<text transform="translate(1147.3,1317.6) rotate(-90) scale(1,1.09)" font-size="27.5" text-anchor="end">Apex</text>
<line x1="1184.7" y1="964.2" x2="1184.7" y2="1157.6" stroke="#222" stroke-width="1.3"/>
<rect x="1170.8" y="1043.7" width="27.8" height="80.0" fill="#d9c571" stroke="#2b2b2b" stroke-width="1.5"/>
<line x1="1170.8" y1="1084.2" x2="1198.6" y2="1084.2" stroke="#222" stroke-width="2.6"/>
<circle cx="1178.2" cy="964.2" r="3.1" fill="#393939" fill-opacity="0.3"/>
<circle cx="1181.2" cy="1157.6" r="3.1" fill="#393939" fill-opacity="0.3"/>
<circle cx="1184.1" cy="1155.7" r="3.1" fill="#393939" fill-opacity="0.3"/>
<circle cx="1190.5" cy="1149.1" r="3.1" fill="#393939" fill-opacity="0.3"/>
<circle cx="1190.1" cy="1143.2" r="3.1" fill="#393939" fill-opacity="0.3"/>
<circle cx="1185.3" cy="1132.5" r="3.1" fill="#393939" fill-opacity="0.3"/>
<circle cx="1177.9" cy="1129.6" r="3.1" fill="#393939" fill-opacity="0.3"/>
<circle cx="1188.6" cy="1121.2" r="3.1" fill="#393939" fill-opacity="0.3"/>
<circle cx="1183.7" cy="1114.4" r="3.1" fill="#393939" fill-opacity="0.3"/>
<circle cx="1185.8" cy="1105.9" r="3.1" fill="#393939" fill-opacity="0.3"/>
<circle cx="1187.6" cy="1098.6" r="3.1" fill="#393939" fill-opacity="0.3"/>
<circle cx="1186.6" cy="1090.3" r="3.1" fill="#393939" fill-opacity="0.3"/>
<circle cx="1184.4" cy="1086.5" r="3.1" fill="#393939" fill-opacity="0.3"/>
<circle cx="1190.5" cy="1074.9" r="3.1" fill="#393939" fill-opacity="0.3"/>
<circle cx="1183.1" cy="1070.0" r="3.1" fill="#393939" fill-opacity="0.3"/>
<circle cx="1183.2" cy="1060.9" r="3.1" fill="#393939" fill-opacity="0.3"/>
<circle cx="1189.6" cy="1054.4" r="3.1" fill="#393939" fill-opacity="0.3"/>
<circle cx="1180.5" cy="1046.9" r="3.1" fill="#393939" fill-opacity="0.3"/>
<circle cx="1181.9" cy="1032.0" r="3.1" fill="#393939" fill-opacity="0.3"/>
<circle cx="1189.3" cy="1017.6" r="3.1" fill="#393939" fill-opacity="0.3"/>
<circle cx="1178.6" cy="1003.7" r="3.1" fill="#393939" fill-opacity="0.3"/>
<circle cx="1189.4" cy="983.9" r="3.1" fill="#393939" fill-opacity="0.3"/>
<circle cx="1187.4" cy="970.7" r="3.1" fill="#393939" fill-opacity="0.3"/>
<text transform="translate(1186.5,957.0) scale(1,1.05)" font-size="28.3" text-anchor="middle">b</text>
<text transform="translate(1184.7,1305.6) scale(1,1.05)" font-size="25.8" text-anchor="middle" fill="#444">23</text>
<line x1="1184.7" y1="1308.6" x2="1184.7" y2="1312.6" stroke="#000" stroke-width="1.8"/>
<text transform="translate(1192.7,1317.6) rotate(-90) scale(1,1.09)" font-size="27.5" text-anchor="end">Base</text>
<line x1="1230.0" y1="988.5" x2="1230.0" y2="1166.7" stroke="#222" stroke-width="1.3"/>
<rect x="1216.1" y="1064.0" width="27.8" height="63.2" fill="#2ecfd0" stroke="#2b2b2b" stroke-width="1.5"/>
<line x1="1216.1" y1="1093.3" x2="1244.0" y2="1093.3" stroke="#222" stroke-width="2.6"/>
<circle cx="1234.8" cy="988.5" r="3.1" fill="#393939" fill-opacity="0.3"/>
<circle cx="1226.1" cy="1166.7" r="3.1" fill="#393939" fill-opacity="0.3"/>
<circle cx="1232.1" cy="1163.6" r="3.1" fill="#393939" fill-opacity="0.3"/>
<circle cx="1236.4" cy="1157.6" r="3.1" fill="#393939" fill-opacity="0.3"/>
<circle cx="1233.0" cy="1148.0" r="3.1" fill="#393939" fill-opacity="0.3"/>
<circle cx="1224.9" cy="1140.4" r="3.1" fill="#393939" fill-opacity="0.3"/>
<circle cx="1227.1" cy="1137.8" r="3.1" fill="#393939" fill-opacity="0.3"/>
<circle cx="1235.9" cy="1129.0" r="3.1" fill="#393939" fill-opacity="0.3"/>
<circle cx="1225.1" cy="1122.5" r="3.1" fill="#393939" fill-opacity="0.3"/>
<circle cx="1231.6" cy="1116.9" r="3.1" fill="#393939" fill-opacity="0.3"/>
<circle cx="1228.8" cy="1111.8" r="3.1" fill="#393939" fill-opacity="0.3"/>
<circle cx="1225.3" cy="1106.7" r="3.1" fill="#393939" fill-opacity="0.3"/>
<circle cx="1231.8" cy="1098.8" r="3.1" fill="#393939" fill-opacity="0.3"/>
<circle cx="1223.7" cy="1092.0" r="3.1" fill="#393939" fill-opacity="0.3"/>
<circle cx="1224.6" cy="1090.0" r="3.1" fill="#393939" fill-opacity="0.3"/>
<circle cx="1228.4" cy="1084.2" r="3.1" fill="#393939" fill-opacity="0.3"/>
<circle cx="1224.1" cy="1076.7" r="3.1" fill="#393939" fill-opacity="0.3"/>
<circle cx="1223.9" cy="1071.7" r="3.1" fill="#393939" fill-opacity="0.3"/>
<circle cx="1231.1" cy="1067.2" r="3.1" fill="#393939" fill-opacity="0.3"/>
<circle cx="1233.4" cy="1064.7" r="3.1" fill="#393939" fill-opacity="0.3"/>
<circle cx="1235.3" cy="1045.2" r="3.1" fill="#393939" fill-opacity="0.3"/>
<circle cx="1224.9" cy="1029.4" r="3.1" fill="#393939" fill-opacity="0.3"/>
<circle cx="1229.1" cy="1016.1" r="3.1" fill="#393939" fill-opacity="0.3"/>
<circle cx="1227.5" cy="1006.1" r="3.1" fill="#393939" fill-opacity="0.3"/>
<circle cx="1231.5" cy="999.8" r="3.1" fill="#393939" fill-opacity="0.3"/>
<circle cx="1229.9" cy="933.0" r="3.1" fill="#393939" fill-opacity="0.3"/>
<text transform="translate(1231.8,981.0) scale(1,1.05)" font-size="28.3" text-anchor="middle">bc</text>
<text transform="translate(1230.0,1305.6) scale(1,1.05)" font-size="25.8" text-anchor="middle" fill="#444">26</text>
<line x1="1230.0" y1="1308.6" x2="1230.0" y2="1312.6" stroke="#000" stroke-width="1.8"/>
<text transform="translate(1238.0,1317.6) rotate(-90) scale(1,1.09)" font-size="27.5" text-anchor="end">Middle</text>
<line x1="1275.4" y1="1091.8" x2="1275.4" y2="1213.2" stroke="#222" stroke-width="1.3"/>
<rect x="1261.5" y="1119.6" width="27.8" height="39.4" fill="#80cc88" stroke="#2b2b2b" stroke-width="1.5"/>
<line x1="1261.5" y1="1145.4" x2="1289.3" y2="1145.4" stroke="#222" stroke-width="2.6"/>
<circle cx="1269.7" cy="1091.8" r="3.1" fill="#393939" fill-opacity="0.3"/>
<circle cx="1270.1" cy="1213.2" r="3.1" fill="#393939" fill-opacity="0.3"/>
<circle cx="1276.7" cy="1205.5" r="3.1" fill="#393939" fill-opacity="0.3"/>
<circle cx="1271.7" cy="1200.6" r="3.1" fill="#393939" fill-opacity="0.3"/>
<circle cx="1280.7" cy="1193.8" r="3.1" fill="#393939" fill-opacity="0.3"/>
<circle cx="1275.1" cy="1180.2" r="3.1" fill="#393939" fill-opacity="0.3"/>
<circle cx="1272.9" cy="1175.1" r="3.1" fill="#393939" fill-opacity="0.3"/>
<circle cx="1279.6" cy="1162.6" r="3.1" fill="#393939" fill-opacity="0.3"/>
<circle cx="1268.8" cy="1157.9" r="3.1" fill="#393939" fill-opacity="0.3"/>
<circle cx="1278.6" cy="1154.9" r="3.1" fill="#393939" fill-opacity="0.3"/>
<circle cx="1269.2" cy="1153.2" r="3.1" fill="#393939" fill-opacity="0.3"/>
<circle cx="1270.5" cy="1150.8" r="3.1" fill="#393939" fill-opacity="0.3"/>
<circle cx="1281.7" cy="1149.2" r="3.1" fill="#393939" fill-opacity="0.3"/>
<circle cx="1277.9" cy="1146.4" r="3.1" fill="#393939" fill-opacity="0.3"/>
<circle cx="1271.5" cy="1144.1" r="3.1" fill="#393939" fill-opacity="0.3"/>
<circle cx="1270.0" cy="1138.1" r="3.1" fill="#393939" fill-opacity="0.3"/>
<circle cx="1282.0" cy="1134.6" r="3.1" fill="#393939" fill-opacity="0.3"/>
<circle cx="1277.7" cy="1131.6" r="3.1" fill="#393939" fill-opacity="0.3"/>
<circle cx="1279.9" cy="1127.0" r="3.1" fill="#393939" fill-opacity="0.3"/>
<circle cx="1270.4" cy="1122.2" r="3.1" fill="#393939" fill-opacity="0.3"/>
<circle cx="1277.1" cy="1116.4" r="3.1" fill="#393939" fill-opacity="0.3"/>
<circle cx="1273.4" cy="1113.8" r="3.1" fill="#393939" fill-opacity="0.3"/>
<circle cx="1271.7" cy="1107.2" r="3.1" fill="#393939" fill-opacity="0.3"/>
<circle cx="1273.1" cy="1102.8" r="3.1" fill="#393939" fill-opacity="0.3"/>
<circle cx="1277.0" cy="1100.3" r="3.1" fill="#393939" fill-opacity="0.3"/>
<circle cx="1273.3" cy="1093.5" r="3.1" fill="#393939" fill-opacity="0.3"/>
<circle cx="1273.8" cy="1073.0" r="3.1" fill="#393939" fill-opacity="0.3"/>
<text transform="translate(1277.2,1084.0) scale(1,1.05)" font-size="28.3" text-anchor="middle">cd</text>
<text transform="translate(1275.4,1305.6) scale(1,1.05)" font-size="25.8" text-anchor="middle" fill="#444">27</text>
<line x1="1275.4" y1="1308.6" x2="1275.4" y2="1312.6" stroke="#000" stroke-width="1.8"/>
<text transform="translate(1283.4,1317.6) rotate(-90) scale(1,1.09)" font-size="27.5" text-anchor="end">Apex</text>
<line x1="1320.8" y1="734.0" x2="1320.8" y2="1073.0" stroke="#222" stroke-width="1.3"/>
<rect x="1306.8" y="870.6" width="27.8" height="97.2" fill="#d9c571" stroke="#2b2b2b" stroke-width="1.5"/>
<line x1="1306.8" y1="933.9" x2="1334.7" y2="933.9" stroke="#222" stroke-width="2.6"/>
<circle cx="1320.3" cy="734.0" r="3.1" fill="#393939" fill-opacity="0.3"/>
<circle cx="1315.1" cy="1073.0" r="3.1" fill="#393939" fill-opacity="0.3"/>
<circle cx="1315.9" cy="1069.2" r="3.1" fill="#393939" fill-opacity="0.3"/>
<circle cx="1316.0" cy="1040.7" r="3.1" fill="#393939" fill-opacity="0.3"/>
<circle cx="1319.0" cy="1025.1" r="3.1" fill="#393939" fill-opacity="0.3"/>
<circle cx="1319.1" cy="1004.5" r="3.1" fill="#393939" fill-opacity="0.3"/>
<circle cx="1326.1" cy="991.6" r="3.1" fill="#393939" fill-opacity="0.3"/>
<circle cx="1315.9" cy="967.6" r="3.1" fill="#393939" fill-opacity="0.3"/>
<circle cx="1317.3" cy="963.3" r="3.1" fill="#393939" fill-opacity="0.3"/>
<circle cx="1317.6" cy="957.0" r="3.1" fill="#393939" fill-opacity="0.3"/>
<circle cx="1316.0" cy="951.2" r="3.1" fill="#393939" fill-opacity="0.3"/>
<circle cx="1317.8" cy="944.6" r="3.1" fill="#393939" fill-opacity="0.3"/>
<circle cx="1317.0" cy="940.3" r="3.1" fill="#393939" fill-opacity="0.3"/>
<circle cx="1320.5" cy="935.8" r="3.1" fill="#393939" fill-opacity="0.3"/>
<circle cx="1314.2" cy="927.0" r="3.1" fill="#393939" fill-opacity="0.3"/>
<circle cx="1326.7" cy="914.5" r="3.1" fill="#393939" fill-opacity="0.3"/>
<circle cx="1318.9" cy="904.9" r="3.1" fill="#393939" fill-opacity="0.3"/>
<circle cx="1326.9" cy="886.4" r="3.1" fill="#393939" fill-opacity="0.3"/>
<circle cx="1323.4" cy="879.0" r="3.1" fill="#393939" fill-opacity="0.3"/>
<circle cx="1323.2" cy="859.7" r="3.1" fill="#393939" fill-opacity="0.3"/>
<circle cx="1320.4" cy="850.4" r="3.1" fill="#393939" fill-opacity="0.3"/>
<circle cx="1327.0" cy="817.7" r="3.1" fill="#393939" fill-opacity="0.3"/>
<circle cx="1315.4" cy="786.0" r="3.1" fill="#393939" fill-opacity="0.3"/>
<circle cx="1323.1" cy="767.4" r="3.1" fill="#393939" fill-opacity="0.3"/>
<circle cx="1317.8" cy="747.2" r="3.1" fill="#393939" fill-opacity="0.3"/>
<circle cx="1323.2" cy="700.0" r="3.1" fill="#393939" fill-opacity="0.3"/>
<circle cx="1324.0" cy="708.0" r="3.1" fill="#393939" fill-opacity="0.3"/>
<text transform="translate(1322.5,722.3) scale(1,1.05)" font-size="28.3" text-anchor="middle">a</text>
<text transform="translate(1320.8,1305.6) scale(1,1.05)" font-size="25.8" text-anchor="middle" fill="#444">27</text>
<line x1="1320.8" y1="1308.6" x2="1320.8" y2="1312.6" stroke="#000" stroke-width="1.8"/>
<text transform="translate(1328.8,1317.6) rotate(-90) scale(1,1.09)" font-size="27.5" text-anchor="end">Base</text>
<line x1="1366.1" y1="703.6" x2="1366.1" y2="1091.8" stroke="#222" stroke-width="1.3"/>
<rect x="1352.2" y="883.3" width="27.8" height="140.2" fill="#2ecfd0" stroke="#2b2b2b" stroke-width="1.5"/>
<line x1="1352.2" y1="962.7" x2="1380.0" y2="962.7" stroke="#222" stroke-width="2.6"/>
<circle cx="1366.8" cy="703.6" r="3.1" fill="#393939" fill-opacity="0.3"/>
<circle cx="1373.0" cy="1091.8" r="3.1" fill="#393939" fill-opacity="0.3"/>
<circle cx="1366.4" cy="1089.3" r="3.1" fill="#393939" fill-opacity="0.3"/>
<circle cx="1364.0" cy="1078.0" r="3.1" fill="#393939" fill-opacity="0.3"/>
<circle cx="1360.4" cy="1068.6" r="3.1" fill="#393939" fill-opacity="0.3"/>
<circle cx="1360.1" cy="1055.9" r="3.1" fill="#393939" fill-opacity="0.3"/>
<circle cx="1371.7" cy="1046.3" r="3.1" fill="#393939" fill-opacity="0.3"/>
<circle cx="1366.0" cy="1032.6" r="3.1" fill="#393939" fill-opacity="0.3"/>
<circle cx="1372.2" cy="1017.4" r="3.1" fill="#393939" fill-opacity="0.3"/>
<circle cx="1359.9" cy="1012.4" r="3.1" fill="#393939" fill-opacity="0.3"/>
<circle cx="1362.5" cy="1003.1" r="3.1" fill="#393939" fill-opacity="0.3"/>
<circle cx="1359.8" cy="992.1" r="3.1" fill="#393939" fill-opacity="0.3"/>
<circle cx="1364.7" cy="983.8" r="3.1" fill="#393939" fill-opacity="0.3"/>
<circle cx="1359.9" cy="970.6" r="3.1" fill="#393939" fill-opacity="0.3"/>
<circle cx="1362.7" cy="960.5" r="3.1" fill="#393939" fill-opacity="0.3"/>
<circle cx="1364.8" cy="953.4" r="3.1" fill="#393939" fill-opacity="0.3"/>
<circle cx="1363.4" cy="939.9" r="3.1" fill="#393939" fill-opacity="0.3"/>
<circle cx="1359.8" cy="922.8" r="3.1" fill="#393939" fill-opacity="0.3"/>
<circle cx="1359.6" cy="907.4" r="3.1" fill="#393939" fill-opacity="0.3"/>
<circle cx="1372.7" cy="897.7" r="3.1" fill="#393939" fill-opacity="0.3"/>
<circle cx="1361.6" cy="887.2" r="3.1" fill="#393939" fill-opacity="0.3"/>
<circle cx="1366.2" cy="850.8" r="3.1" fill="#393939" fill-opacity="0.3"/>
<circle cx="1364.7" cy="844.3" r="3.1" fill="#393939" fill-opacity="0.3"/>
<circle cx="1366.5" cy="814.3" r="3.1" fill="#393939" fill-opacity="0.3"/>
<circle cx="1360.3" cy="769.1" r="3.1" fill="#393939" fill-opacity="0.3"/>
<circle cx="1363.5" cy="748.8" r="3.1" fill="#393939" fill-opacity="0.3"/>
<circle cx="1360.6" cy="728.4" r="3.1" fill="#393939" fill-opacity="0.3"/>
<circle cx="1366.7" cy="692.0" r="3.1" fill="#393939" fill-opacity="0.3"/>
<text transform="translate(1367.9,693.5) scale(1,1.05)" font-size="28.3" text-anchor="middle">a</text>
<text transform="translate(1366.1,1305.6) scale(1,1.05)" font-size="25.8" text-anchor="middle" fill="#444">28</text>
<line x1="1366.1" y1="1308.6" x2="1366.1" y2="1312.6" stroke="#000" stroke-width="1.8"/>
<text transform="translate(1374.1,1317.6) rotate(-90) scale(1,1.09)" font-size="27.5" text-anchor="end">Middle</text>
<line x1="1411.5" y1="696.0" x2="1411.5" y2="1091.8" stroke="#222" stroke-width="1.3"/>
<rect x="1397.5" y="871.6" width="27.8" height="159.9" fill="#80cc88" stroke="#2b2b2b" stroke-width="1.5"/>
<line x1="1397.5" y1="942.0" x2="1425.4" y2="942.0" stroke="#222" stroke-width="2.6"/>
<circle cx="1410.5" cy="696.0" r="3.1" fill="#393939" fill-opacity="0.3"/>
<circle cx="1412.5" cy="1091.8" r="3.1" fill="#393939" fill-opacity="0.3"/>
<circle cx="1407.9" cy="1084.0" r="3.1" fill="#393939" fill-opacity="0.3"/>
<circle cx="1405.3" cy="1077.2" r="3.1" fill="#393939" fill-opacity="0.3"/>
<circle cx="1414.3" cy="1066.0" r="3.1" fill="#393939" fill-opacity="0.3"/>
<circle cx="1405.1" cy="1061.5" r="3.1" fill="#393939" fill-opacity="0.3"/>
<circle cx="1407.2" cy="1053.6" r="3.1" fill="#393939" fill-opacity="0.3"/>
<circle cx="1408.5" cy="1040.5" r="3.1" fill="#393939" fill-opacity="0.3"/>
<circle cx="1409.7" cy="1031.6" r="3.1" fill="#393939" fill-opacity="0.3"/>
<circle cx="1405.8" cy="1016.9" r="3.1" fill="#393939" fill-opacity="0.3"/>
<circle cx="1410.3" cy="1005.3" r="3.1" fill="#393939" fill-opacity="0.3"/>
<circle cx="1408.8" cy="988.8" r="3.1" fill="#393939" fill-opacity="0.3"/>
<circle cx="1415.0" cy="973.9" r="3.1" fill="#393939" fill-opacity="0.3"/>
<circle cx="1412.2" cy="958.1" r="3.1" fill="#393939" fill-opacity="0.3"/>
<circle cx="1417.0" cy="951.0" r="3.1" fill="#393939" fill-opacity="0.3"/>
<circle cx="1413.6" cy="937.0" r="3.1" fill="#393939" fill-opacity="0.3"/>
<circle cx="1415.1" cy="922.9" r="3.1" fill="#393939" fill-opacity="0.3"/>
<circle cx="1412.5" cy="917.3" r="3.1" fill="#393939" fill-opacity="0.3"/>
<circle cx="1410.6" cy="907.4" r="3.1" fill="#393939" fill-opacity="0.3"/>
<circle cx="1415.9" cy="894.9" r="3.1" fill="#393939" fill-opacity="0.3"/>
<circle cx="1413.6" cy="886.0" r="3.1" fill="#393939" fill-opacity="0.3"/>
<circle cx="1417.8" cy="865.7" r="3.1" fill="#393939" fill-opacity="0.3"/>
<circle cx="1414.6" cy="837.7" r="3.1" fill="#393939" fill-opacity="0.3"/>
<circle cx="1414.3" cy="821.6" r="3.1" fill="#393939" fill-opacity="0.3"/>
<circle cx="1408.2" cy="798.6" r="3.1" fill="#393939" fill-opacity="0.3"/>
<circle cx="1415.8" cy="772.6" r="3.1" fill="#393939" fill-opacity="0.3"/>
<circle cx="1409.8" cy="742.0" r="3.1" fill="#393939" fill-opacity="0.3"/>
<circle cx="1406.3" cy="718.5" r="3.1" fill="#393939" fill-opacity="0.3"/>
<text transform="translate(1413.2,687.0) scale(1,1.05)" font-size="28.3" text-anchor="middle">a</text>
<text transform="translate(1411.5,1305.6) scale(1,1.05)" font-size="25.8" text-anchor="middle" fill="#444">28</text>
<line x1="1411.5" y1="1308.6" x2="1411.5" y2="1312.6" stroke="#000" stroke-width="1.8"/>
<text transform="translate(1419.5,1317.6) rotate(-90) scale(1,1.09)" font-size="27.5" text-anchor="end">Apex</text>
<text transform="translate(2.3,1448.0) scale(1,1.05)" font-size="44.5">f</text>
<defs><linearGradient id="tg" x1="169.8" y1="0" x2="564.5" y2="0" gradientUnits="userSpaceOnUse"><stop offset="0" stop-color="#24388c"/><stop offset="0.18" stop-color="#6f7a8a"/><stop offset="0.3" stop-color="#b4a950"/><stop offset="0.4" stop-color="#fcd800"/><stop offset="0.6" stop-color="#ff9500"/><stop offset="0.8" stop-color="#ff5f00"/><stop offset="1" stop-color="#ff2f00"/></linearGradient></defs>
<path d="M169.8,1966.6 L564.5,1934.2 L564.5,1966.6 Z" fill="url(#tg)" stroke="#222" stroke-width="1"/>
<text transform="translate(263.5,1951.0) rotate(-6) scale(1,1.05)" font-size="28">Temperature gradient</text>
<line x1="68.2" y1="1501.5" x2="68.2" y2="1967.4" stroke="#000" stroke-width="1.8"/>
<line x1="67.4" y1="1966.6" x2="664.3" y2="1966.6" stroke="#000" stroke-width="1.8"/>
<line x1="64.2" y1="1942.9" x2="68.2" y2="1942.9" stroke="#000" stroke-width="1.6"/>
<text transform="translate(58.6,1953.1) scale(1,1.05)" font-size="29" text-anchor="end">0</text>
<line x1="64.2" y1="1879.9" x2="68.2" y2="1879.9" stroke="#000" stroke-width="1.6"/>
<text transform="translate(58.6,1890.1) scale(1,1.05)" font-size="29" text-anchor="end">1</text>
<line x1="64.2" y1="1816.9" x2="68.2" y2="1816.9" stroke="#000" stroke-width="1.6"/>
<text transform="translate(58.6,1827.1) scale(1,1.05)" font-size="29" text-anchor="end">2</text>
<line x1="64.2" y1="1754.0" x2="68.2" y2="1754.0" stroke="#000" stroke-width="1.6"/>
<text transform="translate(58.6,1764.2) scale(1,1.05)" font-size="29" text-anchor="end">3</text>
<line x1="64.2" y1="1691.0" x2="68.2" y2="1691.0" stroke="#000" stroke-width="1.6"/>
<text transform="translate(58.6,1701.2) scale(1,1.05)" font-size="29" text-anchor="end">4</text>
<line x1="64.2" y1="1628.0" x2="68.2" y2="1628.0" stroke="#000" stroke-width="1.6"/>
<text transform="translate(58.6,1638.2) scale(1,1.05)" font-size="29" text-anchor="end">5</text>
<line x1="64.2" y1="1565.0" x2="68.2" y2="1565.0" stroke="#000" stroke-width="1.6"/>
<text transform="translate(58.6,1575.2) scale(1,1.05)" font-size="29" text-anchor="end">6</text>
<line x1="64.2" y1="1502.0" x2="68.2" y2="1502.0" stroke="#000" stroke-width="1.6"/>
<text transform="translate(58.6,1512.2) scale(1,1.05)" font-size="29" text-anchor="end">7</text>
<text transform="translate(20.8,1734.0) rotate(-90) scale(1,1.05)" font-size="26.5" text-anchor="middle">Hypocotyl length (mm)</text>
<rect x="84.5" y="1877.8" width="66.4" height="4.4" fill="#333"/>
<circle cx="113.1" cy="1892.8" r="6.2" fill="#404040" fill-opacity="0.4"/>
<circle cx="120.2" cy="1887.9" r="6.2" fill="#404040" fill-opacity="0.4"/>
<circle cx="111.6" cy="1883.5" r="6.2" fill="#404040" fill-opacity="0.4"/>
<circle cx="118.5" cy="1881.1" r="6.2" fill="#404040" fill-opacity="0.4"/>
<circle cx="111.4" cy="1880.9" r="6.2" fill="#404040" fill-opacity="0.4"/>
<circle cx="115.7" cy="1880.2" r="6.2" fill="#404040" fill-opacity="0.4"/>
<circle cx="124.0" cy="1879.2" r="6.2" fill="#404040" fill-opacity="0.4"/>
<circle cx="113.9" cy="1878.7" r="6.2" fill="#404040" fill-opacity="0.4"/>
<circle cx="115.8" cy="1877.3" r="6.2" fill="#404040" fill-opacity="0.4"/>
<circle cx="110.9" cy="1872.7" r="6.2" fill="#404040" fill-opacity="0.4"/>
<circle cx="122.3" cy="1866.7" r="6.2" fill="#404040" fill-opacity="0.4"/>
<text transform="translate(118.7,1855.2) scale(1,1.05)" font-size="28.5" text-anchor="middle">e</text>
<text transform="translate(120.3,1477.0) scale(1,1.05)" font-size="25.7" text-anchor="middle" fill="#3a3a3a">11</text>
<line x1="117.7" y1="1966.6" x2="117.7" y2="1971.6" stroke="#000" stroke-width="1.6"/>
<line x1="200.4" y1="1751.0" x2="200.4" y2="1829.4" stroke="#222" stroke-width="1.3"/>
<rect x="167.3" y="1780.4" width="66.2" height="30.9" fill="#10ec74" stroke="#2b2b2b" stroke-width="1.6"/>
<line x1="167.3" y1="1794.0" x2="233.5" y2="1794.0" stroke="#222" stroke-width="2.8"/>
<circle cx="196.9" cy="1751.0" r="6.2" fill="#404040" fill-opacity="0.4"/>
<circle cx="195.7" cy="1829.4" r="6.2" fill="#404040" fill-opacity="0.4"/>
<circle cx="201.4" cy="1827.8" r="6.2" fill="#404040" fill-opacity="0.4"/>
<circle cx="198.2" cy="1826.6" r="6.2" fill="#404040" fill-opacity="0.4"/>
<circle cx="204.5" cy="1823.3" r="6.2" fill="#404040" fill-opacity="0.4"/>
<circle cx="196.3" cy="1821.6" r="6.2" fill="#404040" fill-opacity="0.4"/>
<circle cx="198.1" cy="1818.1" r="6.2" fill="#404040" fill-opacity="0.4"/>
<circle cx="196.4" cy="1816.2" r="6.2" fill="#404040" fill-opacity="0.4"/>
<circle cx="208.2" cy="1812.9" r="6.2" fill="#404040" fill-opacity="0.4"/>
<circle cx="205.9" cy="1810.8" r="6.2" fill="#404040" fill-opacity="0.4"/>
<circle cx="206.0" cy="1809.7" r="6.2" fill="#404040" fill-opacity="0.4"/>
<circle cx="202.3" cy="1807.0" r="6.2" fill="#404040" fill-opacity="0.4"/>
<circle cx="198.9" cy="1803.6" r="6.2" fill="#404040" fill-opacity="0.4"/>
<circle cx="194.7" cy="1802.1" r="6.2" fill="#404040" fill-opacity="0.4"/>
<circle cx="205.8" cy="1799.9" r="6.2" fill="#404040" fill-opacity="0.4"/>
<circle cx="200.3" cy="1797.6" r="6.2" fill="#404040" fill-opacity="0.4"/>
<circle cx="193.1" cy="1794.7" r="6.2" fill="#404040" fill-opacity="0.4"/>
<circle cx="195.2" cy="1792.5" r="6.2" fill="#404040" fill-opacity="0.4"/>
<circle cx="194.0" cy="1791.2" r="6.2" fill="#404040" fill-opacity="0.4"/>
<circle cx="203.9" cy="1788.8" r="6.2" fill="#404040" fill-opacity="0.4"/>
<circle cx="206.9" cy="1787.5" r="6.2" fill="#404040" fill-opacity="0.4"/>
<circle cx="195.6" cy="1786.4" r="6.2" fill="#404040" fill-opacity="0.4"/>
<circle cx="205.2" cy="1783.6" r="6.2" fill="#404040" fill-opacity="0.4"/>
<circle cx="197.6" cy="1782.3" r="6.2" fill="#404040" fill-opacity="0.4"/>
<circle cx="203.4" cy="1781.0" r="6.2" fill="#404040" fill-opacity="0.4"/>
<circle cx="206.3" cy="1775.0" r="6.2" fill="#404040" fill-opacity="0.4"/>
<circle cx="202.4" cy="1774.0" r="6.2" fill="#404040" fill-opacity="0.4"/>
<circle cx="205.3" cy="1768.4" r="6.2" fill="#404040" fill-opacity="0.4"/>
<circle cx="198.5" cy="1764.8" r="6.2" fill="#404040" fill-opacity="0.4"/>
<circle cx="192.6" cy="1759.6" r="6.2" fill="#404040" fill-opacity="0.4"/>
<circle cx="200.6" cy="1757.2" r="6.2" fill="#404040" fill-opacity="0.4"/>
<circle cx="201.8" cy="1753.9" r="6.2" fill="#404040" fill-opacity="0.4"/>
<text transform="translate(201.4,1735.0) scale(1,1.05)" font-size="28.5" text-anchor="middle">d</text>
<text transform="translate(204.8,1477.0) scale(1,1.05)" font-size="25.7" text-anchor="middle" fill="#3a3a3a">32</text>
<line x1="200.4" y1="1966.6" x2="200.4" y2="1971.6" stroke="#000" stroke-width="1.6"/>
<line x1="283.2" y1="1661.0" x2="283.2" y2="1727.0" stroke="#222" stroke-width="1.3"/>
<rect x="250.1" y="1670.5" width="66.2" height="24.1" fill="#fbd600" stroke="#2b2b2b" stroke-width="1.6"/>
<line x1="250.1" y1="1683.7" x2="316.3" y2="1683.7" stroke="#222" stroke-width="2.8"/>
<circle cx="288.2" cy="1661.0" r="6.2" fill="#404040" fill-opacity="0.4"/>
<circle cx="290.0" cy="1727.0" r="6.2" fill="#404040" fill-opacity="0.4"/>
<circle cx="286.3" cy="1723.8" r="6.2" fill="#404040" fill-opacity="0.4"/>
<circle cx="285.9" cy="1708.7" r="6.2" fill="#404040" fill-opacity="0.4"/>
<circle cx="283.8" cy="1696.5" r="6.2" fill="#404040" fill-opacity="0.4"/>
<circle cx="288.0" cy="1691.9" r="6.2" fill="#404040" fill-opacity="0.4"/>
<circle cx="281.0" cy="1686.5" r="6.2" fill="#404040" fill-opacity="0.4"/>
<circle cx="284.7" cy="1681.6" r="6.2" fill="#404040" fill-opacity="0.4"/>
<circle cx="286.1" cy="1675.9" r="6.2" fill="#404040" fill-opacity="0.4"/>
<circle cx="283.6" cy="1669.9" r="6.2" fill="#404040" fill-opacity="0.4"/>
<circle cx="279.7" cy="1667.0" r="6.2" fill="#404040" fill-opacity="0.4"/>
<circle cx="276.4" cy="1661.4" r="6.2" fill="#404040" fill-opacity="0.4"/>
<circle cx="276.6" cy="1617.9" r="6.2" fill="#404040" fill-opacity="0.4"/>
<text transform="translate(284.2,1646.3) scale(1,1.05)" font-size="28.5" text-anchor="middle">c</text>
<text transform="translate(287.3,1477.0) scale(1,1.05)" font-size="25.7" text-anchor="middle" fill="#3a3a3a">13</text>
<line x1="283.2" y1="1966.6" x2="283.2" y2="1971.6" stroke="#000" stroke-width="1.6"/>
<line x1="365.9" y1="1574.9" x2="365.9" y2="1676.6" stroke="#222" stroke-width="1.3"/>
<rect x="332.8" y="1612.3" width="66.2" height="28.9" fill="#ffa500" stroke="#2b2b2b" stroke-width="1.6"/>
<line x1="332.8" y1="1626.4" x2="399.1" y2="1626.4" stroke="#222" stroke-width="2.8"/>
<circle cx="371.4" cy="1574.9" r="6.2" fill="#404040" fill-opacity="0.4"/>
<circle cx="369.8" cy="1676.6" r="6.2" fill="#404040" fill-opacity="0.4"/>
<circle cx="367.7" cy="1672.7" r="6.2" fill="#404040" fill-opacity="0.4"/>
<circle cx="361.3" cy="1660.8" r="6.2" fill="#404040" fill-opacity="0.4"/>
<circle cx="366.2" cy="1649.2" r="6.2" fill="#404040" fill-opacity="0.4"/>
<circle cx="372.3" cy="1640.5" r="6.2" fill="#404040" fill-opacity="0.4"/>
<circle cx="361.8" cy="1637.6" r="6.2" fill="#404040" fill-opacity="0.4"/>
<circle cx="373.5" cy="1631.3" r="6.2" fill="#404040" fill-opacity="0.4"/>
<circle cx="366.7" cy="1629.3" r="6.2" fill="#404040" fill-opacity="0.4"/>
<circle cx="364.2" cy="1623.7" r="6.2" fill="#404040" fill-opacity="0.4"/>
<circle cx="358.0" cy="1621.7" r="6.2" fill="#404040" fill-opacity="0.4"/>
<circle cx="364.2" cy="1615.5" r="6.2" fill="#404040" fill-opacity="0.4"/>
<circle cx="360.8" cy="1610.8" r="6.2" fill="#404040" fill-opacity="0.4"/>
<circle cx="368.4" cy="1597.7" r="6.2" fill="#404040" fill-opacity="0.4"/>
<circle cx="372.3" cy="1587.5" r="6.2" fill="#404040" fill-opacity="0.4"/>
<circle cx="372.5" cy="1578.6" r="6.2" fill="#404040" fill-opacity="0.4"/>
<text transform="translate(366.9,1557.9) scale(1,1.05)" font-size="28.5" text-anchor="middle">b</text>
<text transform="translate(370.0,1477.0) scale(1,1.05)" font-size="25.7" text-anchor="middle" fill="#3a3a3a">16</text>
<line x1="365.9" y1="1966.6" x2="365.9" y2="1971.6" stroke="#000" stroke-width="1.6"/>
<line x1="448.7" y1="1532.9" x2="448.7" y2="1682.7" stroke="#222" stroke-width="1.3"/>
<rect x="415.6" y="1558.6" width="66.2" height="51.9" fill="#ff7a00" stroke="#2b2b2b" stroke-width="1.6"/>
<line x1="415.6" y1="1578.3" x2="481.8" y2="1578.3" stroke="#222" stroke-width="2.8"/>
<circle cx="450.7" cy="1532.9" r="6.2" fill="#404040" fill-opacity="0.4"/>
<circle cx="455.1" cy="1682.7" r="6.2" fill="#404040" fill-opacity="0.4"/>
<circle cx="443.4" cy="1667.2" r="6.2" fill="#404040" fill-opacity="0.4"/>
<circle cx="450.8" cy="1645.7" r="6.2" fill="#404040" fill-opacity="0.4"/>
<circle cx="453.0" cy="1625.3" r="6.2" fill="#404040" fill-opacity="0.4"/>
<circle cx="444.3" cy="1599.9" r="6.2" fill="#404040" fill-opacity="0.4"/>
<circle cx="441.7" cy="1589.5" r="6.2" fill="#404040" fill-opacity="0.4"/>
<circle cx="449.8" cy="1577.1" r="6.2" fill="#404040" fill-opacity="0.4"/>
<circle cx="454.0" cy="1571.9" r="6.2" fill="#404040" fill-opacity="0.4"/>
<circle cx="454.8" cy="1561.8" r="6.2" fill="#404040" fill-opacity="0.4"/>
<circle cx="452.3" cy="1558.4" r="6.2" fill="#404040" fill-opacity="0.4"/>
<circle cx="447.4" cy="1548.4" r="6.2" fill="#404040" fill-opacity="0.4"/>
<circle cx="447.5" cy="1539.3" r="6.2" fill="#404040" fill-opacity="0.4"/>
<text transform="translate(449.7,1516.3) scale(1,1.05)" font-size="28.5" text-anchor="middle">a</text>
<text transform="translate(451.7,1477.0) scale(1,1.05)" font-size="25.7" text-anchor="middle" fill="#3a3a3a">13</text>
<line x1="448.7" y1="1966.6" x2="448.7" y2="1971.6" stroke="#000" stroke-width="1.6"/>
<line x1="531.5" y1="1562.4" x2="531.5" y2="1643.0" stroke="#222" stroke-width="1.3"/>
<rect x="498.4" y="1599.4" width="66.2" height="31.1" fill="#ff3300" stroke="#2b2b2b" stroke-width="1.6"/>
<line x1="498.4" y1="1611.9" x2="564.6" y2="1611.9" stroke="#222" stroke-width="2.8"/>
<circle cx="533.1" cy="1562.4" r="6.2" fill="#404040" fill-opacity="0.4"/>
<circle cx="538.9" cy="1643.0" r="6.2" fill="#404040" fill-opacity="0.4"/>
<circle cx="526.4" cy="1636.5" r="6.2" fill="#404040" fill-opacity="0.4"/>
<circle cx="523.9" cy="1615.2" r="6.2" fill="#404040" fill-opacity="0.4"/>
<circle cx="525.3" cy="1607.6" r="6.2" fill="#404040" fill-opacity="0.4"/>
<circle cx="532.5" cy="1587.4" r="6.2" fill="#404040" fill-opacity="0.4"/>
<circle cx="533.1" cy="1688.8" r="6.2" fill="#404040" fill-opacity="0.4"/>
<text transform="translate(532.5,1544.3) scale(1,1.05)" font-size="28.5" text-anchor="middle">ab</text>
<text transform="translate(534.3,1477.0) scale(1,1.05)" font-size="25.7" text-anchor="middle" fill="#3a3a3a">7</text>
<line x1="531.5" y1="1966.6" x2="531.5" y2="1971.6" stroke="#000" stroke-width="1.6"/>
<line x1="614.2" y1="1781.0" x2="614.2" y2="1788.0" stroke="#222" stroke-width="1.3"/>
<rect x="581.1" y="1781.0" width="66.2" height="5.4" fill="#10ec74" stroke="#2b2b2b" stroke-width="1.6"/>
<line x1="581.1" y1="1784.0" x2="647.3" y2="1784.0" stroke="#222" stroke-width="2.8"/>
<circle cx="615.7" cy="1781.0" r="6.2" fill="#404040" fill-opacity="0.4"/>
<circle cx="616.5" cy="1788.0" r="6.2" fill="#404040" fill-opacity="0.4"/>
<circle cx="617.2" cy="1787.2" r="6.2" fill="#404040" fill-opacity="0.4"/>
<circle cx="617.9" cy="1782.5" r="6.2" fill="#404040" fill-opacity="0.4"/>
<circle cx="607.2" cy="1762.0" r="6.2" fill="#404040" fill-opacity="0.4"/>
<text transform="translate(615.2,1756.5) scale(1,1.05)" font-size="28.5" text-anchor="middle">d</text>
<text transform="translate(616.0,1477.0) scale(1,1.05)" font-size="25.7" text-anchor="middle" fill="#3a3a3a">5</text>
<line x1="614.2" y1="1966.6" x2="614.2" y2="1971.6" stroke="#000" stroke-width="1.6"/>
<text transform="translate(121.0,1998.0) scale(1,1.05)" font-size="28.3" text-anchor="middle">21WL</text>
<text transform="translate(204.7,1998.0) scale(1,1.05)" font-size="28.3" text-anchor="middle">21FR</text>
<text transform="translate(287.5,1998.0) scale(1,1.05)" font-size="28.3" text-anchor="middle">24FR</text>
<text transform="translate(370.2,1998.0) scale(1,1.05)" font-size="28.3" text-anchor="middle">26FR</text>
<text transform="translate(453.0,1998.0) scale(1,1.05)" font-size="28.3" text-anchor="middle">28FR</text>
<text transform="translate(535.7,1998.0) scale(1,1.05)" font-size="28.3" text-anchor="middle">30FR</text>
<text transform="translate(618.4,1998.0) scale(1,1.05)" font-size="28.3" text-anchor="middle">21FR</text>
<text transform="translate(667.5,1447.5) scale(1,1.05)" font-size="44.5">g</text>
<line x1="769.6" y1="1423.6" x2="769.6" y2="1899.4" stroke="#000" stroke-width="1.8"/>
<line x1="768.8" y1="1898.6" x2="1496.0" y2="1898.6" stroke="#000" stroke-width="1.8"/>
<line x1="765.6" y1="1874.3" x2="769.6" y2="1874.3" stroke="#000" stroke-width="1.6"/>
<text transform="translate(763.3,1883.6) scale(1,1.05)" font-size="25.5" text-anchor="end">0</text>
<line x1="765.6" y1="1805.5" x2="769.6" y2="1805.5" stroke="#000" stroke-width="1.6"/>
<text transform="translate(763.3,1814.8) scale(1,1.05)" font-size="25.5" text-anchor="end">1</text>
<line x1="765.6" y1="1736.6" x2="769.6" y2="1736.6" stroke="#000" stroke-width="1.6"/>
<text transform="translate(763.3,1745.9) scale(1,1.05)" font-size="25.5" text-anchor="end">2</text>
<line x1="765.6" y1="1667.8" x2="769.6" y2="1667.8" stroke="#000" stroke-width="1.6"/>
<text transform="translate(763.3,1677.0) scale(1,1.05)" font-size="25.5" text-anchor="end">3</text>
<line x1="765.6" y1="1598.9" x2="769.6" y2="1598.9" stroke="#000" stroke-width="1.6"/>
<text transform="translate(763.3,1608.2) scale(1,1.05)" font-size="25.5" text-anchor="end">4</text>
<line x1="765.6" y1="1530.0" x2="769.6" y2="1530.0" stroke="#000" stroke-width="1.6"/>
<text transform="translate(763.3,1539.3) scale(1,1.05)" font-size="25.5" text-anchor="end">5</text>
<line x1="765.6" y1="1461.2" x2="769.6" y2="1461.2" stroke="#000" stroke-width="1.6"/>
<text transform="translate(763.3,1470.5) scale(1,1.05)" font-size="25.5" text-anchor="end">6</text>
<text transform="translate(716.0,1628.0) rotate(-90) scale(1,1.05)" font-size="25.5" text-anchor="middle">Hypocotyl length (mm)</text>
<line x1="805.3" y1="1792.5" x2="805.3" y2="1817.0" stroke="#222" stroke-width="1.3"/>
<rect x="784.3" y="1803.9" width="42.0" height="9.0" fill="#10aaee" stroke="#2b2b2b" stroke-width="1.5"/>
<line x1="784.3" y1="1809.8" x2="826.3" y2="1809.8" stroke="#222" stroke-width="2.5"/>
<circle cx="805.0" cy="1792.5" r="4.3" fill="#404040" fill-opacity="0.35"/>
<circle cx="799.7" cy="1817.0" r="4.3" fill="#404040" fill-opacity="0.35"/>
<circle cx="801.0" cy="1816.2" r="4.3" fill="#404040" fill-opacity="0.35"/>
<circle cx="800.5" cy="1814.1" r="4.3" fill="#404040" fill-opacity="0.35"/>
<circle cx="799.6" cy="1812.4" r="4.3" fill="#404040" fill-opacity="0.35"/>
<circle cx="800.4" cy="1811.8" r="4.3" fill="#404040" fill-opacity="0.35"/>
<circle cx="806.9" cy="1810.1" r="4.3" fill="#404040" fill-opacity="0.35"/>
<circle cx="799.8" cy="1808.3" r="4.3" fill="#404040" fill-opacity="0.35"/>
<circle cx="808.9" cy="1805.5" r="4.3" fill="#404040" fill-opacity="0.35"/>
<circle cx="808.6" cy="1804.4" r="4.3" fill="#404040" fill-opacity="0.35"/>
<circle cx="809.7" cy="1798.6" r="4.3" fill="#404040" fill-opacity="0.35"/>
<circle cx="809.6" cy="1793.5" r="4.3" fill="#404040" fill-opacity="0.35"/>
<text transform="translate(804.3,1781.2) scale(1,1.05)" font-size="26.5" text-anchor="middle">e</text>
<text transform="translate(808.3,1888.0) scale(1,1.05)" font-size="23.5" text-anchor="middle" fill="#444">12</text>
<line x1="805.3" y1="1898.6" x2="805.3" y2="1902.6" stroke="#000" stroke-width="1.6"/>
<text transform="translate(815.6,1911.0) rotate(-90) scale(1,1.05)" font-size="27.5" text-anchor="end">21WL</text>
<line x1="865.1" y1="1454.3" x2="865.1" y2="1555.3" stroke="#222" stroke-width="1.3"/>
<rect x="844.1" y="1501.2" width="42.0" height="39.8" fill="#e466ef" stroke="#2b2b2b" stroke-width="1.5"/>
<line x1="844.1" y1="1515.5" x2="886.1" y2="1515.5" stroke="#222" stroke-width="2.5"/>
<circle cx="863.3" cy="1454.3" r="4.3" fill="#404040" fill-opacity="0.35"/>
<circle cx="864.5" cy="1555.3" r="4.3" fill="#404040" fill-opacity="0.35"/>
<circle cx="867.6" cy="1551.0" r="4.3" fill="#404040" fill-opacity="0.35"/>
<circle cx="868.5" cy="1543.6" r="4.3" fill="#404040" fill-opacity="0.35"/>
<circle cx="859.3" cy="1534.0" r="4.3" fill="#404040" fill-opacity="0.35"/>
<circle cx="863.7" cy="1525.7" r="4.3" fill="#404040" fill-opacity="0.35"/>
<circle cx="865.7" cy="1513.1" r="4.3" fill="#404040" fill-opacity="0.35"/>
<circle cx="863.4" cy="1511.2" r="4.3" fill="#404040" fill-opacity="0.35"/>
<circle cx="859.7" cy="1504.8" r="4.3" fill="#404040" fill-opacity="0.35"/>
<circle cx="866.5" cy="1492.8" r="4.3" fill="#404040" fill-opacity="0.35"/>
<circle cx="863.3" cy="1469.6" r="4.3" fill="#404040" fill-opacity="0.35"/>
<circle cx="867.7" cy="1608.6" r="4.3" fill="#404040" fill-opacity="0.35"/>
<text transform="translate(864.1,1440.2) scale(1,1.05)" font-size="26.5" text-anchor="middle">a</text>
<text transform="translate(868.1,1888.0) scale(1,1.05)" font-size="23.5" text-anchor="middle" fill="#444">12</text>
<line x1="865.1" y1="1898.6" x2="865.1" y2="1902.6" stroke="#000" stroke-width="1.6"/>
<text transform="translate(875.4,1911.0) rotate(-90) scale(1,1.05)" font-size="27.5" text-anchor="end">30FR</text>
<line x1="924.9" y1="1686.5" x2="924.9" y2="1768.2" stroke="#222" stroke-width="1.3"/>
<rect x="903.9" y="1722.2" width="42.0" height="36.0" fill="#15e86e" stroke="#2b2b2b" stroke-width="1.5"/>
<line x1="903.9" y1="1739.4" x2="945.9" y2="1739.4" stroke="#222" stroke-width="2.5"/>
<circle cx="922.0" cy="1686.5" r="4.3" fill="#404040" fill-opacity="0.35"/>
<circle cx="924.9" cy="1768.2" r="4.3" fill="#404040" fill-opacity="0.35"/>
<circle cx="927.7" cy="1766.7" r="4.3" fill="#404040" fill-opacity="0.35"/>
<circle cx="928.9" cy="1762.4" r="4.3" fill="#404040" fill-opacity="0.35"/>
<circle cx="926.0" cy="1759.4" r="4.3" fill="#404040" fill-opacity="0.35"/>
<circle cx="922.0" cy="1758.5" r="4.3" fill="#404040" fill-opacity="0.35"/>
<circle cx="922.6" cy="1749.8" r="4.3" fill="#404040" fill-opacity="0.35"/>
<circle cx="929.8" cy="1744.2" r="4.3" fill="#404040" fill-opacity="0.35"/>
<circle cx="925.2" cy="1740.3" r="4.3" fill="#404040" fill-opacity="0.35"/>
<circle cx="918.6" cy="1735.7" r="4.3" fill="#404040" fill-opacity="0.35"/>
<circle cx="923.8" cy="1728.9" r="4.3" fill="#404040" fill-opacity="0.35"/>
<circle cx="921.2" cy="1724.1" r="4.3" fill="#404040" fill-opacity="0.35"/>
<circle cx="927.2" cy="1711.9" r="4.3" fill="#404040" fill-opacity="0.35"/>
<circle cx="918.9" cy="1699.3" r="4.3" fill="#404040" fill-opacity="0.35"/>
<circle cx="921.7" cy="1693.0" r="4.3" fill="#404040" fill-opacity="0.35"/>
<text transform="translate(923.9,1674.0) scale(1,1.05)" font-size="26.5" text-anchor="middle">bc</text>
<text transform="translate(927.9,1888.0) scale(1,1.05)" font-size="23.5" text-anchor="middle" fill="#444">15</text>
<line x1="924.9" y1="1898.6" x2="924.9" y2="1902.6" stroke="#000" stroke-width="1.6"/>
<text transform="translate(935.2,1911.0) rotate(-90) scale(1,1.05)" font-size="27.5" text-anchor="end">21FR</text>
<line x1="984.7" y1="1695.5" x2="984.7" y2="1762.5" stroke="#222" stroke-width="1.3"/>
<rect x="963.7" y="1715.2" width="42.0" height="26.8" fill="#ababab" stroke="#2b2b2b" stroke-width="1.5"/>
<line x1="963.7" y1="1728.2" x2="1005.7" y2="1728.2" stroke="#222" stroke-width="2.5"/>
<circle cx="981.2" cy="1695.5" r="4.3" fill="#404040" fill-opacity="0.35"/>
<circle cx="984.1" cy="1762.5" r="4.3" fill="#404040" fill-opacity="0.35"/>
<circle cx="983.1" cy="1761.4" r="4.3" fill="#404040" fill-opacity="0.35"/>
<circle cx="984.9" cy="1753.2" r="4.3" fill="#404040" fill-opacity="0.35"/>
<circle cx="978.4" cy="1744.3" r="4.3" fill="#404040" fill-opacity="0.35"/>
<circle cx="980.8" cy="1740.8" r="4.3" fill="#404040" fill-opacity="0.35"/>
<circle cx="991.3" cy="1737.1" r="4.3" fill="#404040" fill-opacity="0.35"/>
<circle cx="983.9" cy="1731.0" r="4.3" fill="#404040" fill-opacity="0.35"/>
<circle cx="984.3" cy="1729.6" r="4.3" fill="#404040" fill-opacity="0.35"/>
<circle cx="978.9" cy="1724.7" r="4.3" fill="#404040" fill-opacity="0.35"/>
<circle cx="981.6" cy="1719.2" r="4.3" fill="#404040" fill-opacity="0.35"/>
<circle cx="991.1" cy="1717.8" r="4.3" fill="#404040" fill-opacity="0.35"/>
<circle cx="987.3" cy="1709.4" r="4.3" fill="#404040" fill-opacity="0.35"/>
<circle cx="984.8" cy="1705.3" r="4.3" fill="#404040" fill-opacity="0.35"/>
<circle cx="978.4" cy="1700.9" r="4.3" fill="#404040" fill-opacity="0.35"/>
<text transform="translate(983.7,1682.4) scale(1,1.05)" font-size="26.5" text-anchor="middle">b</text>
<text transform="translate(987.7,1888.0) scale(1,1.05)" font-size="23.5" text-anchor="middle" fill="#444">15</text>
<line x1="984.7" y1="1898.6" x2="984.7" y2="1902.6" stroke="#000" stroke-width="1.6"/>
<text transform="translate(995.0,1911.0) rotate(-90) scale(1,1.05)" font-size="27.5" text-anchor="end">21FR_3h &gt;&gt;30WL</text>
<line x1="1044.5" y1="1707.4" x2="1044.5" y2="1775.5" stroke="#222" stroke-width="1.3"/>
<rect x="1023.5" y="1724.1" width="42.0" height="28.3" fill="#ababab" stroke="#2b2b2b" stroke-width="1.5"/>
<line x1="1023.5" y1="1736.4" x2="1065.5" y2="1736.4" stroke="#222" stroke-width="2.5"/>
<circle cx="1050.3" cy="1707.4" r="4.3" fill="#404040" fill-opacity="0.35"/>
<circle cx="1042.8" cy="1775.5" r="4.3" fill="#404040" fill-opacity="0.35"/>
<circle cx="1051.5" cy="1772.6" r="4.3" fill="#404040" fill-opacity="0.35"/>
<circle cx="1048.1" cy="1763.3" r="4.3" fill="#404040" fill-opacity="0.35"/>
<circle cx="1050.0" cy="1758.1" r="4.3" fill="#404040" fill-opacity="0.35"/>
<circle cx="1039.6" cy="1750.8" r="4.3" fill="#404040" fill-opacity="0.35"/>
<circle cx="1048.4" cy="1744.7" r="4.3" fill="#404040" fill-opacity="0.35"/>
<circle cx="1043.4" cy="1740.8" r="4.3" fill="#404040" fill-opacity="0.35"/>
<circle cx="1051.1" cy="1736.0" r="4.3" fill="#404040" fill-opacity="0.35"/>
<circle cx="1051.4" cy="1734.0" r="4.3" fill="#404040" fill-opacity="0.35"/>
<circle cx="1040.5" cy="1730.3" r="4.3" fill="#404040" fill-opacity="0.35"/>
<circle cx="1043.4" cy="1724.2" r="4.3" fill="#404040" fill-opacity="0.35"/>
<circle cx="1041.3" cy="1720.6" r="4.3" fill="#404040" fill-opacity="0.35"/>
<circle cx="1044.1" cy="1713.6" r="4.3" fill="#404040" fill-opacity="0.35"/>
<circle cx="1041.5" cy="1708.6" r="4.3" fill="#404040" fill-opacity="0.35"/>
<text transform="translate(1043.5,1691.7) scale(1,1.05)" font-size="26.5" text-anchor="middle">bc</text>
<text transform="translate(1047.5,1888.0) scale(1,1.05)" font-size="23.5" text-anchor="middle" fill="#444">15</text>
<line x1="1044.5" y1="1898.6" x2="1044.5" y2="1902.6" stroke="#000" stroke-width="1.6"/>
<text transform="translate(1054.8,1911.0) rotate(-90) scale(1,1.05)" font-size="27.5" text-anchor="end">21FR_6h &gt;&gt;30WL</text>
<line x1="1104.3" y1="1755.0" x2="1104.3" y2="1781.1" stroke="#222" stroke-width="1.3"/>
<rect x="1083.3" y="1768.1" width="42.0" height="10.0" fill="#ababab" stroke="#2b2b2b" stroke-width="1.5"/>
<line x1="1083.3" y1="1771.8" x2="1125.3" y2="1771.8" stroke="#222" stroke-width="2.5"/>
<circle cx="1105.7" cy="1755.0" r="4.3" fill="#404040" fill-opacity="0.35"/>
<circle cx="1099.2" cy="1781.1" r="4.3" fill="#404040" fill-opacity="0.35"/>
<circle cx="1100.6" cy="1780.5" r="4.3" fill="#404040" fill-opacity="0.35"/>
<circle cx="1110.2" cy="1779.9" r="4.3" fill="#404040" fill-opacity="0.35"/>
<circle cx="1110.4" cy="1778.9" r="4.3" fill="#404040" fill-opacity="0.35"/>
<circle cx="1097.7" cy="1777.1" r="4.3" fill="#404040" fill-opacity="0.35"/>
<circle cx="1099.9" cy="1775.7" r="4.3" fill="#404040" fill-opacity="0.35"/>
<circle cx="1103.3" cy="1773.0" r="4.3" fill="#404040" fill-opacity="0.35"/>
<circle cx="1101.0" cy="1770.8" r="4.3" fill="#404040" fill-opacity="0.35"/>
<circle cx="1107.9" cy="1769.6" r="4.3" fill="#404040" fill-opacity="0.35"/>
<circle cx="1102.5" cy="1769.0" r="4.3" fill="#404040" fill-opacity="0.35"/>
<circle cx="1108.2" cy="1767.6" r="4.3" fill="#404040" fill-opacity="0.35"/>
<circle cx="1099.4" cy="1760.4" r="4.3" fill="#404040" fill-opacity="0.35"/>
<circle cx="1104.6" cy="1755.6" r="4.3" fill="#404040" fill-opacity="0.35"/>
<circle cx="1110.9" cy="1793.4" r="4.3" fill="#404040" fill-opacity="0.35"/>
<text transform="translate(1103.3,1739.0) scale(1,1.05)" font-size="26.5" text-anchor="middle">d</text>
<text transform="translate(1107.3,1888.0) scale(1,1.05)" font-size="23.5" text-anchor="middle" fill="#444">15</text>
<line x1="1104.3" y1="1898.6" x2="1104.3" y2="1902.6" stroke="#000" stroke-width="1.6"/>
<text transform="translate(1114.6,1911.0) rotate(-90) scale(1,1.05)" font-size="27.5" text-anchor="end">21FR_24h &gt;&gt;30WL</text>
<line x1="1164.1" y1="1717.8" x2="1164.1" y2="1760.6" stroke="#222" stroke-width="1.3"/>
<rect x="1143.1" y="1727.1" width="42.0" height="16.8" fill="#ababab" stroke="#2b2b2b" stroke-width="1.5"/>
<line x1="1143.1" y1="1733.4" x2="1185.1" y2="1733.4" stroke="#222" stroke-width="2.5"/>
<circle cx="1167.3" cy="1717.8" r="4.3" fill="#404040" fill-opacity="0.35"/>
<circle cx="1159.0" cy="1760.6" r="4.3" fill="#404040" fill-opacity="0.35"/>
<circle cx="1163.8" cy="1757.2" r="4.3" fill="#404040" fill-opacity="0.35"/>
<circle cx="1167.0" cy="1754.6" r="4.3" fill="#404040" fill-opacity="0.35"/>
<circle cx="1157.2" cy="1749.4" r="4.3" fill="#404040" fill-opacity="0.35"/>
<circle cx="1167.9" cy="1742.7" r="4.3" fill="#404040" fill-opacity="0.35"/>
<circle cx="1163.0" cy="1740.2" r="4.3" fill="#404040" fill-opacity="0.35"/>
<circle cx="1164.2" cy="1737.0" r="4.3" fill="#404040" fill-opacity="0.35"/>
<circle cx="1165.6" cy="1733.5" r="4.3" fill="#404040" fill-opacity="0.35"/>
<circle cx="1168.2" cy="1731.3" r="4.3" fill="#404040" fill-opacity="0.35"/>
<circle cx="1157.9" cy="1728.8" r="4.3" fill="#404040" fill-opacity="0.35"/>
<circle cx="1164.1" cy="1728.0" r="4.3" fill="#404040" fill-opacity="0.35"/>
<circle cx="1157.6" cy="1724.8" r="4.3" fill="#404040" fill-opacity="0.35"/>
<circle cx="1162.5" cy="1722.6" r="4.3" fill="#404040" fill-opacity="0.35"/>
<circle cx="1161.9" cy="1719.1" r="4.3" fill="#404040" fill-opacity="0.35"/>
<text transform="translate(1163.1,1691.7) scale(1,1.05)" font-size="26.5" text-anchor="middle">bc</text>
<text transform="translate(1167.1,1888.0) scale(1,1.05)" font-size="23.5" text-anchor="middle" fill="#444">15</text>
<line x1="1164.1" y1="1898.6" x2="1164.1" y2="1902.6" stroke="#000" stroke-width="1.6"/>
<text transform="translate(1174.4,1911.0) rotate(-90) scale(1,1.05)" font-size="27.5" text-anchor="end">21FR_48h &gt;&gt;30WL</text>
<line x1="1223.9" y1="1720.8" x2="1223.9" y2="1788.6" stroke="#222" stroke-width="1.3"/>
<rect x="1202.9" y="1737.5" width="42.0" height="31.7" fill="#ff3300" stroke="#2b2b2b" stroke-width="1.5"/>
<line x1="1202.9" y1="1748.3" x2="1244.9" y2="1748.3" stroke="#222" stroke-width="2.5"/>
<circle cx="1229.9" cy="1720.8" r="4.3" fill="#404040" fill-opacity="0.35"/>
<circle cx="1218.0" cy="1788.6" r="4.3" fill="#404040" fill-opacity="0.35"/>
<circle cx="1223.2" cy="1787.9" r="4.3" fill="#404040" fill-opacity="0.35"/>
<circle cx="1227.2" cy="1780.6" r="4.3" fill="#404040" fill-opacity="0.35"/>
<circle cx="1224.3" cy="1773.9" r="4.3" fill="#404040" fill-opacity="0.35"/>
<circle cx="1222.3" cy="1766.8" r="4.3" fill="#404040" fill-opacity="0.35"/>
<circle cx="1229.8" cy="1759.0" r="4.3" fill="#404040" fill-opacity="0.35"/>
<circle cx="1221.1" cy="1755.4" r="4.3" fill="#404040" fill-opacity="0.35"/>
<circle cx="1224.6" cy="1748.2" r="4.3" fill="#404040" fill-opacity="0.35"/>
<circle cx="1228.5" cy="1744.4" r="4.3" fill="#404040" fill-opacity="0.35"/>
<circle cx="1218.8" cy="1740.5" r="4.3" fill="#404040" fill-opacity="0.35"/>
<circle cx="1221.8" cy="1736.9" r="4.3" fill="#404040" fill-opacity="0.35"/>
<circle cx="1223.8" cy="1731.6" r="4.3" fill="#404040" fill-opacity="0.35"/>
<circle cx="1224.8" cy="1729.3" r="4.3" fill="#404040" fill-opacity="0.35"/>
<circle cx="1219.8" cy="1724.7" r="4.3" fill="#404040" fill-opacity="0.35"/>
<text transform="translate(1222.9,1696.6) scale(1,1.05)" font-size="26.5" text-anchor="middle">cd</text>
<text transform="translate(1226.9,1888.0) scale(1,1.05)" font-size="23.5" text-anchor="middle" fill="#444">15</text>
<line x1="1223.9" y1="1898.6" x2="1223.9" y2="1902.6" stroke="#000" stroke-width="1.6"/>
<text transform="translate(1234.2,1911.0) rotate(-90) scale(1,1.05)" font-size="27.5" text-anchor="end">30WL</text>
<line x1="1283.7" y1="1736.4" x2="1283.7" y2="1758.8" stroke="#222" stroke-width="1.3"/>
<rect x="1262.7" y="1740.1" width="42.0" height="8.6" fill="#ababab" stroke="#2b2b2b" stroke-width="1.5"/>
<line x1="1262.7" y1="1742.4" x2="1304.7" y2="1742.4" stroke="#222" stroke-width="2.5"/>
<circle cx="1288.3" cy="1736.4" r="4.3" fill="#404040" fill-opacity="0.35"/>
<circle cx="1285.5" cy="1758.8" r="4.3" fill="#404040" fill-opacity="0.35"/>
<circle cx="1282.1" cy="1757.1" r="4.3" fill="#404040" fill-opacity="0.35"/>
<circle cx="1285.5" cy="1754.6" r="4.3" fill="#404040" fill-opacity="0.35"/>
<circle cx="1280.1" cy="1750.8" r="4.3" fill="#404040" fill-opacity="0.35"/>
<circle cx="1280.4" cy="1747.3" r="4.3" fill="#404040" fill-opacity="0.35"/>
<circle cx="1289.0" cy="1745.3" r="4.3" fill="#404040" fill-opacity="0.35"/>
<circle cx="1282.8" cy="1742.1" r="4.3" fill="#404040" fill-opacity="0.35"/>
<circle cx="1289.3" cy="1741.7" r="4.3" fill="#404040" fill-opacity="0.35"/>
<circle cx="1279.2" cy="1740.9" r="4.3" fill="#404040" fill-opacity="0.35"/>
<circle cx="1278.6" cy="1739.5" r="4.3" fill="#404040" fill-opacity="0.35"/>
<circle cx="1277.4" cy="1738.2" r="4.3" fill="#404040" fill-opacity="0.35"/>
<circle cx="1287.1" cy="1737.3" r="4.3" fill="#404040" fill-opacity="0.35"/>
<circle cx="1284.6" cy="1714.0" r="4.3" fill="#404040" fill-opacity="0.35"/>
<circle cx="1276.8" cy="1722.0" r="4.3" fill="#404040" fill-opacity="0.35"/>
<text transform="translate(1282.7,1708.5) scale(1,1.05)" font-size="26.5" text-anchor="middle">bc</text>
<text transform="translate(1286.7,1888.0) scale(1,1.05)" font-size="23.5" text-anchor="middle" fill="#444">15</text>
<line x1="1283.7" y1="1898.6" x2="1283.7" y2="1902.6" stroke="#000" stroke-width="1.6"/>
<text transform="translate(1294.0,1911.0) rotate(-90) scale(1,1.05)" font-size="27.5" text-anchor="end">30WL_3h &gt;&gt;21FR</text>
<line x1="1343.5" y1="1698.4" x2="1343.5" y2="1762.5" stroke="#222" stroke-width="1.3"/>
<rect x="1322.5" y="1723.4" width="42.0" height="19.4" fill="#ababab" stroke="#2b2b2b" stroke-width="1.5"/>
<line x1="1322.5" y1="1738.3" x2="1364.5" y2="1738.3" stroke="#222" stroke-width="2.5"/>
<circle cx="1337.4" cy="1698.4" r="4.3" fill="#404040" fill-opacity="0.35"/>
<circle cx="1346.1" cy="1762.5" r="4.3" fill="#404040" fill-opacity="0.35"/>
<circle cx="1337.8" cy="1761.7" r="4.3" fill="#404040" fill-opacity="0.35"/>
<circle cx="1337.4" cy="1751.8" r="4.3" fill="#404040" fill-opacity="0.35"/>
<circle cx="1342.9" cy="1747.4" r="4.3" fill="#404040" fill-opacity="0.35"/>
<circle cx="1345.6" cy="1742.0" r="4.3" fill="#404040" fill-opacity="0.35"/>
<circle cx="1349.0" cy="1741.6" r="4.3" fill="#404040" fill-opacity="0.35"/>
<circle cx="1346.6" cy="1739.6" r="4.3" fill="#404040" fill-opacity="0.35"/>
<circle cx="1337.5" cy="1738.7" r="4.3" fill="#404040" fill-opacity="0.35"/>
<circle cx="1345.5" cy="1732.9" r="4.3" fill="#404040" fill-opacity="0.35"/>
<circle cx="1348.3" cy="1728.7" r="4.3" fill="#404040" fill-opacity="0.35"/>
<circle cx="1338.2" cy="1724.1" r="4.3" fill="#404040" fill-opacity="0.35"/>
<circle cx="1347.1" cy="1719.3" r="4.3" fill="#404040" fill-opacity="0.35"/>
<circle cx="1340.1" cy="1707.2" r="4.3" fill="#404040" fill-opacity="0.35"/>
<circle cx="1340.7" cy="1704.6" r="4.3" fill="#404040" fill-opacity="0.35"/>
<text transform="translate(1342.5,1681.3) scale(1,1.05)" font-size="26.5" text-anchor="middle">bc</text>
<text transform="translate(1346.5,1888.0) scale(1,1.05)" font-size="23.5" text-anchor="middle" fill="#444">15</text>
<line x1="1343.5" y1="1898.6" x2="1343.5" y2="1902.6" stroke="#000" stroke-width="1.6"/>
<text transform="translate(1353.8,1911.0) rotate(-90) scale(1,1.05)" font-size="27.5" text-anchor="end">30WL_6h &gt;&gt;21FR</text>
<line x1="1403.3" y1="1714.1" x2="1403.3" y2="1755.0" stroke="#222" stroke-width="1.3"/>
<rect x="1382.3" y="1733.4" width="42.0" height="14.9" fill="#ababab" stroke="#2b2b2b" stroke-width="1.5"/>
<line x1="1382.3" y1="1738.3" x2="1424.3" y2="1738.3" stroke="#222" stroke-width="2.5"/>
<circle cx="1402.3" cy="1714.1" r="4.3" fill="#404040" fill-opacity="0.35"/>
<circle cx="1405.0" cy="1755.0" r="4.3" fill="#404040" fill-opacity="0.35"/>
<circle cx="1405.4" cy="1754.8" r="4.3" fill="#404040" fill-opacity="0.35"/>
<circle cx="1398.7" cy="1751.5" r="4.3" fill="#404040" fill-opacity="0.35"/>
<circle cx="1398.2" cy="1749.8" r="4.3" fill="#404040" fill-opacity="0.35"/>
<circle cx="1403.2" cy="1746.5" r="4.3" fill="#404040" fill-opacity="0.35"/>
<circle cx="1405.9" cy="1744.5" r="4.3" fill="#404040" fill-opacity="0.35"/>
<circle cx="1402.6" cy="1742.2" r="4.3" fill="#404040" fill-opacity="0.35"/>
<circle cx="1404.3" cy="1739.0" r="4.3" fill="#404040" fill-opacity="0.35"/>
<circle cx="1409.1" cy="1737.1" r="4.3" fill="#404040" fill-opacity="0.35"/>
<circle cx="1398.3" cy="1734.7" r="4.3" fill="#404040" fill-opacity="0.35"/>
<circle cx="1400.0" cy="1734.1" r="4.3" fill="#404040" fill-opacity="0.35"/>
<circle cx="1403.2" cy="1730.9" r="4.3" fill="#404040" fill-opacity="0.35"/>
<circle cx="1403.8" cy="1723.7" r="4.3" fill="#404040" fill-opacity="0.35"/>
<circle cx="1408.9" cy="1719.1" r="4.3" fill="#404040" fill-opacity="0.35"/>
<text transform="translate(1402.3,1698.4) scale(1,1.05)" font-size="26.5" text-anchor="middle">bc</text>
<text transform="translate(1406.3,1888.0) scale(1,1.05)" font-size="23.5" text-anchor="middle" fill="#444">15</text>
<line x1="1403.3" y1="1898.6" x2="1403.3" y2="1902.6" stroke="#000" stroke-width="1.6"/>
<text transform="translate(1413.6,1911.0) rotate(-90) scale(1,1.05)" font-size="27.5" text-anchor="end">30WL_24h &gt;&gt;21FR</text>
<line x1="1463.1" y1="1727.1" x2="1463.1" y2="1766.2" stroke="#222" stroke-width="1.3"/>
<rect x="1442.1" y="1733.8" width="42.0" height="19.4" fill="#ababab" stroke="#2b2b2b" stroke-width="1.5"/>
<line x1="1442.1" y1="1743.1" x2="1484.1" y2="1743.1" stroke="#222" stroke-width="2.5"/>
<circle cx="1469.5" cy="1727.1" r="4.3" fill="#404040" fill-opacity="0.35"/>
<circle cx="1457.7" cy="1766.2" r="4.3" fill="#404040" fill-opacity="0.35"/>
<circle cx="1466.9" cy="1764.0" r="4.3" fill="#404040" fill-opacity="0.35"/>
<circle cx="1460.8" cy="1759.7" r="4.3" fill="#404040" fill-opacity="0.35"/>
<circle cx="1457.5" cy="1756.5" r="4.3" fill="#404040" fill-opacity="0.35"/>
<circle cx="1464.9" cy="1751.7" r="4.3" fill="#404040" fill-opacity="0.35"/>
<circle cx="1467.9" cy="1748.5" r="4.3" fill="#404040" fill-opacity="0.35"/>
<circle cx="1464.3" cy="1746.7" r="4.3" fill="#404040" fill-opacity="0.35"/>
<circle cx="1456.8" cy="1744.1" r="4.3" fill="#404040" fill-opacity="0.35"/>
<circle cx="1469.7" cy="1740.8" r="4.3" fill="#404040" fill-opacity="0.35"/>
<circle cx="1461.5" cy="1737.7" r="4.3" fill="#404040" fill-opacity="0.35"/>
<circle cx="1465.0" cy="1733.7" r="4.3" fill="#404040" fill-opacity="0.35"/>
<circle cx="1466.2" cy="1732.6" r="4.3" fill="#404040" fill-opacity="0.35"/>
<circle cx="1459.7" cy="1730.0" r="4.3" fill="#404040" fill-opacity="0.35"/>
<circle cx="1461.8" cy="1727.9" r="4.3" fill="#404040" fill-opacity="0.35"/>
<text transform="translate(1462.1,1704.8) scale(1,1.05)" font-size="26.5" text-anchor="middle">bc</text>
<text transform="translate(1466.1,1888.0) scale(1,1.05)" font-size="23.5" text-anchor="middle" fill="#444">15</text>
<line x1="1463.1" y1="1898.6" x2="1463.1" y2="1902.6" stroke="#000" stroke-width="1.6"/>
<text transform="translate(1473.4,1911.0) rotate(-90) scale(1,1.05)" font-size="27.5" text-anchor="end">30WL_48h &gt;&gt;21FR</text>
<g font-weight="bold">
<text transform="translate(975.0,1616.1) scale(1,1.05)" font-size="25">21FR</text>
<text transform="translate(1111.0,1616.1) scale(1,1.05)" font-size="25">30WL</text>
<text transform="translate(1271.2,1616.1) scale(1,1.05)" font-size="25">30WL</text>
<text transform="translate(1405.2,1616.1) scale(1,1.05)" font-size="25">21FR</text>
</g>
<line x1="1056.2" y1="1609.8" x2="1092.3" y2="1609.8" stroke="#000" stroke-width="1.8"/>
<path d="M1098.3,1609.8 L1088.3,1605.6 L1088.3,1614 Z" fill="#000"/>
<line x1="1349.7" y1="1609.8" x2="1385.8" y2="1609.8" stroke="#000" stroke-width="1.8"/>
<path d="M1391.8,1609.8 L1381.8,1605.6 L1381.8,1614 Z" fill="#000"/>
<line x1="959.7" y1="1624.7" x2="1187.0" y2="1624.7" stroke="#000" stroke-width="2.5"/>
<line x1="1259.2" y1="1624.7" x2="1485.6" y2="1624.7" stroke="#000" stroke-width="2.5"/>
</svg></body></html>
